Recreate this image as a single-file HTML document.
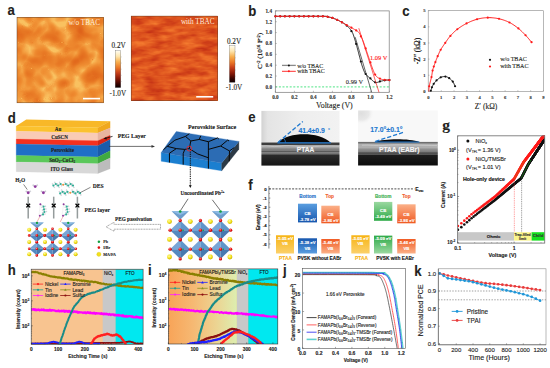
<!DOCTYPE html><html><head><meta charset="utf-8"><style>html,body{margin:0;padding:0;background:#fff;width:550px;height:368px;overflow:hidden}svg{display:block}</style></head><body>
<svg width="550" height="368" viewBox="0 0 550 368">
<defs>
<filter id="afm1" x="0" y="0" width="100%" height="100%" color-interpolation-filters="sRGB">
<feTurbulence type="turbulence" baseFrequency="0.045" numOctaves="2" seed="3" result="t"/>
<feColorMatrix in="t" type="matrix" values="1 0 0 0 0 1 0 0 0 0 1 0 0 0 0 0 0 0 0 1" result="tg"/>
<feTurbulence type="fractalNoise" baseFrequency="0.07" numOctaves="2" seed="5" result="f"/>
<feColorMatrix in="f" type="matrix" values="1 0 0 0 0 1 0 0 0 0 1 0 0 0 0 0 0 0 0 1" result="fg"/>
<feComposite in="tg" in2="fg" operator="arithmetic" k1="0" k2="0.8" k3="0.9" k4="-0.3" result="c"/>
<feComponentTransfer in="c">
<feFuncR type="table" tableValues="0.98 0.96 0.94 0.92 0.90 0.88 0.85"/>
<feFuncG type="table" tableValues="0.76 0.64 0.56 0.50 0.45 0.40 0.35"/>
<feFuncB type="table" tableValues="0.38 0.27 0.20 0.16 0.13 0.11 0.09"/>
<feFuncA type="linear" slope="0" intercept="1"/>
</feComponentTransfer><feGaussianBlur stdDeviation="0.7"/></filter>
<filter id="afm2" x="0" y="0" width="100%" height="100%" color-interpolation-filters="sRGB">
<feTurbulence type="fractalNoise" baseFrequency="0.055 0.17" numOctaves="3" seed="9"/>
<feColorMatrix type="matrix" values="1 0 0 0 0 1 0 0 0 0 1 0 0 0 0 0 0 0 0 1"/>
<feComponentTransfer>
<feFuncR type="table" tableValues="0.72 0.79 0.85 0.90 0.95 0.99"/>
<feFuncG type="table" tableValues="0.15 0.22 0.30 0.38 0.47 0.58"/>
<feFuncB type="table" tableValues="0.07 0.09 0.11 0.14 0.18 0.24"/>
</feComponentTransfer><feGaussianBlur stdDeviation="0.4"/></filter>
<linearGradient id="cbar" x1="0" y1="0" x2="0" y2="1">
<stop offset="0" stop-color="#fffdf0"/><stop offset="0.15" stop-color="#fde6b0"/><stop offset="0.3" stop-color="#f8b050"/>
<stop offset="0.45" stop-color="#ec7a28"/><stop offset="0.6" stop-color="#c8401a"/><stop offset="0.75" stop-color="#8a1a08"/><stop offset="0.9" stop-color="#3a0400"/><stop offset="1" stop-color="#0a0000"/></linearGradient>
<radialGradient id="ysph" cx="0.4" cy="0.35" r="0.65"><stop offset="0" stop-color="#fffca0"/><stop offset="0.6" stop-color="#f2e01a"/><stop offset="1" stop-color="#c8b000"/></radialGradient>
<radialGradient id="rsph" cx="0.4" cy="0.35" r="0.65"><stop offset="0" stop-color="#ff8a8a"/><stop offset="0.6" stop-color="#e81010"/><stop offset="1" stop-color="#b00000"/></radialGradient>
</defs>
<text x="0.00" y="0.00" font-family='"Liberation Sans", sans-serif' font-size="15" text-anchor="start" font-weight="bold" fill="#231f20" stroke="#231f20" stroke-width="0.12" transform="translate(7.6,15.3) scale(0.88,1)">a</text>
<rect x="17.00" y="17.30" width="86.50" height="85.50" fill="#e8903a" stroke="none" stroke-width="0.6" filter="url(#afm1)"/>
<rect x="17.00" y="17.30" width="86.50" height="85.50" fill="none" stroke="#6a4a30" stroke-width="0.5" />
<rect x="131.20" y="16.10" width="86.50" height="84.50" fill="#d86020" stroke="none" stroke-width="0.6" filter="url(#afm2)"/>
<rect x="131.20" y="16.10" width="86.50" height="84.50" fill="none" stroke="#6a3a20" stroke-width="0.5" />
<text x="100.00" y="24.90" font-family='"Liberation Serif", serif' font-size="7.2" text-anchor="end" font-weight="normal" fill="#fff0dc"  stroke="none">w/o TBAC</text>
<text x="214.50" y="23.50" font-family='"Liberation Serif", serif' font-size="7.2" text-anchor="end" font-weight="normal" fill="#fff0dc"  stroke="none">with TBAC</text>
<rect x="83.00" y="97.80" width="17.00" height="1.60" fill="#ffffff" stroke="none" stroke-width="0.6" />
<rect x="196.20" y="96.00" width="17.00" height="1.60" fill="#ffffff" stroke="none" stroke-width="0.6" />
<rect x="115.20" y="50.80" width="5.60" height="36.80" fill="url(#cbar)" stroke="#555" stroke-width="0.3" />
<rect x="229.40" y="45.60" width="5.60" height="36.70" fill="url(#cbar)" stroke="#555" stroke-width="0.3" />
<line x1="120.80" y1="56.93" x2="121.80" y2="56.93" stroke="#888" stroke-width="0.3" />
<line x1="120.80" y1="63.07" x2="121.80" y2="63.07" stroke="#888" stroke-width="0.3" />
<line x1="120.80" y1="69.20" x2="121.80" y2="69.20" stroke="#888" stroke-width="0.3" />
<line x1="120.80" y1="75.33" x2="121.80" y2="75.33" stroke="#888" stroke-width="0.3" />
<line x1="120.80" y1="81.47" x2="121.80" y2="81.47" stroke="#888" stroke-width="0.3" />
<line x1="235.00" y1="51.72" x2="236.00" y2="51.72" stroke="#888" stroke-width="0.3" />
<line x1="235.00" y1="57.83" x2="236.00" y2="57.83" stroke="#888" stroke-width="0.3" />
<line x1="235.00" y1="63.95" x2="236.00" y2="63.95" stroke="#888" stroke-width="0.3" />
<line x1="235.00" y1="70.07" x2="236.00" y2="70.07" stroke="#888" stroke-width="0.3" />
<line x1="235.00" y1="76.18" x2="236.00" y2="76.18" stroke="#888" stroke-width="0.3" />
<text x="118.60" y="48.30" font-family='"Liberation Serif", serif' font-size="7.2" text-anchor="middle" font-weight="normal" fill="#231f20" stroke="#231f20" stroke-width="0.12" >0.2V</text>
<text x="117.80" y="95.90" font-family='"Liberation Serif", serif' font-size="7.2" text-anchor="middle" font-weight="normal" fill="#231f20" stroke="#231f20" stroke-width="0.12" >-1.0V</text>
<text x="234.00" y="44.20" font-family='"Liberation Serif", serif' font-size="7.2" text-anchor="middle" font-weight="normal" fill="#231f20" stroke="#231f20" stroke-width="0.12" >0.2V</text>
<text x="234.00" y="89.90" font-family='"Liberation Serif", serif' font-size="7.2" text-anchor="middle" font-weight="normal" fill="#231f20" stroke="#231f20" stroke-width="0.12" >-1.0V</text>
<text x="0.00" y="0.00" font-family='"Liberation Sans", sans-serif' font-size="15" text-anchor="start" font-weight="bold" fill="#231f20" stroke="#231f20" stroke-width="0.12" transform="translate(248.3,15.5) scale(0.88,1)">b</text>
<line x1="275.30" y1="86.90" x2="389.20" y2="86.90" stroke="#22dd66" stroke-width="0.8" stroke-dasharray="2,1.6"/>
<rect x="275.30" y="10.90" width="113.90" height="81.40" fill="none" stroke="#777" stroke-width="0.7" />
<line x1="275.30" y1="86.90" x2="276.80" y2="86.90" stroke="#777" stroke-width="0.5" />
<text x="272.00" y="88.70" font-family='"Liberation Serif", serif' font-size="5.2" text-anchor="end" font-weight="bold" fill="#333" stroke="#333" stroke-width="0.12" >0.0</text>
<line x1="275.30" y1="76.04" x2="276.80" y2="76.04" stroke="#777" stroke-width="0.5" />
<text x="272.00" y="77.84" font-family='"Liberation Serif", serif' font-size="5.2" text-anchor="end" font-weight="bold" fill="#333" stroke="#333" stroke-width="0.12" >0.2</text>
<line x1="275.30" y1="65.18" x2="276.80" y2="65.18" stroke="#777" stroke-width="0.5" />
<text x="272.00" y="66.98" font-family='"Liberation Serif", serif' font-size="5.2" text-anchor="end" font-weight="bold" fill="#333" stroke="#333" stroke-width="0.12" >0.4</text>
<line x1="275.30" y1="54.32" x2="276.80" y2="54.32" stroke="#777" stroke-width="0.5" />
<text x="272.00" y="56.12" font-family='"Liberation Serif", serif' font-size="5.2" text-anchor="end" font-weight="bold" fill="#333" stroke="#333" stroke-width="0.12" >0.6</text>
<line x1="275.30" y1="43.46" x2="276.80" y2="43.46" stroke="#777" stroke-width="0.5" />
<text x="272.00" y="45.26" font-family='"Liberation Serif", serif' font-size="5.2" text-anchor="end" font-weight="bold" fill="#333" stroke="#333" stroke-width="0.12" >0.8</text>
<line x1="275.30" y1="32.60" x2="276.80" y2="32.60" stroke="#777" stroke-width="0.5" />
<text x="272.00" y="34.40" font-family='"Liberation Serif", serif' font-size="5.2" text-anchor="end" font-weight="bold" fill="#333" stroke="#333" stroke-width="0.12" >1.0</text>
<line x1="275.30" y1="21.74" x2="276.80" y2="21.74" stroke="#777" stroke-width="0.5" />
<text x="272.00" y="23.54" font-family='"Liberation Serif", serif' font-size="5.2" text-anchor="end" font-weight="bold" fill="#333" stroke="#333" stroke-width="0.12" >1.2</text>
<line x1="275.30" y1="10.88" x2="276.80" y2="10.88" stroke="#777" stroke-width="0.5" />
<text x="272.00" y="12.68" font-family='"Liberation Serif", serif' font-size="5.2" text-anchor="end" font-weight="bold" fill="#333" stroke="#333" stroke-width="0.12" >1.4</text>
<line x1="275.40" y1="92.30" x2="275.40" y2="90.80" stroke="#777" stroke-width="0.5" />
<text x="275.40" y="99.00" font-family='"Liberation Serif", serif' font-size="5.2" text-anchor="middle" font-weight="bold" fill="#333" stroke="#333" stroke-width="0.12" >0.0</text>
<line x1="294.40" y1="92.30" x2="294.40" y2="90.80" stroke="#777" stroke-width="0.5" />
<text x="294.40" y="99.00" font-family='"Liberation Serif", serif' font-size="5.2" text-anchor="middle" font-weight="bold" fill="#333" stroke="#333" stroke-width="0.12" >0.2</text>
<line x1="313.40" y1="92.30" x2="313.40" y2="90.80" stroke="#777" stroke-width="0.5" />
<text x="313.40" y="99.00" font-family='"Liberation Serif", serif' font-size="5.2" text-anchor="middle" font-weight="bold" fill="#333" stroke="#333" stroke-width="0.12" >0.4</text>
<line x1="332.40" y1="92.30" x2="332.40" y2="90.80" stroke="#777" stroke-width="0.5" />
<text x="332.40" y="99.00" font-family='"Liberation Serif", serif' font-size="5.2" text-anchor="middle" font-weight="bold" fill="#333" stroke="#333" stroke-width="0.12" >0.6</text>
<line x1="351.40" y1="92.30" x2="351.40" y2="90.80" stroke="#777" stroke-width="0.5" />
<text x="351.40" y="99.00" font-family='"Liberation Serif", serif' font-size="5.2" text-anchor="middle" font-weight="bold" fill="#333" stroke="#333" stroke-width="0.12" >0.8</text>
<line x1="370.40" y1="92.30" x2="370.40" y2="90.80" stroke="#777" stroke-width="0.5" />
<text x="370.40" y="99.00" font-family='"Liberation Serif", serif' font-size="5.2" text-anchor="middle" font-weight="bold" fill="#333" stroke="#333" stroke-width="0.12" >1.0</text>
<line x1="389.40" y1="92.30" x2="389.40" y2="90.80" stroke="#777" stroke-width="0.5" />
<text x="389.40" y="99.00" font-family='"Liberation Serif", serif' font-size="5.2" text-anchor="middle" font-weight="bold" fill="#333" stroke="#333" stroke-width="0.12" >1.2</text>
<text x="334.40" y="108.40" font-family='"Liberation Serif", serif' font-size="7.85" text-anchor="middle" font-weight="normal" fill="#231f20" stroke="#231f20" stroke-width="0.12" >Voltage (V)</text>
<text x="0.00" y="0.00" font-family='"Liberation Serif", serif' font-size="7.1" text-anchor="middle" font-weight="normal" fill="#111"  stroke="#111" stroke-width="0.2" transform="translate(262.2,50.9) rotate(-90)">C<tspan dy="-2.5" font-size="4.5">-2</tspan><tspan dy="2.5"> (10</tspan><tspan dy="-2.5" font-size="4.5">16</tspan><tspan dy="2.5"> F</tspan><tspan dy="-2.5" font-size="4.5">-2</tspan><tspan dy="2.5">)</tspan></text>
<polyline points="275.40,16.31 278.42,16.31 282.54,16.30 287.51,16.29 293.03,16.28 298.85,16.28 304.70,16.27 310.30,16.27 315.38,16.28 319.67,16.29 322.90,16.31 325.11,16.34 326.59,16.38 327.47,16.42 327.88,16.46 327.95,16.51 327.80,16.57 327.57,16.63 327.38,16.70 327.37,16.77 327.65,16.85 328.12,16.94 328.60,17.02 329.07,17.11 329.55,17.21 330.02,17.31 330.50,17.42 330.97,17.54 331.45,17.66 331.92,17.79 332.40,17.94 332.88,18.09 333.35,18.26 333.82,18.43 334.30,18.61 334.77,18.80 335.25,19.00 335.72,19.20 336.20,19.41 336.67,19.62 337.15,19.84 337.63,20.06 338.11,20.29 338.60,20.53 339.09,20.78 339.57,21.02 340.05,21.28 340.53,21.53 341.00,21.78 341.46,22.03 341.90,22.28 342.33,22.53 342.76,22.77 343.18,23.01 343.59,23.24 343.99,23.48 344.39,23.73 344.77,23.98 345.15,24.24 345.53,24.50 345.89,24.78 346.24,25.07 346.58,25.35 346.91,25.65 347.23,25.94 347.55,26.25 347.86,26.57 348.17,26.90 348.48,27.24 348.80,27.60 349.12,27.98 349.45,28.37 349.78,28.74 350.11,29.11 350.45,29.49 350.78,29.89 351.12,30.33 351.45,30.80 351.78,31.33 352.12,31.93 352.44,32.60 352.78,33.37 353.12,34.23 353.46,35.18 353.80,36.18 354.14,37.22 354.47,38.27 354.79,39.32 355.10,40.34 355.40,41.31 355.67,42.21 355.93,43.05 356.16,43.84 356.38,44.61 356.58,45.34 356.78,46.07 356.97,46.79 357.16,47.52 357.35,48.26 357.55,49.02 357.76,49.81 357.99,50.64 358.21,51.50 358.44,52.37 358.67,53.26 358.90,54.16 359.13,55.05 359.36,55.94 359.59,56.82 359.82,57.67 360.04,58.50 360.26,59.31 360.47,60.09 360.68,60.86 360.88,61.62 361.08,62.37 361.29,63.11 361.51,63.86 361.73,64.60 361.97,65.35 362.23,66.10 362.50,66.88 362.77,67.68 363.06,68.49 363.35,69.30 363.65,70.11 363.97,70.90 364.30,71.67 364.64,72.40 364.99,73.08 365.36,73.71 365.75,74.27 366.16,74.77 366.58,75.23 367.01,75.65 367.45,76.05 367.91,76.43 368.38,76.80 368.85,77.18 369.34,77.58 369.83,77.99 370.33,78.45 370.85,78.96 371.38,79.48 371.93,80.01 372.48,80.53 373.03,81.02 373.59,81.47 374.15,81.86 374.70,82.17 375.25,82.39 375.79,82.51 376.34,82.53 376.90,82.47 377.46,82.35 378.02,82.19 378.57,82.00 379.11,81.81 379.64,81.61 380.16,81.44 380.66,81.31 381.14,81.19 381.60,81.07 382.05,80.95 382.48,80.83 382.91,80.70 383.33,80.59 383.75,80.48 384.17,80.38 384.60,80.29 385.03,80.22 385.49,80.17 385.97,80.14 386.48,80.11 386.99,80.10 387.49,80.10 387.97,80.10 388.41,80.11 388.81,80.11 389.14,80.11 389.40,80.11" fill="none" stroke="#111" stroke-width="0.9" stroke-linejoin="round" />
<circle cx="275.40" cy="16.31" r="1.10" fill="#111" stroke="none" stroke-width="0.5" />
<circle cx="280.15" cy="16.31" r="1.10" fill="#111" stroke="none" stroke-width="0.5" />
<circle cx="284.90" cy="16.31" r="1.10" fill="#111" stroke="none" stroke-width="0.5" />
<circle cx="289.65" cy="16.31" r="1.10" fill="#111" stroke="none" stroke-width="0.5" />
<circle cx="294.40" cy="16.31" r="1.10" fill="#111" stroke="none" stroke-width="0.5" />
<circle cx="299.15" cy="16.31" r="1.10" fill="#111" stroke="none" stroke-width="0.5" />
<circle cx="303.90" cy="16.31" r="1.10" fill="#111" stroke="none" stroke-width="0.5" />
<circle cx="308.65" cy="16.31" r="1.10" fill="#111" stroke="none" stroke-width="0.5" />
<circle cx="313.40" cy="16.31" r="1.10" fill="#111" stroke="none" stroke-width="0.5" />
<circle cx="318.15" cy="16.31" r="1.10" fill="#111" stroke="none" stroke-width="0.5" />
<circle cx="322.90" cy="16.31" r="1.10" fill="#111" stroke="none" stroke-width="0.5" />
<circle cx="327.65" cy="16.85" r="1.10" fill="#111" stroke="none" stroke-width="0.5" />
<circle cx="332.40" cy="17.94" r="1.10" fill="#111" stroke="none" stroke-width="0.5" />
<circle cx="337.15" cy="19.84" r="1.10" fill="#111" stroke="none" stroke-width="0.5" />
<circle cx="341.90" cy="22.28" r="1.10" fill="#111" stroke="none" stroke-width="0.5" />
<circle cx="346.65" cy="25.53" r="1.10" fill="#111" stroke="none" stroke-width="0.5" />
<circle cx="351.40" cy="31.15" r="1.10" fill="#111" stroke="none" stroke-width="0.5" />
<circle cx="356.15" cy="43.94" r="1.10" fill="#111" stroke="none" stroke-width="0.5" />
<circle cx="360.90" cy="61.48" r="1.10" fill="#111" stroke="none" stroke-width="0.5" />
<circle cx="365.65" cy="73.98" r="1.10" fill="#111" stroke="none" stroke-width="0.5" />
<circle cx="370.40" cy="78.46" r="1.10" fill="#111" stroke="none" stroke-width="0.5" />
<circle cx="375.15" cy="82.32" r="1.10" fill="#111" stroke="none" stroke-width="0.5" />
<circle cx="379.90" cy="81.46" r="1.10" fill="#111" stroke="none" stroke-width="0.5" />
<circle cx="384.65" cy="80.32" r="1.10" fill="#111" stroke="none" stroke-width="0.5" />
<circle cx="389.40" cy="80.11" r="1.10" fill="#111" stroke="none" stroke-width="0.5" />
<polyline points="275.40,16.31 278.42,16.31 282.54,16.30 287.51,16.29 293.03,16.28 298.85,16.28 304.70,16.27 310.30,16.27 315.38,16.28 319.67,16.29 322.90,16.31 325.11,16.34 326.59,16.38 327.47,16.42 327.88,16.46 327.95,16.51 327.80,16.57 327.57,16.63 327.38,16.70 327.37,16.77 327.65,16.85 328.12,16.94 328.60,17.02 329.07,17.11 329.55,17.21 330.02,17.31 330.50,17.42 330.97,17.54 331.45,17.66 331.92,17.79 332.40,17.94 332.88,18.09 333.35,18.26 333.82,18.43 334.30,18.61 334.77,18.80 335.25,19.00 335.72,19.20 336.20,19.41 336.67,19.62 337.15,19.84 337.62,20.06 338.10,20.29 338.57,20.52 339.05,20.76 339.52,21.01 340.00,21.26 340.47,21.51 340.95,21.77 341.42,22.03 341.90,22.28 342.38,22.54 342.85,22.81 343.33,23.08 343.80,23.35 344.28,23.63 344.76,23.91 345.23,24.18 345.71,24.46 346.18,24.73 346.65,25.00 347.12,25.26 347.58,25.52 348.05,25.78 348.51,26.04 348.97,26.29 349.43,26.55 349.90,26.81 350.36,27.07 350.83,27.34 351.30,27.60 351.79,27.88 352.30,28.17 352.81,28.46 353.33,28.75 353.85,29.04 354.35,29.34 354.84,29.62 355.31,29.90 355.75,30.17 356.15,30.43 356.51,30.65 356.83,30.84 357.11,31.00 357.38,31.15 357.62,31.30 357.86,31.47 358.10,31.67 358.35,31.91 358.62,32.22 358.90,32.60 359.22,33.05 359.54,33.56 359.87,34.11 360.20,34.71 360.54,35.34 360.89,36.01 361.23,36.70 361.57,37.42 361.90,38.15 362.23,38.90 362.55,39.67 362.87,40.47 363.18,41.29 363.49,42.15 363.80,43.02 364.11,43.91 364.42,44.82 364.73,45.74 365.04,46.66 365.36,47.59 365.69,48.52 366.02,49.48 366.35,50.45 366.68,51.44 367.02,52.43 367.35,53.43 367.69,54.43 368.02,55.43 368.36,56.43 368.69,57.42 369.02,58.40 369.36,59.41 369.69,60.42 370.02,61.43 370.36,62.44 370.69,63.44 371.02,64.42 371.36,65.37 371.69,66.30 372.01,67.19 372.34,68.06 372.67,68.92 372.99,69.77 373.31,70.60 373.64,71.40 373.96,72.17 374.28,72.90 374.60,73.59 374.92,74.22 375.25,74.79 375.56,75.30 375.87,75.74 376.18,76.13 376.48,76.46 376.79,76.77 377.10,77.04 377.42,77.29 377.76,77.53 378.11,77.76 378.47,77.99 378.88,78.23 379.31,78.44 379.77,78.65 380.25,78.83 380.73,79.00 381.20,79.15 381.66,79.29 382.09,79.42 382.49,79.53 382.84,79.62 383.14,79.70 383.39,79.75 383.59,79.78 383.77,79.79 383.94,79.79 384.10,79.78 384.28,79.77 384.49,79.77 384.73,79.77 385.03,79.79 385.40,79.81 385.83,79.85 386.32,79.88 386.83,79.92 387.35,79.96 387.86,80.00 388.34,80.03 388.77,80.07 389.13,80.09 389.40,80.11" fill="none" stroke="#ff1a1a" stroke-width="0.9" stroke-linejoin="round" />
<circle cx="275.40" cy="16.31" r="1.10" fill="#ff1a1a" stroke="none" stroke-width="0.5" />
<circle cx="280.15" cy="16.31" r="1.10" fill="#ff1a1a" stroke="none" stroke-width="0.5" />
<circle cx="284.90" cy="16.31" r="1.10" fill="#ff1a1a" stroke="none" stroke-width="0.5" />
<circle cx="289.65" cy="16.31" r="1.10" fill="#ff1a1a" stroke="none" stroke-width="0.5" />
<circle cx="294.40" cy="16.31" r="1.10" fill="#ff1a1a" stroke="none" stroke-width="0.5" />
<circle cx="299.15" cy="16.31" r="1.10" fill="#ff1a1a" stroke="none" stroke-width="0.5" />
<circle cx="303.90" cy="16.31" r="1.10" fill="#ff1a1a" stroke="none" stroke-width="0.5" />
<circle cx="308.65" cy="16.31" r="1.10" fill="#ff1a1a" stroke="none" stroke-width="0.5" />
<circle cx="313.40" cy="16.31" r="1.10" fill="#ff1a1a" stroke="none" stroke-width="0.5" />
<circle cx="318.15" cy="16.31" r="1.10" fill="#ff1a1a" stroke="none" stroke-width="0.5" />
<circle cx="322.90" cy="16.31" r="1.10" fill="#ff1a1a" stroke="none" stroke-width="0.5" />
<circle cx="327.65" cy="16.85" r="1.10" fill="#ff1a1a" stroke="none" stroke-width="0.5" />
<circle cx="332.40" cy="17.94" r="1.10" fill="#ff1a1a" stroke="none" stroke-width="0.5" />
<circle cx="337.15" cy="19.84" r="1.10" fill="#ff1a1a" stroke="none" stroke-width="0.5" />
<circle cx="341.90" cy="22.28" r="1.10" fill="#ff1a1a" stroke="none" stroke-width="0.5" />
<circle cx="346.65" cy="25.00" r="1.10" fill="#ff1a1a" stroke="none" stroke-width="0.5" />
<circle cx="351.40" cy="27.66" r="1.10" fill="#ff1a1a" stroke="none" stroke-width="0.5" />
<circle cx="356.15" cy="30.43" r="1.10" fill="#ff1a1a" stroke="none" stroke-width="0.5" />
<circle cx="360.90" cy="36.38" r="1.10" fill="#ff1a1a" stroke="none" stroke-width="0.5" />
<circle cx="365.65" cy="48.43" r="1.10" fill="#ff1a1a" stroke="none" stroke-width="0.5" />
<circle cx="370.40" cy="62.44" r="1.10" fill="#ff1a1a" stroke="none" stroke-width="0.5" />
<circle cx="375.15" cy="74.57" r="1.10" fill="#ff1a1a" stroke="none" stroke-width="0.5" />
<circle cx="379.90" cy="78.53" r="1.10" fill="#ff1a1a" stroke="none" stroke-width="0.5" />
<circle cx="384.65" cy="79.76" r="1.10" fill="#ff1a1a" stroke="none" stroke-width="0.5" />
<circle cx="389.40" cy="80.11" r="1.10" fill="#ff1a1a" stroke="none" stroke-width="0.5" />
<line x1="355.20" y1="37.20" x2="371.70" y2="92.30" stroke="#222" stroke-width="0.7" />
<line x1="358.80" y1="28.20" x2="379.00" y2="92.30" stroke="#ff2020" stroke-width="0.7" />
<text x="378.70" y="60.30" font-family='"Liberation Serif", serif' font-size="6.4" text-anchor="middle" font-weight="normal" fill="#ff2020" stroke="#ff2020" stroke-width="0.12" >1.09 V</text>
<text x="354.50" y="84.40" font-family='"Liberation Serif", serif' font-size="6.4" text-anchor="middle" font-weight="normal" fill="#333" stroke="#333" stroke-width="0.12" >0.99 V</text>
<line x1="282.00" y1="65.40" x2="295.80" y2="65.40" stroke="#8a8a8a" stroke-width="1.3" />
<circle cx="288.90" cy="65.40" r="1.00" fill="#111" stroke="none" stroke-width="0.5" />
<line x1="282.00" y1="71.30" x2="295.80" y2="71.30" stroke="#ff3030" stroke-width="1.0" />
<circle cx="288.90" cy="71.30" r="1.00" fill="#ff1a1a" stroke="none" stroke-width="0.5" />
<text x="297.20" y="67.50" font-family='"Liberation Serif", serif' font-size="5.9" text-anchor="start" font-weight="normal" fill="#231f20" stroke="#231f20" stroke-width="0.12" >w/o TBAC</text>
<text x="297.20" y="73.40" font-family='"Liberation Serif", serif' font-size="5.9" text-anchor="start" font-weight="normal" fill="#231f20" stroke="#231f20" stroke-width="0.12" >with TBAC</text>
<text x="0.00" y="0.00" font-family='"Liberation Sans", sans-serif' font-size="15" text-anchor="start" font-weight="bold" fill="#231f20" stroke="#231f20" stroke-width="0.12" transform="translate(402.3,15.5) scale(0.88,1)">c</text>
<rect x="428.20" y="10.70" width="115.20" height="80.70" fill="none" stroke="#888" stroke-width="0.6" />
<line x1="428.20" y1="91.40" x2="429.50" y2="91.40" stroke="#777" stroke-width="0.4" />
<text x="425.50" y="93.00" font-family='"Liberation Serif", serif' font-size="4.6" text-anchor="end" font-weight="bold" fill="#333" stroke="#333" stroke-width="0.12" >0</text>
<line x1="428.20" y1="75.26" x2="429.50" y2="75.26" stroke="#777" stroke-width="0.4" />
<text x="425.50" y="76.86" font-family='"Liberation Serif", serif' font-size="4.6" text-anchor="end" font-weight="bold" fill="#333" stroke="#333" stroke-width="0.12" >1</text>
<line x1="428.20" y1="59.12" x2="429.50" y2="59.12" stroke="#777" stroke-width="0.4" />
<text x="425.50" y="60.72" font-family='"Liberation Serif", serif' font-size="4.6" text-anchor="end" font-weight="bold" fill="#333" stroke="#333" stroke-width="0.12" >2</text>
<line x1="428.20" y1="42.98" x2="429.50" y2="42.98" stroke="#777" stroke-width="0.4" />
<text x="425.50" y="44.58" font-family='"Liberation Serif", serif' font-size="4.6" text-anchor="end" font-weight="bold" fill="#333" stroke="#333" stroke-width="0.12" >3</text>
<line x1="428.20" y1="26.84" x2="429.50" y2="26.84" stroke="#777" stroke-width="0.4" />
<text x="425.50" y="28.44" font-family='"Liberation Serif", serif' font-size="4.6" text-anchor="end" font-weight="bold" fill="#333" stroke="#333" stroke-width="0.12" >4</text>
<line x1="428.20" y1="10.70" x2="429.50" y2="10.70" stroke="#777" stroke-width="0.4" />
<text x="425.50" y="12.30" font-family='"Liberation Serif", serif' font-size="4.6" text-anchor="end" font-weight="bold" fill="#333" stroke="#333" stroke-width="0.12" >5</text>
<line x1="428.50" y1="91.40" x2="428.50" y2="90.10" stroke="#777" stroke-width="0.4" />
<text x="428.50" y="98.60" font-family='"Liberation Serif", serif' font-size="4.6" text-anchor="middle" font-weight="bold" fill="#333" stroke="#333" stroke-width="0.12" >0</text>
<line x1="441.27" y1="91.40" x2="441.27" y2="90.10" stroke="#777" stroke-width="0.4" />
<text x="441.27" y="98.60" font-family='"Liberation Serif", serif' font-size="4.6" text-anchor="middle" font-weight="bold" fill="#333" stroke="#333" stroke-width="0.12" >1</text>
<line x1="454.04" y1="91.40" x2="454.04" y2="90.10" stroke="#777" stroke-width="0.4" />
<text x="454.04" y="98.60" font-family='"Liberation Serif", serif' font-size="4.6" text-anchor="middle" font-weight="bold" fill="#333" stroke="#333" stroke-width="0.12" >2</text>
<line x1="466.81" y1="91.40" x2="466.81" y2="90.10" stroke="#777" stroke-width="0.4" />
<text x="466.81" y="98.60" font-family='"Liberation Serif", serif' font-size="4.6" text-anchor="middle" font-weight="bold" fill="#333" stroke="#333" stroke-width="0.12" >3</text>
<line x1="479.58" y1="91.40" x2="479.58" y2="90.10" stroke="#777" stroke-width="0.4" />
<text x="479.58" y="98.60" font-family='"Liberation Serif", serif' font-size="4.6" text-anchor="middle" font-weight="bold" fill="#333" stroke="#333" stroke-width="0.12" >4</text>
<line x1="492.35" y1="91.40" x2="492.35" y2="90.10" stroke="#777" stroke-width="0.4" />
<text x="492.35" y="98.60" font-family='"Liberation Serif", serif' font-size="4.6" text-anchor="middle" font-weight="bold" fill="#333" stroke="#333" stroke-width="0.12" >5</text>
<line x1="505.12" y1="91.40" x2="505.12" y2="90.10" stroke="#777" stroke-width="0.4" />
<text x="505.12" y="98.60" font-family='"Liberation Serif", serif' font-size="4.6" text-anchor="middle" font-weight="bold" fill="#333" stroke="#333" stroke-width="0.12" >6</text>
<line x1="517.89" y1="91.40" x2="517.89" y2="90.10" stroke="#777" stroke-width="0.4" />
<text x="517.89" y="98.60" font-family='"Liberation Serif", serif' font-size="4.6" text-anchor="middle" font-weight="bold" fill="#333" stroke="#333" stroke-width="0.12" >7</text>
<line x1="530.66" y1="91.40" x2="530.66" y2="90.10" stroke="#777" stroke-width="0.4" />
<text x="530.66" y="98.60" font-family='"Liberation Serif", serif' font-size="4.6" text-anchor="middle" font-weight="bold" fill="#333" stroke="#333" stroke-width="0.12" >8</text>
<line x1="543.43" y1="91.40" x2="543.43" y2="90.10" stroke="#777" stroke-width="0.4" />
<text x="543.43" y="98.60" font-family='"Liberation Serif", serif' font-size="4.6" text-anchor="middle" font-weight="bold" fill="#333" stroke="#333" stroke-width="0.12" >9</text>
<text x="486.00" y="108.60" font-family='"Liberation Serif", serif' font-size="7.5" text-anchor="middle" font-weight="normal" fill="#231f20" stroke="#231f20" stroke-width="0.12" >Z′ (kΩ)</text>
<text x="0.00" y="0.00" font-family='"Liberation Serif", serif' font-size="7.5" text-anchor="middle" font-weight="normal" fill="#111"  stroke="#111" stroke-width="0.2" transform="translate(420.3,51) rotate(-90)">-Z″ (kΩ)</text>
<polyline points="428.88,91.40 428.89,91.11 428.89,90.76 428.89,90.36 428.89,89.90 428.90,89.39 428.92,88.84 428.95,88.24 429.01,87.61 429.09,86.94 429.20,86.24 429.36,85.47 429.55,84.61 429.78,83.69 430.04,82.71 430.30,81.72 430.57,80.71 430.84,79.72 431.09,78.76 431.31,77.86 431.50,77.04 431.66,76.27 431.79,75.53 431.91,74.82 432.02,74.14 432.11,73.48 432.20,72.86 432.29,72.25 432.38,71.67 432.48,71.11 432.59,70.58 432.70,70.08 432.81,69.63 432.93,69.21 433.04,68.81 433.16,68.44 433.28,68.08 433.40,67.71 433.53,67.34 433.66,66.96 433.80,66.54 433.94,66.12 434.08,65.69 434.23,65.26 434.38,64.83 434.53,64.40 434.69,63.95 434.85,63.49 435.03,63.02 435.21,62.53 435.40,62.03 435.59,61.50 435.80,60.96 436.01,60.40 436.23,59.82 436.46,59.24 436.69,58.65 436.93,58.05 437.18,57.44 437.43,56.83 437.69,56.21 437.96,55.60 438.22,54.97 438.49,54.34 438.77,53.70 439.05,53.06 439.35,52.41 439.66,51.75 439.98,51.09 440.33,50.43 440.70,49.76 441.09,49.08 441.50,48.40 441.94,47.71 442.39,47.02 442.86,46.32 443.34,45.62 443.83,44.92 444.31,44.21 444.80,43.51 445.29,42.82 445.77,42.12 446.25,41.43 446.73,40.73 447.21,40.03 447.70,39.33 448.20,38.63 448.72,37.94 449.26,37.25 449.82,36.56 450.40,35.88 451.01,35.20 451.63,34.52 452.26,33.84 452.92,33.17 453.59,32.50 454.28,31.83 455.00,31.18 455.74,30.53 456.50,29.89 457.30,29.26 458.12,28.64 458.98,28.02 459.86,27.41 460.77,26.80 461.70,26.20 462.65,25.62 463.61,25.05 464.59,24.50 465.57,23.96 466.55,23.45 467.55,22.95 468.57,22.47 469.60,21.99 470.64,21.53 471.70,21.09 472.76,20.67 473.83,20.27 474.90,19.90 475.96,19.56 477.03,19.25 478.09,18.98 479.15,18.72 480.21,18.49 481.27,18.29 482.34,18.11 483.41,17.96 484.49,17.84 485.57,17.75 486.66,17.68 487.75,17.64 488.86,17.63 489.98,17.65 491.11,17.70 492.25,17.77 493.39,17.87 494.53,18.00 495.66,18.15 496.78,18.33 497.90,18.54 498.99,18.77 500.08,19.03 501.16,19.31 502.24,19.62 503.31,19.96 504.37,20.32 505.42,20.71 506.46,21.12 507.48,21.55 508.48,22.01 509.46,22.48 510.43,22.98 511.38,23.52 512.31,24.08 513.23,24.67 514.14,25.28 515.03,25.90 515.90,26.53 516.75,27.17 517.59,27.81 518.40,28.45 519.19,29.10 519.96,29.76 520.71,30.42 521.45,31.10 522.16,31.78 522.86,32.47 523.55,33.16 524.22,33.85 524.89,34.54 525.55,35.23 526.23,35.95 526.92,36.72 527.63,37.52 528.32,38.33 529.00,39.13 529.64,39.89 530.23,40.60 530.76,41.23 531.20,41.76 531.55,42.17" fill="none" stroke="#ff1a1a" stroke-width="1.0" stroke-linejoin="round" />
<circle cx="429.20" cy="86.24" r="1.10" fill="#ff1a1a" stroke="none" stroke-width="0.5" />
<circle cx="431.50" cy="77.04" r="1.10" fill="#ff1a1a" stroke="none" stroke-width="0.5" />
<circle cx="432.59" cy="70.58" r="1.10" fill="#ff1a1a" stroke="none" stroke-width="0.5" />
<circle cx="433.80" cy="66.54" r="1.10" fill="#ff1a1a" stroke="none" stroke-width="0.5" />
<circle cx="435.40" cy="62.03" r="1.10" fill="#ff1a1a" stroke="none" stroke-width="0.5" />
<circle cx="437.69" cy="56.21" r="1.10" fill="#ff1a1a" stroke="none" stroke-width="0.5" />
<circle cx="440.70" cy="49.76" r="1.10" fill="#ff1a1a" stroke="none" stroke-width="0.5" />
<circle cx="445.29" cy="42.82" r="1.10" fill="#ff1a1a" stroke="none" stroke-width="0.5" />
<circle cx="450.40" cy="35.88" r="1.10" fill="#ff1a1a" stroke="none" stroke-width="0.5" />
<circle cx="457.30" cy="29.26" r="1.10" fill="#ff1a1a" stroke="none" stroke-width="0.5" />
<circle cx="466.55" cy="23.45" r="1.10" fill="#ff1a1a" stroke="none" stroke-width="0.5" />
<circle cx="477.03" cy="19.25" r="1.10" fill="#ff1a1a" stroke="none" stroke-width="0.5" />
<circle cx="487.75" cy="17.64" r="1.10" fill="#ff1a1a" stroke="none" stroke-width="0.5" />
<circle cx="498.99" cy="18.77" r="1.10" fill="#ff1a1a" stroke="none" stroke-width="0.5" />
<circle cx="509.46" cy="22.48" r="1.10" fill="#ff1a1a" stroke="none" stroke-width="0.5" />
<circle cx="518.40" cy="28.45" r="1.10" fill="#ff1a1a" stroke="none" stroke-width="0.5" />
<circle cx="525.55" cy="35.23" r="1.10" fill="#ff1a1a" stroke="none" stroke-width="0.5" />
<circle cx="531.55" cy="42.17" r="1.10" fill="#ff1a1a" stroke="none" stroke-width="0.5" />
<polyline points="430.80,90.75 430.86,90.55 430.94,90.30 431.04,89.99 431.14,89.65 431.26,89.28 431.39,88.90 431.52,88.50 431.66,88.11 431.80,87.73 431.95,87.37 432.10,87.02 432.25,86.66 432.41,86.31 432.57,85.95 432.74,85.59 432.92,85.23 433.10,84.87 433.30,84.52 433.51,84.16 433.74,83.81 433.97,83.47 434.21,83.12 434.46,82.78 434.72,82.43 434.99,82.09 435.27,81.75 435.57,81.41 435.88,81.08 436.20,80.75 436.55,80.42 436.91,80.09 437.29,79.75 437.69,79.41 438.11,79.07 438.54,78.73 438.98,78.41 439.42,78.10 439.87,77.82 440.32,77.57 440.76,77.36 441.21,77.18 441.67,77.01 442.13,76.87 442.61,76.76 443.08,76.66 443.55,76.59 444.02,76.54 444.48,76.52 444.93,76.52 445.36,76.55 445.77,76.61 446.18,76.69 446.57,76.80 446.96,76.94 447.34,77.10 447.71,77.28 448.08,77.47 448.45,77.69 448.82,77.92 449.19,78.17 449.56,78.43 449.94,78.71 450.32,79.01 450.70,79.33 451.07,79.67 451.44,80.02 451.79,80.39 452.13,80.77 452.46,81.16 452.76,81.55 453.05,81.99 453.34,82.48 453.62,83.01 453.88,83.56 454.14,84.11 454.37,84.64 454.58,85.13 454.77,85.58 454.93,85.95 455.06,86.24" fill="none" stroke="#111" stroke-width="1.0" stroke-linejoin="round" />
<circle cx="430.80" cy="90.75" r="1.10" fill="#111" stroke="none" stroke-width="0.5" />
<circle cx="431.95" cy="87.37" r="1.10" fill="#111" stroke="none" stroke-width="0.5" />
<circle cx="433.74" cy="83.81" r="1.10" fill="#111" stroke="none" stroke-width="0.5" />
<circle cx="436.55" cy="80.42" r="1.10" fill="#111" stroke="none" stroke-width="0.5" />
<circle cx="440.76" cy="77.36" r="1.10" fill="#111" stroke="none" stroke-width="0.5" />
<circle cx="445.36" cy="76.55" r="1.10" fill="#111" stroke="none" stroke-width="0.5" />
<circle cx="449.19" cy="78.17" r="1.10" fill="#111" stroke="none" stroke-width="0.5" />
<circle cx="452.76" cy="81.55" r="1.10" fill="#111" stroke="none" stroke-width="0.5" />
<circle cx="455.06" cy="86.24" r="1.10" fill="#111" stroke="none" stroke-width="0.5" />
<circle cx="490.00" cy="59.80" r="1.10" fill="#111" stroke="none" stroke-width="0.5" />
<text x="500.20" y="61.40" font-family='"Liberation Serif", serif' font-size="6.05" text-anchor="start" font-weight="normal" fill="#231f20" stroke="#231f20" stroke-width="0.12" >w/o TBAC</text>
<circle cx="490.00" cy="66.50" r="1.10" fill="#ff1a1a" stroke="none" stroke-width="0.5" />
<text x="500.20" y="67.90" font-family='"Liberation Serif", serif' font-size="6.05" text-anchor="start" font-weight="normal" fill="#231f20" stroke="#231f20" stroke-width="0.12" >with TBAC</text>
<text x="0.00" y="0.00" font-family='"Liberation Sans", sans-serif' font-size="15" text-anchor="start" font-weight="bold" fill="#231f20" stroke="#231f20" stroke-width="0.12" transform="translate(7.8,123.0) scale(0.88,1)">d</text>
<polygon points="16.20,126.10 26.30,119.60 110.10,121.20 97.90,127.80" fill="#f8b828" stroke="none" stroke-width="0.5" />
<polygon points="16.20,126.10 97.90,127.80 97.90,133.00 16.20,131.30" fill="#fbc22e" stroke="#fbc22e" stroke-width="0.25" />
<polygon points="97.90,127.80 110.10,121.20 110.10,128.00 97.90,133.00" fill="#f0a81e" stroke="#f0a81e" stroke-width="0.25" />
<polygon points="16.20,131.30 97.90,133.00 97.90,140.80 16.20,139.10" fill="#f9cbb6" stroke="#f9cbb6" stroke-width="0.25" />
<polygon points="97.90,133.00 110.10,128.00 110.10,135.30 97.90,140.80" fill="#e8b4a0" stroke="#e8b4a0" stroke-width="0.25" />
<polygon points="16.20,139.10 97.90,140.80 97.90,145.70 16.20,144.00" fill="#f5301e" stroke="#f5301e" stroke-width="0.25" />
<polygon points="97.90,140.80 110.10,135.30 110.10,139.40 97.90,145.70" fill="#d82414" stroke="#d82414" stroke-width="0.25" />
<polygon points="16.20,144.00 97.90,145.70 97.90,157.10 16.20,155.40" fill="#1f6fc6" stroke="#1f6fc6" stroke-width="0.25" />
<polygon points="97.90,145.70 110.10,139.40 110.10,150.80 97.90,157.10" fill="#1a5cab" stroke="#1a5cab" stroke-width="0.25" />
<polygon points="16.20,155.40 97.90,157.10 97.90,163.70 16.20,162.00" fill="#5ac85a" stroke="#5ac85a" stroke-width="0.25" />
<polygon points="97.90,157.10 110.10,150.80 110.10,158.10 97.90,163.70" fill="#40aa40" stroke="#40aa40" stroke-width="0.25" />
<polygon points="16.20,162.00 97.90,163.70 97.90,173.40 16.20,171.70" fill="#d8d8d8" stroke="#d8d8d8" stroke-width="0.25" />
<polygon points="97.90,163.70 110.10,158.10 110.10,168.70 97.90,173.40" fill="#bcbcbc" stroke="#bcbcbc" stroke-width="0.25" />
<text x="58.00" y="131.40" font-family='"Liberation Serif", serif' font-size="5.1" text-anchor="middle" font-weight="bold" fill="#222" stroke="#222" stroke-width="0.12" >Au</text>
<text x="59.60" y="138.80" font-family='"Liberation Serif", serif' font-size="5.1" text-anchor="middle" font-weight="bold" fill="#222" stroke="#222" stroke-width="0.12" >CuSCN</text>
<text x="62.50" y="152.40" font-family='"Liberation Serif", serif' font-size="5.1" text-anchor="middle" font-weight="bold" fill="#222" stroke="#222" stroke-width="0.12" >Perovskite</text>
<text x="62.20" y="161.60" font-family='"Liberation Serif", serif' font-size="5.1" text-anchor="middle" font-weight="bold" fill="#222" stroke="#222" stroke-width="0.12" >SnO<tspan font-size="3.4" dy="1">2</tspan><tspan dy="-1">-CoCl</tspan><tspan font-size="3.4" dy="1">2</tspan></text>
<text x="61.70" y="170.60" font-family='"Liberation Serif", serif' font-size="5.1" text-anchor="middle" font-weight="bold" fill="#222" stroke="#222" stroke-width="0.12" >ITO Glass</text>
<line x1="112.50" y1="136.40" x2="105.50" y2="138.30" stroke="#111" stroke-width="0.8" />
<polygon points="103.50,138.80 106.20,136.90 106.80,139.40" fill="#111" stroke="none" stroke-width="0.5" />
<text x="117.70" y="137.60" font-family='"Liberation Serif", serif' font-size="5.8" text-anchor="start" font-weight="bold" fill="#222" stroke="#222" stroke-width="0.12" >PEG  Layer</text>
<line x1="109.00" y1="146.40" x2="152.00" y2="146.40" stroke="#333" stroke-width="0.7" />
<polygon points="155.00,146.40 151.50,145.00 151.50,147.80" fill="#333" stroke="none" stroke-width="0.5" />
<text x="212.10" y="128.90" font-family='"Liberation Serif", serif' font-size="6.0" text-anchor="middle" font-weight="bold" fill="#222" stroke="#222" stroke-width="0.12" >Perovskite Surface</text>
<polygon points="161.20,152.60 221.70,163.00 221.70,170.80 161.20,161.20" fill="#1b7fd0" stroke="#1b7fd0" stroke-width="0.3" />
<polygon points="221.70,163.00 238.90,141.40 238.90,149.20 221.70,170.80" fill="#2c3a46" stroke="#2c3a46" stroke-width="0.3" />
<polygon points="161.20,152.60 176.30,131.40 238.90,141.40 221.70,163.00" fill="#2c6cb4" stroke="#2c6cb4" stroke-width="0.3" />
<polyline points="163.35,149.84 167.16,146.33 174.80,140.22 185.49,136.40 189.31,133.73" fill="none" stroke="#080808" stroke-width="1.0" stroke-linejoin="round" />
<polyline points="185.49,136.40 190.83,140.98 199.23,139.45 200.76,135.79" fill="none" stroke="#080808" stroke-width="1.0" stroke-linejoin="round" />
<polyline points="199.23,139.45 208.40,141.74 217.56,137.93 218.78,139.00" fill="none" stroke="#080808" stroke-width="1.0" stroke-linejoin="round" />
<polyline points="208.40,141.74 208.40,150.91 208.40,168.62" fill="none" stroke="#080808" stroke-width="1.0" stroke-linejoin="round" />
<polyline points="208.40,149.38 220.61,146.02 227.49,140.22 229.01,140.83" fill="none" stroke="#080808" stroke-width="1.0" stroke-linejoin="round" />
<polyline points="220.61,146.02 229.47,150.91 234.36,147.55" fill="none" stroke="#080808" stroke-width="1.0" stroke-linejoin="round" />
<polyline points="190.83,140.98 189.31,148.62" fill="none" stroke="#080808" stroke-width="1.0" stroke-linejoin="round" />
<polyline points="167.16,146.33 176.33,148.62 184.73,149.38 189.31,148.62" fill="none" stroke="#080808" stroke-width="1.0" stroke-linejoin="round" />
<polyline points="189.31,148.62 197.71,153.96 208.40,157.78" fill="none" stroke="#080808" stroke-width="1.0" stroke-linejoin="round" />
<polyline points="176.33,148.62 169.45,153.20 169.45,162.51" fill="none" stroke="#080808" stroke-width="1.0" stroke-linejoin="round" />
<polyline points="184.73,149.38 183.20,153.66 183.20,164.65" fill="none" stroke="#080808" stroke-width="1.0" stroke-linejoin="round" />
<polyline points="229.47,150.91 229.17,161.29" fill="none" stroke="#080808" stroke-width="1.0" stroke-linejoin="round" />
<circle cx="189.30" cy="148.60" r="2.40" fill="none" stroke="#ee2222" stroke-width="0.9" />
<line x1="190.30" y1="151.50" x2="190.30" y2="186.00" stroke="#111" stroke-width="1.0" stroke-dasharray="1.3,0.9"/>
<polygon points="190.30,188.00 188.90,185.20 191.70,185.20" fill="#111" stroke="none" stroke-width="0.5" />
<text x="202.50" y="195.30" font-family='"Liberation Serif", serif' font-size="5.2" text-anchor="middle" font-weight="bold" fill="#222" stroke="#222" stroke-width="0.12" >Uncoordinated Pb<tspan font-size="3.4" dy="-2">2+</tspan></text>
<line x1="188.10" y1="198.80" x2="180.60" y2="210.40" stroke="#111" stroke-width="0.6" />
<line x1="212.30" y1="199.80" x2="220.30" y2="210.40" stroke="#111" stroke-width="0.6" />
<circle cx="29.20" cy="229.70" r="2.00" fill="url(#ysph)" stroke="none" stroke-width="0.5" />
<circle cx="45.00" cy="229.70" r="2.00" fill="url(#ysph)" stroke="none" stroke-width="0.5" />
<circle cx="60.40" cy="229.70" r="2.00" fill="url(#ysph)" stroke="none" stroke-width="0.5" />
<circle cx="75.60" cy="229.70" r="2.00" fill="url(#ysph)" stroke="none" stroke-width="0.5" />
<circle cx="29.20" cy="241.90" r="2.00" fill="url(#ysph)" stroke="none" stroke-width="0.5" />
<circle cx="45.00" cy="241.90" r="2.00" fill="url(#ysph)" stroke="none" stroke-width="0.5" />
<circle cx="60.40" cy="241.90" r="2.00" fill="url(#ysph)" stroke="none" stroke-width="0.5" />
<circle cx="75.60" cy="241.90" r="2.00" fill="url(#ysph)" stroke="none" stroke-width="0.5" />
<circle cx="29.20" cy="254.20" r="2.00" fill="url(#ysph)" stroke="none" stroke-width="0.5" />
<circle cx="45.00" cy="254.20" r="2.00" fill="url(#ysph)" stroke="none" stroke-width="0.5" />
<circle cx="60.40" cy="254.20" r="2.00" fill="url(#ysph)" stroke="none" stroke-width="0.5" />
<circle cx="75.60" cy="254.20" r="2.00" fill="url(#ysph)" stroke="none" stroke-width="0.5" />
<polygon points="29.20,235.40 36.80,228.80 36.80,235.40" fill="#78a6d6" stroke="none" stroke-width="0.5" />
<polygon points="36.80,228.80 44.40,235.40 36.80,235.40" fill="#6096ca" stroke="none" stroke-width="0.5" />
<polygon points="29.20,235.40 36.80,242.00 36.80,235.40" fill="#5489c0" stroke="none" stroke-width="0.5" />
<polygon points="36.80,242.00 44.40,235.40 36.80,235.40" fill="#4879b0" stroke="none" stroke-width="0.5" />
<polygon points="44.90,235.40 52.50,228.80 52.50,235.40" fill="#78a6d6" stroke="none" stroke-width="0.5" />
<polygon points="52.50,228.80 60.10,235.40 52.50,235.40" fill="#6096ca" stroke="none" stroke-width="0.5" />
<polygon points="44.90,235.40 52.50,242.00 52.50,235.40" fill="#5489c0" stroke="none" stroke-width="0.5" />
<polygon points="52.50,242.00 60.10,235.40 52.50,235.40" fill="#4879b0" stroke="none" stroke-width="0.5" />
<polygon points="60.60,235.40 68.20,228.80 68.20,235.40" fill="#78a6d6" stroke="none" stroke-width="0.5" />
<polygon points="68.20,228.80 75.80,235.40 68.20,235.40" fill="#6096ca" stroke="none" stroke-width="0.5" />
<polygon points="60.60,235.40 68.20,242.00 68.20,235.40" fill="#5489c0" stroke="none" stroke-width="0.5" />
<polygon points="68.20,242.00 75.80,235.40 68.20,235.40" fill="#4879b0" stroke="none" stroke-width="0.5" />
<polygon points="29.20,248.80 36.80,242.20 36.80,248.80" fill="#78a6d6" stroke="none" stroke-width="0.5" />
<polygon points="36.80,242.20 44.40,248.80 36.80,248.80" fill="#6096ca" stroke="none" stroke-width="0.5" />
<polygon points="29.20,248.80 36.80,255.40 36.80,248.80" fill="#5489c0" stroke="none" stroke-width="0.5" />
<polygon points="36.80,255.40 44.40,248.80 36.80,248.80" fill="#4879b0" stroke="none" stroke-width="0.5" />
<polygon points="44.90,248.80 52.50,242.20 52.50,248.80" fill="#78a6d6" stroke="none" stroke-width="0.5" />
<polygon points="52.50,242.20 60.10,248.80 52.50,248.80" fill="#6096ca" stroke="none" stroke-width="0.5" />
<polygon points="44.90,248.80 52.50,255.40 52.50,248.80" fill="#5489c0" stroke="none" stroke-width="0.5" />
<polygon points="52.50,255.40 60.10,248.80 52.50,248.80" fill="#4879b0" stroke="none" stroke-width="0.5" />
<polygon points="60.60,248.80 68.20,242.20 68.20,248.80" fill="#78a6d6" stroke="none" stroke-width="0.5" />
<polygon points="68.20,242.20 75.80,248.80 68.20,248.80" fill="#6096ca" stroke="none" stroke-width="0.5" />
<polygon points="60.60,248.80 68.20,255.40 68.20,248.80" fill="#5489c0" stroke="none" stroke-width="0.5" />
<polygon points="68.20,255.40 75.80,248.80 68.20,248.80" fill="#4879b0" stroke="none" stroke-width="0.5" />
<polygon points="30.20,222.60 43.80,222.60 37.00,228.60" fill="#6d9dcc" stroke="none" stroke-width="0.5" />
<polygon points="30.20,222.60 43.80,222.60 37.00,225.30" fill="#8dbbe4" stroke="none" stroke-width="0.5" />
<circle cx="37.00" cy="222.90" r="1.15" fill="#12a040" stroke="none" stroke-width="0.5" />
<polygon points="61.40,222.60 75.00,222.60 68.20,228.60" fill="#6d9dcc" stroke="none" stroke-width="0.5" />
<polygon points="61.40,222.60 75.00,222.60 68.20,225.30" fill="#8dbbe4" stroke="none" stroke-width="0.5" />
<circle cx="68.20" cy="222.90" r="1.15" fill="#12a040" stroke="none" stroke-width="0.5" />
<circle cx="52.50" cy="255.40" r="1.30" fill="url(#rsph)" stroke="none" stroke-width="0.5" />
<circle cx="29.20" cy="235.40" r="1.30" fill="url(#rsph)" stroke="none" stroke-width="0.5" />
<circle cx="75.80" cy="235.40" r="1.30" fill="url(#rsph)" stroke="none" stroke-width="0.5" />
<circle cx="60.60" cy="235.40" r="1.30" fill="url(#rsph)" stroke="none" stroke-width="0.5" />
<circle cx="36.80" cy="242.20" r="1.30" fill="url(#rsph)" stroke="none" stroke-width="0.5" />
<circle cx="68.20" cy="242.00" r="1.30" fill="url(#rsph)" stroke="none" stroke-width="0.5" />
<circle cx="44.40" cy="248.80" r="1.30" fill="url(#rsph)" stroke="none" stroke-width="0.5" />
<circle cx="36.80" cy="255.40" r="1.30" fill="url(#rsph)" stroke="none" stroke-width="0.5" />
<circle cx="68.20" cy="228.80" r="1.30" fill="url(#rsph)" stroke="none" stroke-width="0.5" />
<circle cx="52.50" cy="242.20" r="1.30" fill="url(#rsph)" stroke="none" stroke-width="0.5" />
<circle cx="44.90" cy="235.40" r="1.30" fill="url(#rsph)" stroke="none" stroke-width="0.5" />
<circle cx="60.10" cy="235.40" r="1.30" fill="url(#rsph)" stroke="none" stroke-width="0.5" />
<circle cx="52.50" cy="242.00" r="1.30" fill="url(#rsph)" stroke="none" stroke-width="0.5" />
<circle cx="29.20" cy="248.80" r="1.30" fill="url(#rsph)" stroke="none" stroke-width="0.5" />
<circle cx="75.80" cy="248.80" r="1.30" fill="url(#rsph)" stroke="none" stroke-width="0.5" />
<circle cx="52.50" cy="228.80" r="1.30" fill="url(#rsph)" stroke="none" stroke-width="0.5" />
<circle cx="68.20" cy="242.20" r="1.30" fill="url(#rsph)" stroke="none" stroke-width="0.5" />
<circle cx="60.60" cy="248.80" r="1.30" fill="url(#rsph)" stroke="none" stroke-width="0.5" />
<circle cx="68.20" cy="255.40" r="1.30" fill="url(#rsph)" stroke="none" stroke-width="0.5" />
<circle cx="44.40" cy="235.40" r="1.30" fill="url(#rsph)" stroke="none" stroke-width="0.5" />
<circle cx="36.80" cy="242.00" r="1.30" fill="url(#rsph)" stroke="none" stroke-width="0.5" />
<circle cx="36.80" cy="228.80" r="1.30" fill="url(#rsph)" stroke="none" stroke-width="0.5" />
<circle cx="44.90" cy="248.80" r="1.30" fill="url(#rsph)" stroke="none" stroke-width="0.5" />
<circle cx="60.10" cy="248.80" r="1.30" fill="url(#rsph)" stroke="none" stroke-width="0.5" />
<circle cx="36.80" cy="235.40" r="1.30" fill="url(#rsph)" stroke="none" stroke-width="0.5" />
<circle cx="38.93" cy="235.50" r="0.69" fill="#12a040" stroke="none" stroke-width="0.5" />
<circle cx="52.50" cy="235.40" r="1.30" fill="url(#rsph)" stroke="none" stroke-width="0.5" />
<circle cx="54.63" cy="235.50" r="0.69" fill="#12a040" stroke="none" stroke-width="0.5" />
<circle cx="68.20" cy="235.40" r="1.30" fill="url(#rsph)" stroke="none" stroke-width="0.5" />
<circle cx="70.33" cy="235.50" r="0.69" fill="#12a040" stroke="none" stroke-width="0.5" />
<circle cx="36.80" cy="248.80" r="1.30" fill="url(#rsph)" stroke="none" stroke-width="0.5" />
<circle cx="38.93" cy="248.90" r="0.69" fill="#12a040" stroke="none" stroke-width="0.5" />
<circle cx="52.50" cy="248.80" r="1.30" fill="url(#rsph)" stroke="none" stroke-width="0.5" />
<circle cx="54.63" cy="248.90" r="0.69" fill="#12a040" stroke="none" stroke-width="0.5" />
<circle cx="68.20" cy="248.80" r="1.30" fill="url(#rsph)" stroke="none" stroke-width="0.5" />
<circle cx="70.33" cy="248.90" r="0.69" fill="#12a040" stroke="none" stroke-width="0.5" />
<circle cx="169.50" cy="221.60" r="2.45" fill="url(#ysph)" stroke="none" stroke-width="0.5" />
<circle cx="190.30" cy="221.60" r="2.45" fill="url(#ysph)" stroke="none" stroke-width="0.5" />
<circle cx="210.40" cy="221.60" r="2.45" fill="url(#ysph)" stroke="none" stroke-width="0.5" />
<circle cx="229.90" cy="221.60" r="2.45" fill="url(#ysph)" stroke="none" stroke-width="0.5" />
<circle cx="169.50" cy="239.40" r="2.45" fill="url(#ysph)" stroke="none" stroke-width="0.5" />
<circle cx="190.30" cy="239.40" r="2.45" fill="url(#ysph)" stroke="none" stroke-width="0.5" />
<circle cx="210.40" cy="239.40" r="2.45" fill="url(#ysph)" stroke="none" stroke-width="0.5" />
<circle cx="229.90" cy="239.40" r="2.45" fill="url(#ysph)" stroke="none" stroke-width="0.5" />
<circle cx="169.50" cy="257.00" r="2.45" fill="url(#ysph)" stroke="none" stroke-width="0.5" />
<circle cx="190.30" cy="257.00" r="2.45" fill="url(#ysph)" stroke="none" stroke-width="0.5" />
<circle cx="210.40" cy="257.00" r="2.45" fill="url(#ysph)" stroke="none" stroke-width="0.5" />
<circle cx="229.90" cy="257.00" r="2.45" fill="url(#ysph)" stroke="none" stroke-width="0.5" />
<polygon points="170.10,230.20 180.20,220.50 180.20,230.20" fill="#78a6d6" stroke="none" stroke-width="0.5" />
<polygon points="180.20,220.50 190.30,230.20 180.20,230.20" fill="#6096ca" stroke="none" stroke-width="0.5" />
<polygon points="170.10,230.20 180.20,239.90 180.20,230.20" fill="#5489c0" stroke="none" stroke-width="0.5" />
<polygon points="180.20,239.90 190.30,230.20 180.20,230.20" fill="#4879b0" stroke="none" stroke-width="0.5" />
<polygon points="190.30,230.20 200.40,220.50 200.40,230.20" fill="#78a6d6" stroke="none" stroke-width="0.5" />
<polygon points="200.40,220.50 210.50,230.20 200.40,230.20" fill="#6096ca" stroke="none" stroke-width="0.5" />
<polygon points="190.30,230.20 200.40,239.90 200.40,230.20" fill="#5489c0" stroke="none" stroke-width="0.5" />
<polygon points="200.40,239.90 210.50,230.20 200.40,230.20" fill="#4879b0" stroke="none" stroke-width="0.5" />
<polygon points="210.40,230.20 220.50,220.50 220.50,230.20" fill="#78a6d6" stroke="none" stroke-width="0.5" />
<polygon points="220.50,220.50 230.60,230.20 220.50,230.20" fill="#6096ca" stroke="none" stroke-width="0.5" />
<polygon points="210.40,230.20 220.50,239.90 220.50,230.20" fill="#5489c0" stroke="none" stroke-width="0.5" />
<polygon points="220.50,239.90 230.60,230.20 220.50,230.20" fill="#4879b0" stroke="none" stroke-width="0.5" />
<polygon points="170.10,249.20 180.20,239.50 180.20,249.20" fill="#78a6d6" stroke="none" stroke-width="0.5" />
<polygon points="180.20,239.50 190.30,249.20 180.20,249.20" fill="#6096ca" stroke="none" stroke-width="0.5" />
<polygon points="170.10,249.20 180.20,258.90 180.20,249.20" fill="#5489c0" stroke="none" stroke-width="0.5" />
<polygon points="180.20,258.90 190.30,249.20 180.20,249.20" fill="#4879b0" stroke="none" stroke-width="0.5" />
<polygon points="190.30,249.20 200.40,239.50 200.40,249.20" fill="#78a6d6" stroke="none" stroke-width="0.5" />
<polygon points="200.40,239.50 210.50,249.20 200.40,249.20" fill="#6096ca" stroke="none" stroke-width="0.5" />
<polygon points="190.30,249.20 200.40,258.90 200.40,249.20" fill="#5489c0" stroke="none" stroke-width="0.5" />
<polygon points="200.40,258.90 210.50,249.20 200.40,249.20" fill="#4879b0" stroke="none" stroke-width="0.5" />
<polygon points="210.40,249.20 220.50,239.50 220.50,249.20" fill="#78a6d6" stroke="none" stroke-width="0.5" />
<polygon points="220.50,239.50 230.60,249.20 220.50,249.20" fill="#6096ca" stroke="none" stroke-width="0.5" />
<polygon points="210.40,249.20 220.50,258.90 220.50,249.20" fill="#5489c0" stroke="none" stroke-width="0.5" />
<polygon points="220.50,258.90 230.60,249.20 220.50,249.20" fill="#4879b0" stroke="none" stroke-width="0.5" />
<polygon points="171.60,211.20 188.80,211.20 180.20,219.80" fill="#6d9dcc" stroke="none" stroke-width="0.5" />
<polygon points="171.60,211.20 188.80,211.20 180.20,215.07" fill="#8dbbe4" stroke="none" stroke-width="0.5" />
<circle cx="180.20" cy="211.50" r="1.35" fill="#12a040" stroke="none" stroke-width="0.5" />
<polygon points="211.90,211.20 229.10,211.20 220.50,219.80" fill="#6d9dcc" stroke="none" stroke-width="0.5" />
<polygon points="211.90,211.20 229.10,211.20 220.50,215.07" fill="#8dbbe4" stroke="none" stroke-width="0.5" />
<circle cx="220.50" cy="211.50" r="1.35" fill="#12a040" stroke="none" stroke-width="0.5" />
<circle cx="190.30" cy="249.20" r="1.65" fill="url(#rsph)" stroke="none" stroke-width="0.5" />
<circle cx="200.40" cy="220.50" r="1.65" fill="url(#rsph)" stroke="none" stroke-width="0.5" />
<circle cx="210.50" cy="230.20" r="1.65" fill="url(#rsph)" stroke="none" stroke-width="0.5" />
<circle cx="220.50" cy="239.50" r="1.65" fill="url(#rsph)" stroke="none" stroke-width="0.5" />
<circle cx="180.20" cy="258.90" r="1.65" fill="url(#rsph)" stroke="none" stroke-width="0.5" />
<circle cx="180.20" cy="239.90" r="1.65" fill="url(#rsph)" stroke="none" stroke-width="0.5" />
<circle cx="190.30" cy="230.20" r="1.65" fill="url(#rsph)" stroke="none" stroke-width="0.5" />
<circle cx="230.60" cy="249.20" r="1.65" fill="url(#rsph)" stroke="none" stroke-width="0.5" />
<circle cx="210.40" cy="249.20" r="1.65" fill="url(#rsph)" stroke="none" stroke-width="0.5" />
<circle cx="220.50" cy="220.50" r="1.65" fill="url(#rsph)" stroke="none" stroke-width="0.5" />
<circle cx="180.20" cy="239.50" r="1.65" fill="url(#rsph)" stroke="none" stroke-width="0.5" />
<circle cx="230.60" cy="230.20" r="1.65" fill="url(#rsph)" stroke="none" stroke-width="0.5" />
<circle cx="200.40" cy="258.90" r="1.65" fill="url(#rsph)" stroke="none" stroke-width="0.5" />
<circle cx="210.40" cy="230.20" r="1.65" fill="url(#rsph)" stroke="none" stroke-width="0.5" />
<circle cx="200.40" cy="239.90" r="1.65" fill="url(#rsph)" stroke="none" stroke-width="0.5" />
<circle cx="170.10" cy="249.20" r="1.65" fill="url(#rsph)" stroke="none" stroke-width="0.5" />
<circle cx="180.20" cy="220.50" r="1.65" fill="url(#rsph)" stroke="none" stroke-width="0.5" />
<circle cx="200.40" cy="239.50" r="1.65" fill="url(#rsph)" stroke="none" stroke-width="0.5" />
<circle cx="210.50" cy="249.20" r="1.65" fill="url(#rsph)" stroke="none" stroke-width="0.5" />
<circle cx="220.50" cy="258.90" r="1.65" fill="url(#rsph)" stroke="none" stroke-width="0.5" />
<circle cx="220.50" cy="239.90" r="1.65" fill="url(#rsph)" stroke="none" stroke-width="0.5" />
<circle cx="170.10" cy="230.20" r="1.65" fill="url(#rsph)" stroke="none" stroke-width="0.5" />
<circle cx="180.20" cy="230.20" r="1.65" fill="url(#rsph)" stroke="none" stroke-width="0.5" />
<circle cx="183.03" cy="230.30" r="0.81" fill="#12a040" stroke="none" stroke-width="0.5" />
<circle cx="200.40" cy="230.20" r="1.65" fill="url(#rsph)" stroke="none" stroke-width="0.5" />
<circle cx="203.23" cy="230.30" r="0.81" fill="#12a040" stroke="none" stroke-width="0.5" />
<circle cx="220.50" cy="230.20" r="1.65" fill="url(#rsph)" stroke="none" stroke-width="0.5" />
<circle cx="223.33" cy="230.30" r="0.81" fill="#12a040" stroke="none" stroke-width="0.5" />
<circle cx="180.20" cy="249.20" r="1.65" fill="url(#rsph)" stroke="none" stroke-width="0.5" />
<circle cx="183.03" cy="249.30" r="0.81" fill="#12a040" stroke="none" stroke-width="0.5" />
<circle cx="200.40" cy="249.20" r="1.65" fill="url(#rsph)" stroke="none" stroke-width="0.5" />
<circle cx="203.23" cy="249.30" r="0.81" fill="#12a040" stroke="none" stroke-width="0.5" />
<circle cx="220.50" cy="249.20" r="1.65" fill="url(#rsph)" stroke="none" stroke-width="0.5" />
<circle cx="223.33" cy="249.30" r="0.81" fill="#12a040" stroke="none" stroke-width="0.5" />
<circle cx="98.90" cy="241.70" r="1.25" fill="#12a040" stroke="none" stroke-width="0.5" />
<text x="103.20" y="243.20" font-family='"Liberation Serif", serif' font-size="4.0" text-anchor="start" font-weight="bold" fill="#222" stroke="#222" stroke-width="0.12" >Pb</text>
<circle cx="98.90" cy="247.60" r="1.30" fill="#e01010" stroke="none" stroke-width="0.5" />
<text x="103.20" y="249.20" font-family='"Liberation Serif", serif' font-size="4.0" text-anchor="start" font-weight="bold" fill="#222" stroke="#222" stroke-width="0.12" >I/Br</text>
<circle cx="98.90" cy="254.30" r="2.10" fill="#f3e11a" stroke="#c8b400" stroke-width="0.3" />
<text x="103.20" y="255.80" font-family='"Liberation Serif", serif' font-size="4.0" text-anchor="start" font-weight="bold" fill="#222" stroke="#222" stroke-width="0.12" >MA/FA</text>
<polygon points="160.50,224.40 114.00,224.40 114.00,222.30 106.00,226.80 114.00,231.30 114.00,229.20 160.50,229.20" fill="#fff" stroke="#444" stroke-width="0.5" stroke-dasharray="1,0.6"/>
<text x="133.50" y="221.20" font-family='"Liberation Serif", serif' font-size="5.2" text-anchor="middle" font-weight="bold" fill="#222" stroke="#222" stroke-width="0.12" >PEG passivation</text>
<rect x="27.45" y="196.70" width="1.50" height="21.80" fill="#959c9c" stroke="none" stroke-width="0.6" />
<line x1="26.30" y1="203.80" x2="30.10" y2="207.40" stroke="#000" stroke-width="1.3" />
<line x1="26.30" y1="207.40" x2="30.10" y2="203.80" stroke="#000" stroke-width="1.3" />
<rect x="52.95" y="196.70" width="1.50" height="21.80" fill="#959c9c" stroke="none" stroke-width="0.6" />
<line x1="51.80" y1="203.80" x2="55.60" y2="207.40" stroke="#000" stroke-width="1.3" />
<line x1="51.80" y1="207.40" x2="55.60" y2="203.80" stroke="#000" stroke-width="1.3" />
<rect x="76.65" y="196.70" width="1.50" height="21.80" fill="#959c9c" stroke="none" stroke-width="0.6" />
<line x1="75.50" y1="203.80" x2="79.30" y2="207.40" stroke="#000" stroke-width="1.3" />
<line x1="75.50" y1="207.40" x2="79.30" y2="203.80" stroke="#000" stroke-width="1.3" />
<text x="20.20" y="182.40" font-family='"Liberation Serif", serif' font-size="5.4" text-anchor="middle" font-weight="bold" fill="#222" stroke="#222" stroke-width="0.12" >H<tspan font-size="3.4" dy="1">2</tspan><tspan dy="-1">O</tspan></text>
<line x1="23.60" y1="184.40" x2="27.30" y2="189.60" stroke="#222" stroke-width="0.55" />
<circle cx="26.20" cy="191.30" r="0.60" fill="#dcdce6" stroke="#8a8a9a" stroke-width="0.2" />
<circle cx="30.20" cy="191.30" r="0.60" fill="#dcdce6" stroke="#8a8a9a" stroke-width="0.2" />
<line x1="26.20" y1="191.30" x2="28.20" y2="192.70" stroke="#999" stroke-width="0.3" />
<line x1="30.20" y1="191.30" x2="28.20" y2="192.70" stroke="#999" stroke-width="0.3" />
<circle cx="28.20" cy="192.70" r="1.45" fill="#8e3a9e" stroke="none" stroke-width="0.5" />
<circle cx="33.20" cy="185.20" r="0.60" fill="#dcdce6" stroke="#8a8a9a" stroke-width="0.2" />
<circle cx="37.20" cy="185.20" r="0.60" fill="#dcdce6" stroke="#8a8a9a" stroke-width="0.2" />
<line x1="33.20" y1="185.20" x2="35.20" y2="186.60" stroke="#999" stroke-width="0.3" />
<line x1="37.20" y1="185.20" x2="35.20" y2="186.60" stroke="#999" stroke-width="0.3" />
<circle cx="35.20" cy="186.60" r="1.45" fill="#8e3a9e" stroke="none" stroke-width="0.5" />
<circle cx="41.40" cy="191.30" r="0.60" fill="#dcdce6" stroke="#8a8a9a" stroke-width="0.2" />
<circle cx="45.40" cy="191.30" r="0.60" fill="#dcdce6" stroke="#8a8a9a" stroke-width="0.2" />
<line x1="41.40" y1="191.30" x2="43.40" y2="192.70" stroke="#999" stroke-width="0.3" />
<line x1="45.40" y1="191.30" x2="43.40" y2="192.70" stroke="#999" stroke-width="0.3" />
<circle cx="43.40" cy="192.70" r="1.45" fill="#8e3a9e" stroke="none" stroke-width="0.5" />
<line x1="53.40" y1="185.60" x2="55.80" y2="184.00" stroke="#7a9a9a" stroke-width="0.35" />
<line x1="55.80" y1="184.00" x2="58.20" y2="185.60" stroke="#7a9a9a" stroke-width="0.35" />
<line x1="58.20" y1="185.60" x2="60.60" y2="184.00" stroke="#7a9a9a" stroke-width="0.35" />
<line x1="60.60" y1="184.00" x2="63.20" y2="184.80" stroke="#7a9a9a" stroke-width="0.35" />
<line x1="63.20" y1="184.80" x2="65.80" y2="184.00" stroke="#7a9a9a" stroke-width="0.35" />
<line x1="65.80" y1="184.00" x2="68.20" y2="185.60" stroke="#7a9a9a" stroke-width="0.35" />
<line x1="68.20" y1="185.60" x2="70.60" y2="184.00" stroke="#7a9a9a" stroke-width="0.35" />
<line x1="70.60" y1="184.00" x2="73.00" y2="185.60" stroke="#7a9a9a" stroke-width="0.35" />
<circle cx="52.50" cy="183.90" r="0.50" fill="#dcdce6" stroke="#8a8a9a" stroke-width="0.2" />
<circle cx="54.30" cy="187.30" r="0.50" fill="#dcdce6" stroke="#8a8a9a" stroke-width="0.2" />
<circle cx="54.90" cy="182.30" r="0.50" fill="#dcdce6" stroke="#8a8a9a" stroke-width="0.2" />
<circle cx="56.70" cy="185.70" r="0.50" fill="#dcdce6" stroke="#8a8a9a" stroke-width="0.2" />
<circle cx="57.30" cy="183.90" r="0.50" fill="#dcdce6" stroke="#8a8a9a" stroke-width="0.2" />
<circle cx="59.10" cy="187.30" r="0.50" fill="#dcdce6" stroke="#8a8a9a" stroke-width="0.2" />
<circle cx="59.70" cy="182.30" r="0.50" fill="#dcdce6" stroke="#8a8a9a" stroke-width="0.2" />
<circle cx="61.50" cy="185.70" r="0.50" fill="#dcdce6" stroke="#8a8a9a" stroke-width="0.2" />
<circle cx="64.90" cy="182.30" r="0.50" fill="#dcdce6" stroke="#8a8a9a" stroke-width="0.2" />
<circle cx="66.70" cy="185.70" r="0.50" fill="#dcdce6" stroke="#8a8a9a" stroke-width="0.2" />
<circle cx="67.30" cy="183.90" r="0.50" fill="#dcdce6" stroke="#8a8a9a" stroke-width="0.2" />
<circle cx="69.10" cy="187.30" r="0.50" fill="#dcdce6" stroke="#8a8a9a" stroke-width="0.2" />
<circle cx="69.70" cy="182.30" r="0.50" fill="#dcdce6" stroke="#8a8a9a" stroke-width="0.2" />
<circle cx="71.50" cy="185.70" r="0.50" fill="#dcdce6" stroke="#8a8a9a" stroke-width="0.2" />
<circle cx="72.10" cy="183.90" r="0.50" fill="#dcdce6" stroke="#8a8a9a" stroke-width="0.2" />
<circle cx="73.90" cy="187.30" r="0.50" fill="#dcdce6" stroke="#8a8a9a" stroke-width="0.2" />
<circle cx="53.40" cy="185.60" r="1.10" fill="#2fae96" stroke="none" stroke-width="0.5" />
<circle cx="55.80" cy="184.00" r="1.10" fill="#2fae96" stroke="none" stroke-width="0.5" />
<circle cx="58.20" cy="185.60" r="1.10" fill="#2fae96" stroke="none" stroke-width="0.5" />
<circle cx="60.60" cy="184.00" r="1.10" fill="#2fae96" stroke="none" stroke-width="0.5" />
<circle cx="63.20" cy="184.80" r="1.00" fill="#f0903a" stroke="none" stroke-width="0.5" />
<circle cx="65.80" cy="184.00" r="1.10" fill="#2fae96" stroke="none" stroke-width="0.5" />
<circle cx="68.20" cy="185.60" r="1.10" fill="#2fae96" stroke="none" stroke-width="0.5" />
<circle cx="70.60" cy="184.00" r="1.10" fill="#2fae96" stroke="none" stroke-width="0.5" />
<circle cx="73.00" cy="185.60" r="1.10" fill="#2fae96" stroke="none" stroke-width="0.5" />
<line x1="60.20" y1="193.40" x2="62.60" y2="191.80" stroke="#7a9a9a" stroke-width="0.35" />
<line x1="62.60" y1="191.80" x2="65.00" y2="193.40" stroke="#7a9a9a" stroke-width="0.35" />
<line x1="65.00" y1="193.40" x2="67.40" y2="191.80" stroke="#7a9a9a" stroke-width="0.35" />
<line x1="67.40" y1="191.80" x2="70.30" y2="192.70" stroke="#7a9a9a" stroke-width="0.35" />
<line x1="70.30" y1="192.70" x2="73.00" y2="191.80" stroke="#7a9a9a" stroke-width="0.35" />
<line x1="73.00" y1="191.80" x2="75.40" y2="193.40" stroke="#7a9a9a" stroke-width="0.35" />
<line x1="75.40" y1="193.40" x2="77.80" y2="191.80" stroke="#7a9a9a" stroke-width="0.35" />
<line x1="77.80" y1="191.80" x2="80.00" y2="193.20" stroke="#7a9a9a" stroke-width="0.35" />
<circle cx="59.30" cy="191.70" r="0.50" fill="#dcdce6" stroke="#8a8a9a" stroke-width="0.2" />
<circle cx="61.10" cy="195.10" r="0.50" fill="#dcdce6" stroke="#8a8a9a" stroke-width="0.2" />
<circle cx="61.70" cy="190.10" r="0.50" fill="#dcdce6" stroke="#8a8a9a" stroke-width="0.2" />
<circle cx="63.50" cy="193.50" r="0.50" fill="#dcdce6" stroke="#8a8a9a" stroke-width="0.2" />
<circle cx="64.10" cy="191.70" r="0.50" fill="#dcdce6" stroke="#8a8a9a" stroke-width="0.2" />
<circle cx="65.90" cy="195.10" r="0.50" fill="#dcdce6" stroke="#8a8a9a" stroke-width="0.2" />
<circle cx="66.50" cy="190.10" r="0.50" fill="#dcdce6" stroke="#8a8a9a" stroke-width="0.2" />
<circle cx="68.30" cy="193.50" r="0.50" fill="#dcdce6" stroke="#8a8a9a" stroke-width="0.2" />
<circle cx="72.10" cy="190.10" r="0.50" fill="#dcdce6" stroke="#8a8a9a" stroke-width="0.2" />
<circle cx="73.90" cy="193.50" r="0.50" fill="#dcdce6" stroke="#8a8a9a" stroke-width="0.2" />
<circle cx="74.50" cy="191.70" r="0.50" fill="#dcdce6" stroke="#8a8a9a" stroke-width="0.2" />
<circle cx="76.30" cy="195.10" r="0.50" fill="#dcdce6" stroke="#8a8a9a" stroke-width="0.2" />
<circle cx="76.90" cy="190.10" r="0.50" fill="#dcdce6" stroke="#8a8a9a" stroke-width="0.2" />
<circle cx="78.70" cy="193.50" r="0.50" fill="#dcdce6" stroke="#8a8a9a" stroke-width="0.2" />
<circle cx="79.10" cy="191.50" r="0.50" fill="#dcdce6" stroke="#8a8a9a" stroke-width="0.2" />
<circle cx="80.90" cy="194.90" r="0.50" fill="#dcdce6" stroke="#8a8a9a" stroke-width="0.2" />
<circle cx="60.20" cy="193.40" r="1.10" fill="#2fae96" stroke="none" stroke-width="0.5" />
<circle cx="62.60" cy="191.80" r="1.10" fill="#2fae96" stroke="none" stroke-width="0.5" />
<circle cx="65.00" cy="193.40" r="1.10" fill="#2fae96" stroke="none" stroke-width="0.5" />
<circle cx="67.40" cy="191.80" r="1.10" fill="#2fae96" stroke="none" stroke-width="0.5" />
<circle cx="70.30" cy="192.70" r="1.00" fill="#f0903a" stroke="none" stroke-width="0.5" />
<circle cx="73.00" cy="191.80" r="1.10" fill="#2fae96" stroke="none" stroke-width="0.5" />
<circle cx="75.40" cy="193.40" r="1.10" fill="#2fae96" stroke="none" stroke-width="0.5" />
<circle cx="77.80" cy="191.80" r="1.10" fill="#2fae96" stroke="none" stroke-width="0.5" />
<circle cx="80.00" cy="193.20" r="1.10" fill="#2fae96" stroke="none" stroke-width="0.5" />
<text x="98.20" y="188.40" font-family='"Liberation Serif", serif' font-size="5.6" text-anchor="middle" font-weight="bold" fill="#222" stroke="#222" stroke-width="0.12" >DES</text>
<line x1="90.50" y1="187.30" x2="80.30" y2="192.60" stroke="#222" stroke-width="0.55" />
<text x="84.50" y="212.20" font-family='"Liberation Serif", serif' font-size="5.7" text-anchor="start" font-weight="bold" fill="#222" stroke="#222" stroke-width="0.12" >PEG layer</text>
<line x1="40.40" y1="204.20" x2="39.00" y2="214.40" stroke="#aaaaaa" stroke-width="0.3" stroke-dasharray="0.6,0.5"/>
<line x1="40.40" y1="204.20" x2="43.60" y2="206.60" stroke="#7a9a9a" stroke-width="0.35" />
<line x1="43.60" y1="206.60" x2="44.00" y2="209.40" stroke="#7a9a9a" stroke-width="0.35" />
<line x1="44.00" y1="209.40" x2="44.40" y2="212.00" stroke="#7a9a9a" stroke-width="0.35" />
<line x1="44.40" y1="212.00" x2="43.00" y2="214.40" stroke="#7a9a9a" stroke-width="0.35" />
<line x1="43.00" y1="214.40" x2="39.80" y2="215.80" stroke="#7a9a9a" stroke-width="0.35" />
<circle cx="45.50" cy="206.20" r="0.50" fill="#dcdce6" stroke="#8a8a9a" stroke-width="0.2" />
<circle cx="42.00" cy="207.20" r="0.50" fill="#dcdce6" stroke="#8a8a9a" stroke-width="0.2" />
<circle cx="45.90" cy="209.00" r="0.50" fill="#dcdce6" stroke="#8a8a9a" stroke-width="0.2" />
<circle cx="42.40" cy="210.00" r="0.50" fill="#dcdce6" stroke="#8a8a9a" stroke-width="0.2" />
<circle cx="46.30" cy="211.60" r="0.50" fill="#dcdce6" stroke="#8a8a9a" stroke-width="0.2" />
<circle cx="42.80" cy="212.60" r="0.50" fill="#dcdce6" stroke="#8a8a9a" stroke-width="0.2" />
<circle cx="44.90" cy="214.00" r="0.50" fill="#dcdce6" stroke="#8a8a9a" stroke-width="0.2" />
<circle cx="41.40" cy="215.00" r="0.50" fill="#dcdce6" stroke="#8a8a9a" stroke-width="0.2" />
<circle cx="40.40" cy="204.20" r="1.00" fill="#8e3a9e" stroke="none" stroke-width="0.5" />
<circle cx="43.60" cy="206.60" r="1.05" fill="#2fae96" stroke="none" stroke-width="0.5" />
<circle cx="44.00" cy="209.40" r="1.05" fill="#2fae96" stroke="none" stroke-width="0.5" />
<circle cx="44.40" cy="212.00" r="1.05" fill="#2fae96" stroke="none" stroke-width="0.5" />
<circle cx="43.00" cy="214.40" r="1.05" fill="#2fae96" stroke="none" stroke-width="0.5" />
<circle cx="39.80" cy="215.80" r="1.00" fill="#8e3a9e" stroke="none" stroke-width="0.5" />
<line x1="39.80" y1="216.60" x2="37.00" y2="222.00" stroke="#e06060" stroke-width="0.45" />
<line x1="63.60" y1="204.20" x2="62.20" y2="214.40" stroke="#aaaaaa" stroke-width="0.3" stroke-dasharray="0.6,0.5"/>
<line x1="63.60" y1="204.20" x2="66.80" y2="206.60" stroke="#7a9a9a" stroke-width="0.35" />
<line x1="66.80" y1="206.60" x2="67.20" y2="209.40" stroke="#7a9a9a" stroke-width="0.35" />
<line x1="67.20" y1="209.40" x2="67.60" y2="212.00" stroke="#7a9a9a" stroke-width="0.35" />
<line x1="67.60" y1="212.00" x2="66.20" y2="214.40" stroke="#7a9a9a" stroke-width="0.35" />
<line x1="66.20" y1="214.40" x2="63.00" y2="215.80" stroke="#7a9a9a" stroke-width="0.35" />
<circle cx="68.70" cy="206.20" r="0.50" fill="#dcdce6" stroke="#8a8a9a" stroke-width="0.2" />
<circle cx="65.20" cy="207.20" r="0.50" fill="#dcdce6" stroke="#8a8a9a" stroke-width="0.2" />
<circle cx="69.10" cy="209.00" r="0.50" fill="#dcdce6" stroke="#8a8a9a" stroke-width="0.2" />
<circle cx="65.60" cy="210.00" r="0.50" fill="#dcdce6" stroke="#8a8a9a" stroke-width="0.2" />
<circle cx="69.50" cy="211.60" r="0.50" fill="#dcdce6" stroke="#8a8a9a" stroke-width="0.2" />
<circle cx="66.00" cy="212.60" r="0.50" fill="#dcdce6" stroke="#8a8a9a" stroke-width="0.2" />
<circle cx="68.10" cy="214.00" r="0.50" fill="#dcdce6" stroke="#8a8a9a" stroke-width="0.2" />
<circle cx="64.60" cy="215.00" r="0.50" fill="#dcdce6" stroke="#8a8a9a" stroke-width="0.2" />
<circle cx="63.60" cy="204.20" r="1.00" fill="#8e3a9e" stroke="none" stroke-width="0.5" />
<circle cx="66.80" cy="206.60" r="1.05" fill="#2fae96" stroke="none" stroke-width="0.5" />
<circle cx="67.20" cy="209.40" r="1.05" fill="#2fae96" stroke="none" stroke-width="0.5" />
<circle cx="67.60" cy="212.00" r="1.05" fill="#2fae96" stroke="none" stroke-width="0.5" />
<circle cx="66.20" cy="214.40" r="1.05" fill="#2fae96" stroke="none" stroke-width="0.5" />
<circle cx="63.00" cy="215.80" r="1.00" fill="#8e3a9e" stroke="none" stroke-width="0.5" />
<line x1="63.00" y1="216.60" x2="60.20" y2="222.00" stroke="#e06060" stroke-width="0.45" />
<text x="0.00" y="0.00" font-family='"Liberation Sans", sans-serif' font-size="15" text-anchor="start" font-weight="bold" fill="#231f20" stroke="#231f20" stroke-width="0.12" transform="translate(248.2,122.4) scale(0.88,1)">e</text>
<defs>
<linearGradient id="esky1" x1="0" y1="0" x2="1" y2="0"><stop offset="0" stop-color="#d2d2d2"/><stop offset="0.08" stop-color="#e4e4e4"/><stop offset="0.5" stop-color="#eeeeee"/><stop offset="1" stop-color="#f2f2f2"/></linearGradient>
<linearGradient id="esub1" x1="0" y1="0" x2="0" y2="1">
<stop offset="0" stop-color="#3c3c3c"/><stop offset="0.09" stop-color="#3e3e3e"/><stop offset="0.12" stop-color="#a8a8a8"/><stop offset="0.24" stop-color="#a2a2a2"/><stop offset="0.27" stop-color="#828282"/><stop offset="0.37" stop-color="#7a7a7a"/><stop offset="0.40" stop-color="#4a4a4a"/><stop offset="0.44" stop-color="#8c8c8c"/><stop offset="0.50" stop-color="#666666"/><stop offset="0.56" stop-color="#2a2a2a"/><stop offset="1" stop-color="#151515"/></linearGradient>
<linearGradient id="esub2" x1="0" y1="0" x2="0" y2="1">
<stop offset="0" stop-color="#6a6a6a"/><stop offset="0.05" stop-color="#747474"/><stop offset="0.09" stop-color="#b0b0b0"/><stop offset="0.25" stop-color="#aeaeae"/><stop offset="0.3" stop-color="#929292"/><stop offset="0.43" stop-color="#7a7a7a"/><stop offset="0.47" stop-color="#3a3a3a"/><stop offset="0.52" stop-color="#6a6a6a"/><stop offset="0.57" stop-color="#1c1c1c"/><stop offset="1" stop-color="#0c0c0c"/></linearGradient>
</defs>
<rect x="261.40" y="110.90" width="78.10" height="31.60" fill="url(#esky1)" stroke="none" stroke-width="0.6" />
<rect x="261.40" y="142.50" width="78.10" height="23.10" fill="url(#esub1)" stroke="none" stroke-width="0.6" />
<path d="M262,146.2 C268,145.2 272,147.4 279,146.3 S292,145.6 300,146.6 S318,145.4 339,146.4" stroke="#d0d0d0" stroke-width="0.8" fill="none" opacity="0.8"/>
<path d="M277.4,142.8 C283,136.8 294,134.3 304,134.3 C314,134.3 325,136.8 330.8,142.8 Z" fill="#080808"/>
<line x1="277.40" y1="142.90" x2="330.80" y2="142.90" stroke="#1e78d0" stroke-width="1.1" />
<line x1="278.20" y1="142.20" x2="302.80" y2="121.60" stroke="#1e78d0" stroke-width="1.3" stroke-dasharray="4.2,2"/>
<path d="M285.5,142.6 A7,7 0 0 0 283.6,138.1" fill="none" stroke="#1e78d0" stroke-width="0.8"/>
<text x="298.40" y="132.50" font-family='"Liberation Sans", sans-serif' font-size="6.8" text-anchor="start" font-weight="bold" fill="#1e78d0" stroke="#1e78d0" stroke-width="0.12" >41.4±0.9</text>
<text x="327.90" y="131.60" font-family='"Liberation Sans", sans-serif' font-size="5" text-anchor="start" font-weight="bold" fill="#1e78d0" stroke="#1e78d0" stroke-width="0.12" >°</text>
<text x="305.50" y="152.40" font-family='"Liberation Sans", sans-serif' font-size="6.6" text-anchor="middle" font-weight="bold" fill="#f4f4f4" stroke="#f4f4f4" stroke-width="0.12" >PTAA</text>
<rect x="358.10" y="110.50" width="79.70" height="31.40" fill="#f8f8f8" stroke="none" stroke-width="0.6" />
<defs><radialGradient id="e2g" cx="0.2" cy="0.2" r="0.8"><stop offset="0" stop-color="#dedede"/><stop offset="0.6" stop-color="#e8e8e8"/><stop offset="1" stop-color="#f8f8f8" stop-opacity="0"/></radialGradient></defs>
<rect x="358.10" y="110.50" width="16.00" height="14.00" fill="url(#e2g)" stroke="none" stroke-width="0.6" />
<rect x="358.10" y="141.90" width="79.70" height="23.60" fill="url(#esub2)" stroke="none" stroke-width="0.6" />
<path d="M362,145.2 C370,144.6 376,146.2 385,145.4 S405,144.8 437,145.6" stroke="#d4d4d4" stroke-width="0.8" fill="none" opacity="0.8"/>
<path d="M374.8,142.0 C384,138.6 409,138.4 419.4,142.0 Z" fill="#080808"/>
<line x1="374.80" y1="142.00" x2="419.40" y2="142.00" stroke="#1e78d0" stroke-width="1.1" />
<line x1="375.40" y1="141.40" x2="403.20" y2="132.40" stroke="#1e78d0" stroke-width="1.3" stroke-dasharray="4.2,2"/>
<text x="370.20" y="132.00" font-family='"Liberation Sans", sans-serif' font-size="6.9" text-anchor="start" font-weight="bold" fill="#1e78d0" stroke="#1e78d0" stroke-width="0.12" >17.0°±0.1°</text>
<text x="399.20" y="151.60" font-family='"Liberation Sans", sans-serif' font-size="6.7" text-anchor="middle" font-weight="bold" fill="#f4f4f4" stroke="#f4f4f4" stroke-width="0.12" >PTAA (EABr)</text>
<text x="0.00" y="0.00" font-family='"Liberation Sans", sans-serif' font-size="15" text-anchor="start" font-weight="bold" fill="#231f20" stroke="#231f20" stroke-width="0.12" transform="translate(248.3,190.2) scale(0.88,1)">f</text>
<line x1="268.90" y1="186.00" x2="268.90" y2="248.50" stroke="#333" stroke-width="0.6" />
<line x1="268.90" y1="188.90" x2="270.40" y2="188.90" stroke="#333" stroke-width="0.5" />
<text x="266.60" y="190.50" font-family='"Liberation Sans", sans-serif' font-size="4.4" text-anchor="end" font-weight="bold" fill="#111" stroke="#111" stroke-width="0.12" >0</text>
<line x1="268.90" y1="198.08" x2="270.40" y2="198.08" stroke="#333" stroke-width="0.5" />
<text x="266.60" y="199.68" font-family='"Liberation Sans", sans-serif' font-size="4.4" text-anchor="end" font-weight="bold" fill="#111" stroke="#111" stroke-width="0.12" >-1</text>
<line x1="268.90" y1="207.26" x2="270.40" y2="207.26" stroke="#333" stroke-width="0.5" />
<text x="266.60" y="208.86" font-family='"Liberation Sans", sans-serif' font-size="4.4" text-anchor="end" font-weight="bold" fill="#111" stroke="#111" stroke-width="0.12" >-2</text>
<line x1="268.90" y1="216.44" x2="270.40" y2="216.44" stroke="#333" stroke-width="0.5" />
<text x="266.60" y="218.04" font-family='"Liberation Sans", sans-serif' font-size="4.4" text-anchor="end" font-weight="bold" fill="#111" stroke="#111" stroke-width="0.12" >-3</text>
<line x1="268.90" y1="225.62" x2="270.40" y2="225.62" stroke="#333" stroke-width="0.5" />
<text x="266.60" y="227.22" font-family='"Liberation Sans", sans-serif' font-size="4.4" text-anchor="end" font-weight="bold" fill="#111" stroke="#111" stroke-width="0.12" >-4</text>
<line x1="268.90" y1="234.80" x2="270.40" y2="234.80" stroke="#333" stroke-width="0.5" />
<text x="266.60" y="236.40" font-family='"Liberation Sans", sans-serif' font-size="4.4" text-anchor="end" font-weight="bold" fill="#111" stroke="#111" stroke-width="0.12" >-5</text>
<line x1="268.90" y1="243.98" x2="270.40" y2="243.98" stroke="#333" stroke-width="0.5" />
<text x="266.60" y="245.58" font-family='"Liberation Sans", sans-serif' font-size="4.4" text-anchor="end" font-weight="bold" fill="#111" stroke="#111" stroke-width="0.12" >-6</text>
<line x1="268.90" y1="193.49" x2="269.90" y2="193.49" stroke="#333" stroke-width="0.4" />
<line x1="268.90" y1="202.67" x2="269.90" y2="202.67" stroke="#333" stroke-width="0.4" />
<line x1="268.90" y1="211.85" x2="269.90" y2="211.85" stroke="#333" stroke-width="0.4" />
<line x1="268.90" y1="221.03" x2="269.90" y2="221.03" stroke="#333" stroke-width="0.4" />
<line x1="268.90" y1="230.21" x2="269.90" y2="230.21" stroke="#333" stroke-width="0.4" />
<line x1="268.90" y1="239.39" x2="269.90" y2="239.39" stroke="#333" stroke-width="0.4" />
<line x1="269.00" y1="188.90" x2="414.50" y2="188.90" stroke="#222" stroke-width="0.8" stroke-dasharray="2,1.3"/>
<text x="415.20" y="190.80" font-family='"Liberation Sans", sans-serif' font-size="5" text-anchor="start" font-weight="bold" fill="#222" stroke="#222" stroke-width="0.12" >E<tspan font-size="3" dy="1.2">vac</tspan></text>
<text x="0.00" y="0.00" font-family='"Liberation Sans", sans-serif' font-size="4.6" text-anchor="middle" font-weight="bold" fill="#111"  stroke="#111" stroke-width="0.15" transform="translate(259.8,217.2) rotate(-90)">Energy (eV)</text>
<defs>
<linearGradient id="gBcb" x1="0" y1="0" x2="0" y2="1"><stop offset="0" stop-color="#5a9ee0"/><stop offset="1" stop-color="#1656ae"/></linearGradient>
<linearGradient id="gBvb" x1="0" y1="0" x2="0" y2="1"><stop offset="0" stop-color="#1656ae"/><stop offset="1" stop-color="#5a9ee0"/></linearGradient>
<linearGradient id="gOcb" x1="0" y1="0" x2="0" y2="1"><stop offset="0" stop-color="#fbb088"/><stop offset="1" stop-color="#f05a22"/></linearGradient>
<linearGradient id="gOvb" x1="0" y1="0" x2="0" y2="1"><stop offset="0" stop-color="#f05a22"/><stop offset="1" stop-color="#fbb088"/></linearGradient>
<linearGradient id="gGcb" x1="0" y1="0" x2="0" y2="1"><stop offset="0" stop-color="#9ad8a0"/><stop offset="1" stop-color="#2eaa48"/></linearGradient>
<linearGradient id="gGvb" x1="0" y1="0" x2="0" y2="1"><stop offset="0" stop-color="#2eaa48"/><stop offset="1" stop-color="#9ad8a0"/></linearGradient>
<linearGradient id="gY" x1="0" y1="0" x2="0" y2="1"><stop offset="0" stop-color="#f7b414"/><stop offset="1" stop-color="#fbd06a"/></linearGradient>
</defs>
<rect x="276.00" y="235.26" width="18.00" height="18.24" fill="url(#gY)" stroke="none" stroke-width="0.6" />
<text x="285.00" y="239.50" font-family='"Liberation Sans", sans-serif' font-size="4.3" text-anchor="middle" font-weight="bold" fill="#ffffff" stroke="#ffffff" stroke-width="0.12" >-5.05 eV</text>
<text x="285.00" y="245.30" font-family='"Liberation Sans", sans-serif' font-size="4.3" text-anchor="middle" font-weight="bold" fill="#ffffff" stroke="#ffffff" stroke-width="0.12" >VB</text>
<rect x="298.00" y="203.70" width="19.00" height="18.70" fill="url(#gBcb)" stroke="none" stroke-width="0.6" />
<text x="307.50" y="215.40" font-family='"Liberation Sans", sans-serif' font-size="4.3" text-anchor="middle" font-weight="bold" fill="#ffffff" stroke="#ffffff" stroke-width="0.12" >CB</text>
<text x="307.50" y="220.90" font-family='"Liberation Sans", sans-serif' font-size="4.3" text-anchor="middle" font-weight="bold" fill="#ffffff" stroke="#ffffff" stroke-width="0.12" >-3.78 eV</text>
<rect x="298.00" y="238.29" width="19.00" height="15.21" fill="url(#gBvb)" stroke="none" stroke-width="0.6" />
<text x="307.50" y="244.00" font-family='"Liberation Sans", sans-serif' font-size="4.3" text-anchor="middle" font-weight="bold" fill="#ffffff" stroke="#ffffff" stroke-width="0.12" >-5.38 eV</text>
<text x="307.50" y="249.80" font-family='"Liberation Sans", sans-serif' font-size="4.3" text-anchor="middle" font-weight="bold" fill="#ffffff" stroke="#ffffff" stroke-width="0.12" >VB</text>
<rect x="321.30" y="205.70" width="18.40" height="17.60" fill="url(#gOcb)" stroke="none" stroke-width="0.6" />
<text x="330.50" y="216.00" font-family='"Liberation Sans", sans-serif' font-size="4.3" text-anchor="middle" font-weight="bold" fill="#ffffff" stroke="#ffffff" stroke-width="0.12" >CB</text>
<text x="330.50" y="221.70" font-family='"Liberation Sans", sans-serif' font-size="4.3" text-anchor="middle" font-weight="bold" fill="#ffffff" stroke="#ffffff" stroke-width="0.12" >-3.86 eV</text>
<rect x="321.30" y="239.02" width="18.40" height="14.48" fill="url(#gOvb)" stroke="none" stroke-width="0.6" />
<text x="330.50" y="244.30" font-family='"Liberation Sans", sans-serif' font-size="4.3" text-anchor="middle" font-weight="bold" fill="#ffffff" stroke="#ffffff" stroke-width="0.12" >-5.46 eV</text>
<text x="330.50" y="250.00" font-family='"Liberation Sans", sans-serif' font-size="4.3" text-anchor="middle" font-weight="bold" fill="#ffffff" stroke="#ffffff" stroke-width="0.12" >VB</text>
<rect x="351.30" y="235.26" width="18.30" height="18.24" fill="url(#gY)" stroke="none" stroke-width="0.6" />
<text x="360.45" y="239.50" font-family='"Liberation Sans", sans-serif' font-size="4.3" text-anchor="middle" font-weight="bold" fill="#ffffff" stroke="#ffffff" stroke-width="0.12" >-5.05 eV</text>
<text x="360.45" y="245.30" font-family='"Liberation Sans", sans-serif' font-size="4.3" text-anchor="middle" font-weight="bold" fill="#ffffff" stroke="#ffffff" stroke-width="0.12" >VB</text>
<rect x="374.00" y="201.90" width="18.30" height="18.90" fill="url(#gGcb)" stroke="none" stroke-width="0.6" />
<text x="383.15" y="212.00" font-family='"Liberation Sans", sans-serif' font-size="4.3" text-anchor="middle" font-weight="bold" fill="#ffffff" stroke="#ffffff" stroke-width="0.12" >CB</text>
<text x="383.15" y="218.00" font-family='"Liberation Sans", sans-serif' font-size="4.3" text-anchor="middle" font-weight="bold" fill="#ffffff" stroke="#ffffff" stroke-width="0.12" >-3.49 eV</text>
<rect x="374.00" y="235.63" width="18.30" height="17.87" fill="url(#gGvb)" stroke="none" stroke-width="0.6" />
<text x="383.15" y="240.10" font-family='"Liberation Sans", sans-serif' font-size="4.3" text-anchor="middle" font-weight="bold" fill="#ffffff" stroke="#ffffff" stroke-width="0.12" >-5.09 eV</text>
<text x="383.15" y="245.90" font-family='"Liberation Sans", sans-serif' font-size="4.3" text-anchor="middle" font-weight="bold" fill="#ffffff" stroke="#ffffff" stroke-width="0.12" >VB</text>
<rect x="397.20" y="204.30" width="18.40" height="19.00" fill="url(#gOcb)" stroke="none" stroke-width="0.6" />
<text x="406.40" y="216.00" font-family='"Liberation Sans", sans-serif' font-size="4.3" text-anchor="middle" font-weight="bold" fill="#ffffff" stroke="#ffffff" stroke-width="0.12" >CB</text>
<text x="406.40" y="221.70" font-family='"Liberation Sans", sans-serif' font-size="4.3" text-anchor="middle" font-weight="bold" fill="#ffffff" stroke="#ffffff" stroke-width="0.12" >-3.86 eV</text>
<rect x="397.20" y="239.02" width="18.40" height="14.48" fill="url(#gOvb)" stroke="none" stroke-width="0.6" />
<text x="406.40" y="244.30" font-family='"Liberation Sans", sans-serif' font-size="4.3" text-anchor="middle" font-weight="bold" fill="#ffffff" stroke="#ffffff" stroke-width="0.12" >-5.46 eV</text>
<text x="406.40" y="250.00" font-family='"Liberation Sans", sans-serif' font-size="4.3" text-anchor="middle" font-weight="bold" fill="#ffffff" stroke="#ffffff" stroke-width="0.12" >VB</text>
<text x="307.60" y="198.00" font-family='"Liberation Sans", sans-serif' font-size="4.75" text-anchor="middle" font-weight="bold" fill="#1e6ec8" stroke="#1e6ec8" stroke-width="0.12" >Bottom</text>
<text x="329.80" y="198.00" font-family='"Liberation Sans", sans-serif' font-size="4.75" text-anchor="middle" font-weight="bold" fill="#f06030" stroke="#f06030" stroke-width="0.12" >Top</text>
<text x="383.20" y="198.00" font-family='"Liberation Sans", sans-serif' font-size="4.75" text-anchor="middle" font-weight="bold" fill="#3cb050" stroke="#3cb050" stroke-width="0.12" >Bottom</text>
<text x="406.40" y="198.00" font-family='"Liberation Sans", sans-serif' font-size="4.75" text-anchor="middle" font-weight="bold" fill="#f06030" stroke="#f06030" stroke-width="0.12" >Top</text>
<text x="285.60" y="260.40" font-family='"Liberation Sans", sans-serif' font-size="4.9" text-anchor="middle" font-weight="bold" fill="#f7b414" stroke="#f7b414" stroke-width="0.12" >PTAA</text>
<text x="361.60" y="260.40" font-family='"Liberation Sans", sans-serif' font-size="4.9" text-anchor="middle" font-weight="bold" fill="#f7b414" stroke="#f7b414" stroke-width="0.12" >PTAA</text>
<text x="297.60" y="260.40" font-family='"Liberation Sans", sans-serif' font-size="4.7" text-anchor="start" font-weight="bold" fill="#111" stroke="#111" stroke-width="0.12" >PVSK without EABr</text>
<text x="376.20" y="260.40" font-family='"Liberation Sans", sans-serif' font-size="4.85" text-anchor="start" font-weight="bold" fill="#111" stroke="#111" stroke-width="0.12" >PVSK with EABr</text>
<text x="442.30" y="130.00" font-family='"Liberation Serif", serif' font-size="15.5" text-anchor="start" font-weight="bold" fill="#231f20" stroke="#231f20" stroke-width="0.12" >g</text>
<rect x="457.70" y="232.20" width="56.40" height="8.40" fill="#c8c8c8" stroke="none" stroke-width="0.6" />
<rect x="514.10" y="232.20" width="17.50" height="8.40" fill="#fbf58a" stroke="none" stroke-width="0.6" />
<rect x="531.60" y="232.20" width="13.10" height="8.40" fill="#14e01e" stroke="none" stroke-width="0.6" />
<text x="493.70" y="238.40" font-family='"Liberation Sans", sans-serif' font-size="4.4" text-anchor="middle" font-weight="bold" fill="#111" stroke="#111" stroke-width="0.12" >Ohmic</text>
<text x="522.60" y="235.60" font-family='"Liberation Sans", sans-serif' font-size="3.4" text-anchor="middle" font-weight="bold" fill="#333" stroke="#333" stroke-width="0.12" >Trap-filled</text>
<text x="522.60" y="240.00" font-family='"Liberation Sans", sans-serif' font-size="3.4" text-anchor="middle" font-weight="bold" fill="#333" stroke="#333" stroke-width="0.12" >limit</text>
<text x="538.00" y="236.60" font-family='"Liberation Sans", sans-serif' font-size="4.3" text-anchor="middle" font-weight="bold" fill="#333" stroke="#333" stroke-width="0.12" >Child</text>
<clipPath id="gclip"><rect x="457.6" y="135.8" width="87.1" height="106.4"/></clipPath>
<g clip-path="url(#gclip)">
<circle cx="457.94" cy="229.80" r="1.30" fill="#111" stroke="none" stroke-width="0.5" />
<circle cx="461.34" cy="227.15" r="1.30" fill="#111" stroke="none" stroke-width="0.5" />
<circle cx="464.31" cy="224.54" r="1.30" fill="#111" stroke="none" stroke-width="0.5" />
<circle cx="466.97" cy="222.22" r="1.30" fill="#111" stroke="none" stroke-width="0.5" />
<circle cx="469.36" cy="220.13" r="1.30" fill="#111" stroke="none" stroke-width="0.5" />
<circle cx="471.55" cy="218.22" r="1.30" fill="#111" stroke="none" stroke-width="0.5" />
<circle cx="473.55" cy="216.64" r="1.30" fill="#111" stroke="none" stroke-width="0.5" />
<circle cx="475.40" cy="215.21" r="1.30" fill="#111" stroke="none" stroke-width="0.5" />
<circle cx="477.12" cy="213.87" r="1.30" fill="#111" stroke="none" stroke-width="0.5" />
<circle cx="478.73" cy="212.62" r="1.30" fill="#111" stroke="none" stroke-width="0.5" />
<circle cx="480.24" cy="211.45" r="1.30" fill="#111" stroke="none" stroke-width="0.5" />
<circle cx="481.66" cy="210.35" r="1.30" fill="#111" stroke="none" stroke-width="0.5" />
<circle cx="483.01" cy="209.30" r="1.30" fill="#111" stroke="none" stroke-width="0.5" />
<circle cx="484.28" cy="208.32" r="1.30" fill="#111" stroke="none" stroke-width="0.5" />
<circle cx="485.49" cy="207.38" r="1.30" fill="#111" stroke="none" stroke-width="0.5" />
<circle cx="486.65" cy="206.48" r="1.30" fill="#111" stroke="none" stroke-width="0.5" />
<circle cx="487.75" cy="205.63" r="1.30" fill="#111" stroke="none" stroke-width="0.5" />
<circle cx="488.80" cy="204.81" r="1.30" fill="#111" stroke="none" stroke-width="0.5" />
<circle cx="489.81" cy="204.02" r="1.30" fill="#111" stroke="none" stroke-width="0.5" />
<circle cx="490.78" cy="203.27" r="1.30" fill="#111" stroke="none" stroke-width="0.5" />
<circle cx="491.72" cy="202.55" r="1.30" fill="#111" stroke="none" stroke-width="0.5" />
<circle cx="492.62" cy="201.85" r="1.30" fill="#111" stroke="none" stroke-width="0.5" />
<circle cx="493.48" cy="201.18" r="1.30" fill="#111" stroke="none" stroke-width="0.5" />
<circle cx="494.32" cy="200.53" r="1.30" fill="#111" stroke="none" stroke-width="0.5" />
<circle cx="495.13" cy="199.89" r="1.30" fill="#111" stroke="none" stroke-width="0.5" />
<circle cx="495.92" cy="199.24" r="1.30" fill="#111" stroke="none" stroke-width="0.5" />
<circle cx="496.68" cy="198.60" r="1.30" fill="#111" stroke="none" stroke-width="0.5" />
<circle cx="497.41" cy="197.99" r="1.30" fill="#111" stroke="none" stroke-width="0.5" />
<circle cx="498.13" cy="197.40" r="1.30" fill="#111" stroke="none" stroke-width="0.5" />
<circle cx="498.82" cy="196.82" r="1.30" fill="#111" stroke="none" stroke-width="0.5" />
<circle cx="499.50" cy="196.25" r="1.30" fill="#111" stroke="none" stroke-width="0.5" />
<circle cx="500.16" cy="195.71" r="1.30" fill="#111" stroke="none" stroke-width="0.5" />
<circle cx="500.80" cy="195.17" r="1.30" fill="#111" stroke="none" stroke-width="0.5" />
<circle cx="501.42" cy="194.65" r="1.30" fill="#111" stroke="none" stroke-width="0.5" />
<circle cx="502.03" cy="194.15" r="1.30" fill="#111" stroke="none" stroke-width="0.5" />
<circle cx="502.63" cy="193.65" r="1.30" fill="#111" stroke="none" stroke-width="0.5" />
<circle cx="503.21" cy="193.17" r="1.30" fill="#111" stroke="none" stroke-width="0.5" />
<circle cx="503.77" cy="192.70" r="1.30" fill="#111" stroke="none" stroke-width="0.5" />
<circle cx="504.33" cy="192.24" r="1.30" fill="#111" stroke="none" stroke-width="0.5" />
<circle cx="504.87" cy="191.79" r="1.30" fill="#111" stroke="none" stroke-width="0.5" />
<circle cx="505.40" cy="191.35" r="1.30" fill="#111" stroke="none" stroke-width="0.5" />
<circle cx="505.92" cy="190.92" r="1.30" fill="#111" stroke="none" stroke-width="0.5" />
<circle cx="506.42" cy="190.49" r="1.30" fill="#111" stroke="none" stroke-width="0.5" />
<circle cx="506.92" cy="190.08" r="1.30" fill="#111" stroke="none" stroke-width="0.5" />
<circle cx="507.41" cy="189.67" r="1.30" fill="#111" stroke="none" stroke-width="0.5" />
<circle cx="507.89" cy="189.28" r="1.30" fill="#111" stroke="none" stroke-width="0.5" />
<circle cx="508.36" cy="188.89" r="1.30" fill="#111" stroke="none" stroke-width="0.5" />
<circle cx="508.82" cy="188.50" r="1.30" fill="#111" stroke="none" stroke-width="0.5" />
<circle cx="509.27" cy="188.13" r="1.30" fill="#111" stroke="none" stroke-width="0.5" />
<circle cx="509.71" cy="187.76" r="1.30" fill="#111" stroke="none" stroke-width="0.5" />
<circle cx="510.15" cy="187.40" r="1.30" fill="#111" stroke="none" stroke-width="0.5" />
<circle cx="510.58" cy="187.04" r="1.30" fill="#111" stroke="none" stroke-width="0.5" />
<circle cx="511.00" cy="186.69" r="1.30" fill="#111" stroke="none" stroke-width="0.5" />
<circle cx="511.41" cy="186.35" r="1.30" fill="#111" stroke="none" stroke-width="0.5" />
<circle cx="511.82" cy="186.01" r="1.30" fill="#111" stroke="none" stroke-width="0.5" />
<circle cx="512.22" cy="185.67" r="1.30" fill="#111" stroke="none" stroke-width="0.5" />
<circle cx="512.61" cy="185.35" r="1.30" fill="#111" stroke="none" stroke-width="0.5" />
<circle cx="513.00" cy="185.02" r="1.30" fill="#111" stroke="none" stroke-width="0.5" />
<circle cx="513.38" cy="184.71" r="1.30" fill="#111" stroke="none" stroke-width="0.5" />
<circle cx="513.75" cy="184.39" r="1.30" fill="#111" stroke="none" stroke-width="0.5" />
<circle cx="514.12" cy="184.09" r="1.30" fill="#111" stroke="none" stroke-width="0.5" />
<circle cx="514.49" cy="183.78" r="1.30" fill="#111" stroke="none" stroke-width="0.5" />
<circle cx="514.85" cy="183.49" r="1.30" fill="#111" stroke="none" stroke-width="0.5" />
<circle cx="515.20" cy="183.19" r="1.30" fill="#111" stroke="none" stroke-width="0.5" />
<circle cx="515.55" cy="182.90" r="1.30" fill="#111" stroke="none" stroke-width="0.5" />
<circle cx="515.89" cy="182.61" r="1.30" fill="#111" stroke="none" stroke-width="0.5" />
<circle cx="516.23" cy="182.33" r="1.30" fill="#111" stroke="none" stroke-width="0.5" />
<circle cx="516.57" cy="182.05" r="1.30" fill="#111" stroke="none" stroke-width="0.5" />
<circle cx="516.90" cy="181.78" r="1.30" fill="#111" stroke="none" stroke-width="0.5" />
<circle cx="517.22" cy="181.51" r="1.30" fill="#111" stroke="none" stroke-width="0.5" />
<circle cx="517.54" cy="181.24" r="1.30" fill="#111" stroke="none" stroke-width="0.5" />
<circle cx="517.86" cy="180.98" r="1.30" fill="#111" stroke="none" stroke-width="0.5" />
<circle cx="518.17" cy="180.72" r="1.30" fill="#111" stroke="none" stroke-width="0.5" />
<circle cx="518.48" cy="180.46" r="1.30" fill="#111" stroke="none" stroke-width="0.5" />
<circle cx="518.79" cy="180.21" r="1.30" fill="#111" stroke="none" stroke-width="0.5" />
<circle cx="519.09" cy="179.95" r="1.30" fill="#111" stroke="none" stroke-width="0.5" />
<circle cx="519.39" cy="179.71" r="1.30" fill="#111" stroke="none" stroke-width="0.5" />
<circle cx="519.68" cy="179.46" r="1.30" fill="#111" stroke="none" stroke-width="0.5" />
<circle cx="519.97" cy="179.22" r="1.30" fill="#111" stroke="none" stroke-width="0.5" />
<circle cx="520.26" cy="178.98" r="1.30" fill="#111" stroke="none" stroke-width="0.5" />
<circle cx="520.55" cy="178.74" r="1.30" fill="#111" stroke="none" stroke-width="0.5" />
<circle cx="520.83" cy="178.51" r="1.30" fill="#111" stroke="none" stroke-width="0.5" />
<circle cx="521.10" cy="178.28" r="1.30" fill="#111" stroke="none" stroke-width="0.5" />
<circle cx="521.38" cy="177.85" r="1.30" fill="#111" stroke="none" stroke-width="0.5" />
<circle cx="521.65" cy="177.32" r="1.30" fill="#111" stroke="none" stroke-width="0.5" />
<circle cx="521.92" cy="176.79" r="1.30" fill="#111" stroke="none" stroke-width="0.5" />
<circle cx="522.18" cy="176.27" r="1.30" fill="#111" stroke="none" stroke-width="0.5" />
<circle cx="522.45" cy="175.76" r="1.30" fill="#111" stroke="none" stroke-width="0.5" />
<circle cx="522.71" cy="175.25" r="1.30" fill="#111" stroke="none" stroke-width="0.5" />
<circle cx="522.96" cy="174.75" r="1.30" fill="#111" stroke="none" stroke-width="0.5" />
<circle cx="523.22" cy="174.25" r="1.30" fill="#111" stroke="none" stroke-width="0.5" />
<circle cx="523.47" cy="173.76" r="1.30" fill="#111" stroke="none" stroke-width="0.5" />
<circle cx="523.72" cy="173.27" r="1.30" fill="#111" stroke="none" stroke-width="0.5" />
<circle cx="523.97" cy="172.78" r="1.30" fill="#111" stroke="none" stroke-width="0.5" />
<circle cx="524.21" cy="172.31" r="1.30" fill="#111" stroke="none" stroke-width="0.5" />
<circle cx="524.45" cy="171.83" r="1.30" fill="#111" stroke="none" stroke-width="0.5" />
<circle cx="524.69" cy="171.36" r="1.30" fill="#111" stroke="none" stroke-width="0.5" />
<circle cx="524.93" cy="170.90" r="1.30" fill="#111" stroke="none" stroke-width="0.5" />
<circle cx="525.16" cy="170.44" r="1.30" fill="#111" stroke="none" stroke-width="0.5" />
<circle cx="525.40" cy="169.98" r="1.30" fill="#111" stroke="none" stroke-width="0.5" />
<circle cx="525.63" cy="169.53" r="1.30" fill="#111" stroke="none" stroke-width="0.5" />
<circle cx="525.86" cy="169.08" r="1.30" fill="#111" stroke="none" stroke-width="0.5" />
<circle cx="526.08" cy="168.64" r="1.30" fill="#111" stroke="none" stroke-width="0.5" />
<circle cx="526.31" cy="168.20" r="1.30" fill="#111" stroke="none" stroke-width="0.5" />
<circle cx="526.53" cy="167.77" r="1.30" fill="#111" stroke="none" stroke-width="0.5" />
<circle cx="526.75" cy="167.34" r="1.30" fill="#111" stroke="none" stroke-width="0.5" />
<circle cx="526.97" cy="166.91" r="1.30" fill="#111" stroke="none" stroke-width="0.5" />
<circle cx="527.18" cy="166.49" r="1.30" fill="#111" stroke="none" stroke-width="0.5" />
<circle cx="527.40" cy="166.07" r="1.30" fill="#111" stroke="none" stroke-width="0.5" />
<circle cx="527.61" cy="165.65" r="1.30" fill="#111" stroke="none" stroke-width="0.5" />
<circle cx="527.82" cy="165.24" r="1.30" fill="#111" stroke="none" stroke-width="0.5" />
<circle cx="528.03" cy="164.83" r="1.30" fill="#111" stroke="none" stroke-width="0.5" />
<circle cx="528.24" cy="164.42" r="1.30" fill="#111" stroke="none" stroke-width="0.5" />
<circle cx="528.44" cy="164.08" r="1.30" fill="#111" stroke="none" stroke-width="0.5" />
<circle cx="528.65" cy="163.77" r="1.30" fill="#111" stroke="none" stroke-width="0.5" />
<circle cx="528.85" cy="163.46" r="1.30" fill="#111" stroke="none" stroke-width="0.5" />
<circle cx="529.05" cy="163.15" r="1.30" fill="#111" stroke="none" stroke-width="0.5" />
<circle cx="529.25" cy="162.85" r="1.30" fill="#111" stroke="none" stroke-width="0.5" />
<circle cx="529.44" cy="162.55" r="1.30" fill="#111" stroke="none" stroke-width="0.5" />
<circle cx="529.64" cy="162.25" r="1.30" fill="#111" stroke="none" stroke-width="0.5" />
<circle cx="529.83" cy="161.95" r="1.30" fill="#111" stroke="none" stroke-width="0.5" />
<circle cx="530.03" cy="161.65" r="1.30" fill="#111" stroke="none" stroke-width="0.5" />
<circle cx="530.22" cy="161.36" r="1.30" fill="#111" stroke="none" stroke-width="0.5" />
<circle cx="530.41" cy="161.07" r="1.30" fill="#111" stroke="none" stroke-width="0.5" />
<circle cx="530.60" cy="160.78" r="1.30" fill="#111" stroke="none" stroke-width="0.5" />
<circle cx="530.78" cy="160.50" r="1.30" fill="#111" stroke="none" stroke-width="0.5" />
<circle cx="530.97" cy="160.21" r="1.30" fill="#111" stroke="none" stroke-width="0.5" />
<circle cx="531.15" cy="159.93" r="1.30" fill="#111" stroke="none" stroke-width="0.5" />
<circle cx="531.33" cy="159.65" r="1.30" fill="#111" stroke="none" stroke-width="0.5" />
<circle cx="531.52" cy="159.38" r="1.30" fill="#111" stroke="none" stroke-width="0.5" />
<circle cx="531.69" cy="159.10" r="1.30" fill="#111" stroke="none" stroke-width="0.5" />
<circle cx="531.87" cy="158.83" r="1.30" fill="#111" stroke="none" stroke-width="0.5" />
<circle cx="532.05" cy="158.56" r="1.30" fill="#111" stroke="none" stroke-width="0.5" />
<circle cx="532.23" cy="158.29" r="1.30" fill="#111" stroke="none" stroke-width="0.5" />
<circle cx="532.40" cy="158.02" r="1.30" fill="#111" stroke="none" stroke-width="0.5" />
<circle cx="532.57" cy="157.75" r="1.30" fill="#111" stroke="none" stroke-width="0.5" />
<circle cx="532.75" cy="157.49" r="1.30" fill="#111" stroke="none" stroke-width="0.5" />
<circle cx="532.92" cy="157.23" r="1.30" fill="#111" stroke="none" stroke-width="0.5" />
<circle cx="533.09" cy="156.97" r="1.30" fill="#111" stroke="none" stroke-width="0.5" />
<circle cx="533.26" cy="156.71" r="1.30" fill="#111" stroke="none" stroke-width="0.5" />
<circle cx="533.42" cy="156.45" r="1.30" fill="#111" stroke="none" stroke-width="0.5" />
<circle cx="533.59" cy="156.20" r="1.30" fill="#111" stroke="none" stroke-width="0.5" />
<circle cx="533.76" cy="155.95" r="1.30" fill="#111" stroke="none" stroke-width="0.5" />
<circle cx="533.92" cy="155.69" r="1.30" fill="#111" stroke="none" stroke-width="0.5" />
<circle cx="534.08" cy="155.44" r="1.30" fill="#111" stroke="none" stroke-width="0.5" />
<circle cx="534.24" cy="155.20" r="1.30" fill="#111" stroke="none" stroke-width="0.5" />
<circle cx="534.41" cy="154.95" r="1.30" fill="#111" stroke="none" stroke-width="0.5" />
<circle cx="534.57" cy="154.70" r="1.30" fill="#111" stroke="none" stroke-width="0.5" />
<circle cx="534.72" cy="154.46" r="1.30" fill="#111" stroke="none" stroke-width="0.5" />
<circle cx="534.88" cy="154.22" r="1.30" fill="#111" stroke="none" stroke-width="0.5" />
<circle cx="535.04" cy="153.98" r="1.30" fill="#111" stroke="none" stroke-width="0.5" />
<circle cx="535.19" cy="153.74" r="1.30" fill="#111" stroke="none" stroke-width="0.5" />
<circle cx="535.35" cy="153.50" r="1.30" fill="#111" stroke="none" stroke-width="0.5" />
<circle cx="535.50" cy="153.27" r="1.30" fill="#111" stroke="none" stroke-width="0.5" />
<circle cx="535.66" cy="153.03" r="1.30" fill="#111" stroke="none" stroke-width="0.5" />
<circle cx="535.81" cy="152.80" r="1.30" fill="#111" stroke="none" stroke-width="0.5" />
<circle cx="535.96" cy="152.57" r="1.30" fill="#111" stroke="none" stroke-width="0.5" />
<circle cx="536.11" cy="152.34" r="1.30" fill="#111" stroke="none" stroke-width="0.5" />
<circle cx="536.26" cy="152.11" r="1.30" fill="#111" stroke="none" stroke-width="0.5" />
<circle cx="536.41" cy="151.89" r="1.30" fill="#111" stroke="none" stroke-width="0.5" />
<circle cx="536.55" cy="151.66" r="1.30" fill="#111" stroke="none" stroke-width="0.5" />
<circle cx="536.70" cy="151.44" r="1.30" fill="#111" stroke="none" stroke-width="0.5" />
<circle cx="536.85" cy="151.21" r="1.30" fill="#111" stroke="none" stroke-width="0.5" />
<circle cx="536.99" cy="150.99" r="1.30" fill="#111" stroke="none" stroke-width="0.5" />
<circle cx="537.13" cy="150.77" r="1.30" fill="#111" stroke="none" stroke-width="0.5" />
<circle cx="537.28" cy="150.55" r="1.30" fill="#111" stroke="none" stroke-width="0.5" />
<circle cx="537.42" cy="150.33" r="1.30" fill="#111" stroke="none" stroke-width="0.5" />
<circle cx="537.56" cy="150.12" r="1.30" fill="#111" stroke="none" stroke-width="0.5" />
<circle cx="537.70" cy="149.90" r="1.30" fill="#111" stroke="none" stroke-width="0.5" />
<circle cx="537.84" cy="149.69" r="1.30" fill="#111" stroke="none" stroke-width="0.5" />
<circle cx="537.98" cy="149.47" r="1.30" fill="#111" stroke="none" stroke-width="0.5" />
<circle cx="538.12" cy="149.26" r="1.30" fill="#111" stroke="none" stroke-width="0.5" />
<circle cx="538.26" cy="149.05" r="1.30" fill="#111" stroke="none" stroke-width="0.5" />
<circle cx="538.39" cy="148.84" r="1.30" fill="#111" stroke="none" stroke-width="0.5" />
<circle cx="538.53" cy="148.64" r="1.30" fill="#111" stroke="none" stroke-width="0.5" />
<circle cx="538.66" cy="148.43" r="1.30" fill="#111" stroke="none" stroke-width="0.5" />
<circle cx="538.80" cy="148.22" r="1.30" fill="#111" stroke="none" stroke-width="0.5" />
<circle cx="538.93" cy="148.02" r="1.30" fill="#111" stroke="none" stroke-width="0.5" />
<circle cx="539.06" cy="147.81" r="1.30" fill="#111" stroke="none" stroke-width="0.5" />
<circle cx="539.20" cy="147.61" r="1.30" fill="#111" stroke="none" stroke-width="0.5" />
<circle cx="539.33" cy="147.41" r="1.30" fill="#111" stroke="none" stroke-width="0.5" />
<circle cx="539.46" cy="147.21" r="1.30" fill="#111" stroke="none" stroke-width="0.5" />
<circle cx="539.59" cy="147.01" r="1.30" fill="#111" stroke="none" stroke-width="0.5" />
<circle cx="539.72" cy="146.81" r="1.30" fill="#111" stroke="none" stroke-width="0.5" />
<circle cx="539.85" cy="146.62" r="1.30" fill="#111" stroke="none" stroke-width="0.5" />
<circle cx="539.98" cy="146.42" r="1.30" fill="#111" stroke="none" stroke-width="0.5" />
<circle cx="540.10" cy="146.22" r="1.30" fill="#111" stroke="none" stroke-width="0.5" />
<circle cx="540.23" cy="146.03" r="1.30" fill="#111" stroke="none" stroke-width="0.5" />
<circle cx="540.36" cy="145.84" r="1.30" fill="#111" stroke="none" stroke-width="0.5" />
<circle cx="540.48" cy="145.64" r="1.30" fill="#111" stroke="none" stroke-width="0.5" />
<circle cx="540.61" cy="145.45" r="1.30" fill="#111" stroke="none" stroke-width="0.5" />
<circle cx="540.73" cy="145.26" r="1.30" fill="#111" stroke="none" stroke-width="0.5" />
<circle cx="540.85" cy="145.07" r="1.30" fill="#111" stroke="none" stroke-width="0.5" />
<circle cx="540.98" cy="144.89" r="1.30" fill="#111" stroke="none" stroke-width="0.5" />
<circle cx="541.10" cy="144.70" r="1.30" fill="#111" stroke="none" stroke-width="0.5" />
<circle cx="541.22" cy="144.51" r="1.30" fill="#111" stroke="none" stroke-width="0.5" />
<circle cx="541.34" cy="144.33" r="1.30" fill="#111" stroke="none" stroke-width="0.5" />
<circle cx="541.46" cy="144.14" r="1.30" fill="#111" stroke="none" stroke-width="0.5" />
<circle cx="541.58" cy="143.96" r="1.30" fill="#111" stroke="none" stroke-width="0.5" />
<circle cx="541.70" cy="143.78" r="1.30" fill="#111" stroke="none" stroke-width="0.5" />
<circle cx="541.82" cy="143.59" r="1.30" fill="#111" stroke="none" stroke-width="0.5" />
<circle cx="541.94" cy="143.41" r="1.30" fill="#111" stroke="none" stroke-width="0.5" />
<circle cx="542.06" cy="143.23" r="1.30" fill="#111" stroke="none" stroke-width="0.5" />
<circle cx="542.17" cy="143.05" r="1.30" fill="#111" stroke="none" stroke-width="0.5" />
<circle cx="542.29" cy="142.87" r="1.30" fill="#111" stroke="none" stroke-width="0.5" />
<circle cx="542.41" cy="142.70" r="1.30" fill="#111" stroke="none" stroke-width="0.5" />
<circle cx="542.52" cy="142.52" r="1.30" fill="#111" stroke="none" stroke-width="0.5" />
<circle cx="542.64" cy="142.35" r="1.30" fill="#111" stroke="none" stroke-width="0.5" />
<circle cx="542.75" cy="142.20" r="1.30" fill="#111" stroke="none" stroke-width="0.5" />
<circle cx="542.86" cy="142.05" r="1.30" fill="#111" stroke="none" stroke-width="0.5" />
<circle cx="542.98" cy="141.89" r="1.30" fill="#111" stroke="none" stroke-width="0.5" />
<circle cx="543.09" cy="141.74" r="1.30" fill="#111" stroke="none" stroke-width="0.5" />
<circle cx="543.20" cy="141.59" r="1.30" fill="#111" stroke="none" stroke-width="0.5" />
<circle cx="543.31" cy="141.44" r="1.30" fill="#111" stroke="none" stroke-width="0.5" />
<circle cx="543.43" cy="141.29" r="1.30" fill="#111" stroke="none" stroke-width="0.5" />
<circle cx="543.54" cy="141.14" r="1.30" fill="#111" stroke="none" stroke-width="0.5" />
<circle cx="543.65" cy="141.00" r="1.30" fill="#111" stroke="none" stroke-width="0.5" />
<circle cx="543.76" cy="140.85" r="1.30" fill="#111" stroke="none" stroke-width="0.5" />
<circle cx="543.87" cy="140.70" r="1.30" fill="#111" stroke="none" stroke-width="0.5" />
<circle cx="543.97" cy="140.56" r="1.30" fill="#111" stroke="none" stroke-width="0.5" />
<circle cx="544.08" cy="140.41" r="1.30" fill="#111" stroke="none" stroke-width="0.5" />
<circle cx="544.19" cy="140.27" r="1.30" fill="#111" stroke="none" stroke-width="0.5" />
<circle cx="544.30" cy="140.12" r="1.30" fill="#111" stroke="none" stroke-width="0.5" />
<circle cx="544.40" cy="139.98" r="1.30" fill="#111" stroke="none" stroke-width="0.5" />
<circle cx="544.51" cy="139.84" r="1.30" fill="#111" stroke="none" stroke-width="0.5" />
<circle cx="544.62" cy="139.70" r="1.30" fill="#111" stroke="none" stroke-width="0.5" />
<circle cx="544.72" cy="139.55" r="1.30" fill="#111" stroke="none" stroke-width="0.5" />
<circle cx="544.83" cy="139.41" r="1.30" fill="#111" stroke="none" stroke-width="0.5" />
<circle cx="544.93" cy="139.27" r="1.30" fill="#111" stroke="none" stroke-width="0.5" />
<circle cx="545.04" cy="139.13" r="1.30" fill="#111" stroke="none" stroke-width="0.5" />
<circle cx="545.14" cy="138.99" r="1.30" fill="#111" stroke="none" stroke-width="0.5" />
<circle cx="545.24" cy="138.86" r="1.30" fill="#111" stroke="none" stroke-width="0.5" />
<circle cx="545.35" cy="138.72" r="1.30" fill="#111" stroke="none" stroke-width="0.5" />
<circle cx="545.45" cy="138.58" r="1.30" fill="#111" stroke="none" stroke-width="0.5" />
<circle cx="545.55" cy="138.44" r="1.30" fill="#111" stroke="none" stroke-width="0.5" />
<circle cx="545.65" cy="138.31" r="1.30" fill="#111" stroke="none" stroke-width="0.5" />
<circle cx="545.75" cy="138.17" r="1.30" fill="#111" stroke="none" stroke-width="0.5" />
<circle cx="545.85" cy="138.04" r="1.30" fill="#111" stroke="none" stroke-width="0.5" />
<circle cx="545.95" cy="137.90" r="1.30" fill="#111" stroke="none" stroke-width="0.5" />
<circle cx="457.94" cy="226.00" r="1.30" fill="#ff1a1a" stroke="none" stroke-width="0.5" />
<circle cx="461.34" cy="223.31" r="1.30" fill="#ff1a1a" stroke="none" stroke-width="0.5" />
<circle cx="464.31" cy="220.67" r="1.30" fill="#ff1a1a" stroke="none" stroke-width="0.5" />
<circle cx="466.97" cy="218.32" r="1.30" fill="#ff1a1a" stroke="none" stroke-width="0.5" />
<circle cx="469.36" cy="216.19" r="1.30" fill="#ff1a1a" stroke="none" stroke-width="0.5" />
<circle cx="471.55" cy="214.26" r="1.30" fill="#ff1a1a" stroke="none" stroke-width="0.5" />
<circle cx="473.55" cy="212.76" r="1.30" fill="#ff1a1a" stroke="none" stroke-width="0.5" />
<circle cx="475.40" cy="211.36" r="1.30" fill="#ff1a1a" stroke="none" stroke-width="0.5" />
<circle cx="477.12" cy="210.06" r="1.30" fill="#ff1a1a" stroke="none" stroke-width="0.5" />
<circle cx="478.73" cy="208.85" r="1.30" fill="#ff1a1a" stroke="none" stroke-width="0.5" />
<circle cx="480.24" cy="207.72" r="1.30" fill="#ff1a1a" stroke="none" stroke-width="0.5" />
<circle cx="481.66" cy="206.65" r="1.30" fill="#ff1a1a" stroke="none" stroke-width="0.5" />
<circle cx="483.01" cy="205.63" r="1.30" fill="#ff1a1a" stroke="none" stroke-width="0.5" />
<circle cx="484.28" cy="204.67" r="1.30" fill="#ff1a1a" stroke="none" stroke-width="0.5" />
<circle cx="485.49" cy="203.76" r="1.30" fill="#ff1a1a" stroke="none" stroke-width="0.5" />
<circle cx="486.65" cy="202.89" r="1.30" fill="#ff1a1a" stroke="none" stroke-width="0.5" />
<circle cx="487.75" cy="202.06" r="1.30" fill="#ff1a1a" stroke="none" stroke-width="0.5" />
<circle cx="488.80" cy="201.27" r="1.30" fill="#ff1a1a" stroke="none" stroke-width="0.5" />
<circle cx="489.81" cy="200.51" r="1.30" fill="#ff1a1a" stroke="none" stroke-width="0.5" />
<circle cx="490.78" cy="199.78" r="1.30" fill="#ff1a1a" stroke="none" stroke-width="0.5" />
<circle cx="491.72" cy="199.07" r="1.30" fill="#ff1a1a" stroke="none" stroke-width="0.5" />
<circle cx="492.62" cy="198.39" r="1.30" fill="#ff1a1a" stroke="none" stroke-width="0.5" />
<circle cx="493.48" cy="197.74" r="1.30" fill="#ff1a1a" stroke="none" stroke-width="0.5" />
<circle cx="494.32" cy="197.11" r="1.30" fill="#ff1a1a" stroke="none" stroke-width="0.5" />
<circle cx="495.13" cy="196.48" r="1.30" fill="#ff1a1a" stroke="none" stroke-width="0.5" />
<circle cx="495.92" cy="195.76" r="1.30" fill="#ff1a1a" stroke="none" stroke-width="0.5" />
<circle cx="496.68" cy="195.06" r="1.30" fill="#ff1a1a" stroke="none" stroke-width="0.5" />
<circle cx="497.41" cy="194.38" r="1.30" fill="#ff1a1a" stroke="none" stroke-width="0.5" />
<circle cx="498.13" cy="193.72" r="1.30" fill="#ff1a1a" stroke="none" stroke-width="0.5" />
<circle cx="498.82" cy="193.08" r="1.30" fill="#ff1a1a" stroke="none" stroke-width="0.5" />
<circle cx="499.50" cy="192.45" r="1.30" fill="#ff1a1a" stroke="none" stroke-width="0.5" />
<circle cx="500.16" cy="191.85" r="1.30" fill="#ff1a1a" stroke="none" stroke-width="0.5" />
<circle cx="500.80" cy="191.26" r="1.30" fill="#ff1a1a" stroke="none" stroke-width="0.5" />
<circle cx="501.42" cy="190.68" r="1.30" fill="#ff1a1a" stroke="none" stroke-width="0.5" />
<circle cx="502.03" cy="190.12" r="1.30" fill="#ff1a1a" stroke="none" stroke-width="0.5" />
<circle cx="502.63" cy="189.58" r="1.30" fill="#ff1a1a" stroke="none" stroke-width="0.5" />
<circle cx="503.21" cy="189.04" r="1.30" fill="#ff1a1a" stroke="none" stroke-width="0.5" />
<circle cx="503.77" cy="188.52" r="1.30" fill="#ff1a1a" stroke="none" stroke-width="0.5" />
<circle cx="504.33" cy="188.01" r="1.30" fill="#ff1a1a" stroke="none" stroke-width="0.5" />
<circle cx="504.87" cy="187.51" r="1.30" fill="#ff1a1a" stroke="none" stroke-width="0.5" />
<circle cx="505.40" cy="187.02" r="1.30" fill="#ff1a1a" stroke="none" stroke-width="0.5" />
<circle cx="505.92" cy="186.54" r="1.30" fill="#ff1a1a" stroke="none" stroke-width="0.5" />
<circle cx="506.42" cy="186.08" r="1.30" fill="#ff1a1a" stroke="none" stroke-width="0.5" />
<circle cx="506.92" cy="185.62" r="1.30" fill="#ff1a1a" stroke="none" stroke-width="0.5" />
<circle cx="507.41" cy="185.17" r="1.30" fill="#ff1a1a" stroke="none" stroke-width="0.5" />
<circle cx="507.89" cy="184.73" r="1.30" fill="#ff1a1a" stroke="none" stroke-width="0.5" />
<circle cx="508.36" cy="184.30" r="1.30" fill="#ff1a1a" stroke="none" stroke-width="0.5" />
<circle cx="508.82" cy="183.87" r="1.30" fill="#ff1a1a" stroke="none" stroke-width="0.5" />
<circle cx="509.27" cy="183.46" r="1.30" fill="#ff1a1a" stroke="none" stroke-width="0.5" />
<circle cx="509.71" cy="183.05" r="1.30" fill="#ff1a1a" stroke="none" stroke-width="0.5" />
<circle cx="510.15" cy="182.65" r="1.30" fill="#ff1a1a" stroke="none" stroke-width="0.5" />
<circle cx="510.58" cy="182.25" r="1.30" fill="#ff1a1a" stroke="none" stroke-width="0.5" />
<circle cx="511.00" cy="181.87" r="1.30" fill="#ff1a1a" stroke="none" stroke-width="0.5" />
<circle cx="511.41" cy="181.49" r="1.30" fill="#ff1a1a" stroke="none" stroke-width="0.5" />
<circle cx="511.82" cy="181.11" r="1.30" fill="#ff1a1a" stroke="none" stroke-width="0.5" />
<circle cx="512.22" cy="180.74" r="1.30" fill="#ff1a1a" stroke="none" stroke-width="0.5" />
<circle cx="512.61" cy="180.38" r="1.30" fill="#ff1a1a" stroke="none" stroke-width="0.5" />
<circle cx="513.00" cy="180.02" r="1.30" fill="#ff1a1a" stroke="none" stroke-width="0.5" />
<circle cx="513.38" cy="179.67" r="1.30" fill="#ff1a1a" stroke="none" stroke-width="0.5" />
<circle cx="513.75" cy="179.33" r="1.30" fill="#ff1a1a" stroke="none" stroke-width="0.5" />
<circle cx="514.12" cy="178.88" r="1.30" fill="#ff1a1a" stroke="none" stroke-width="0.5" />
<circle cx="514.49" cy="178.24" r="1.30" fill="#ff1a1a" stroke="none" stroke-width="0.5" />
<circle cx="514.85" cy="177.60" r="1.30" fill="#ff1a1a" stroke="none" stroke-width="0.5" />
<circle cx="515.20" cy="176.98" r="1.30" fill="#ff1a1a" stroke="none" stroke-width="0.5" />
<circle cx="515.55" cy="176.36" r="1.30" fill="#ff1a1a" stroke="none" stroke-width="0.5" />
<circle cx="515.89" cy="175.75" r="1.30" fill="#ff1a1a" stroke="none" stroke-width="0.5" />
<circle cx="516.23" cy="175.15" r="1.30" fill="#ff1a1a" stroke="none" stroke-width="0.5" />
<circle cx="516.57" cy="174.56" r="1.30" fill="#ff1a1a" stroke="none" stroke-width="0.5" />
<circle cx="516.90" cy="173.98" r="1.30" fill="#ff1a1a" stroke="none" stroke-width="0.5" />
<circle cx="517.22" cy="173.40" r="1.30" fill="#ff1a1a" stroke="none" stroke-width="0.5" />
<circle cx="517.54" cy="172.83" r="1.30" fill="#ff1a1a" stroke="none" stroke-width="0.5" />
<circle cx="517.86" cy="172.27" r="1.30" fill="#ff1a1a" stroke="none" stroke-width="0.5" />
<circle cx="518.17" cy="171.72" r="1.30" fill="#ff1a1a" stroke="none" stroke-width="0.5" />
<circle cx="518.48" cy="171.17" r="1.30" fill="#ff1a1a" stroke="none" stroke-width="0.5" />
<circle cx="518.79" cy="170.63" r="1.30" fill="#ff1a1a" stroke="none" stroke-width="0.5" />
<circle cx="519.09" cy="170.10" r="1.30" fill="#ff1a1a" stroke="none" stroke-width="0.5" />
<circle cx="519.39" cy="169.57" r="1.30" fill="#ff1a1a" stroke="none" stroke-width="0.5" />
<circle cx="519.68" cy="169.05" r="1.30" fill="#ff1a1a" stroke="none" stroke-width="0.5" />
<circle cx="519.97" cy="168.54" r="1.30" fill="#ff1a1a" stroke="none" stroke-width="0.5" />
<circle cx="520.26" cy="168.03" r="1.30" fill="#ff1a1a" stroke="none" stroke-width="0.5" />
<circle cx="520.55" cy="167.53" r="1.30" fill="#ff1a1a" stroke="none" stroke-width="0.5" />
<circle cx="520.83" cy="167.03" r="1.30" fill="#ff1a1a" stroke="none" stroke-width="0.5" />
<circle cx="521.10" cy="166.54" r="1.30" fill="#ff1a1a" stroke="none" stroke-width="0.5" />
<circle cx="521.38" cy="166.05" r="1.30" fill="#ff1a1a" stroke="none" stroke-width="0.5" />
<circle cx="521.65" cy="165.57" r="1.30" fill="#ff1a1a" stroke="none" stroke-width="0.5" />
<circle cx="521.92" cy="165.10" r="1.30" fill="#ff1a1a" stroke="none" stroke-width="0.5" />
<circle cx="522.18" cy="164.63" r="1.30" fill="#ff1a1a" stroke="none" stroke-width="0.5" />
<circle cx="522.45" cy="164.16" r="1.30" fill="#ff1a1a" stroke="none" stroke-width="0.5" />
<circle cx="522.71" cy="163.70" r="1.30" fill="#ff1a1a" stroke="none" stroke-width="0.5" />
<circle cx="522.96" cy="163.25" r="1.30" fill="#ff1a1a" stroke="none" stroke-width="0.5" />
<circle cx="523.22" cy="162.80" r="1.30" fill="#ff1a1a" stroke="none" stroke-width="0.5" />
<circle cx="523.47" cy="162.35" r="1.30" fill="#ff1a1a" stroke="none" stroke-width="0.5" />
<circle cx="523.72" cy="162.01" r="1.30" fill="#ff1a1a" stroke="none" stroke-width="0.5" />
<circle cx="523.97" cy="161.69" r="1.30" fill="#ff1a1a" stroke="none" stroke-width="0.5" />
<circle cx="524.21" cy="161.37" r="1.30" fill="#ff1a1a" stroke="none" stroke-width="0.5" />
<circle cx="524.45" cy="161.05" r="1.30" fill="#ff1a1a" stroke="none" stroke-width="0.5" />
<circle cx="524.69" cy="160.73" r="1.30" fill="#ff1a1a" stroke="none" stroke-width="0.5" />
<circle cx="524.93" cy="160.42" r="1.30" fill="#ff1a1a" stroke="none" stroke-width="0.5" />
<circle cx="525.16" cy="160.11" r="1.30" fill="#ff1a1a" stroke="none" stroke-width="0.5" />
<circle cx="525.40" cy="159.81" r="1.30" fill="#ff1a1a" stroke="none" stroke-width="0.5" />
<circle cx="525.63" cy="159.50" r="1.30" fill="#ff1a1a" stroke="none" stroke-width="0.5" />
<circle cx="525.86" cy="159.20" r="1.30" fill="#ff1a1a" stroke="none" stroke-width="0.5" />
<circle cx="526.08" cy="158.91" r="1.30" fill="#ff1a1a" stroke="none" stroke-width="0.5" />
<circle cx="526.31" cy="158.61" r="1.30" fill="#ff1a1a" stroke="none" stroke-width="0.5" />
<circle cx="526.53" cy="158.32" r="1.30" fill="#ff1a1a" stroke="none" stroke-width="0.5" />
<circle cx="526.75" cy="158.03" r="1.30" fill="#ff1a1a" stroke="none" stroke-width="0.5" />
<circle cx="526.97" cy="157.74" r="1.30" fill="#ff1a1a" stroke="none" stroke-width="0.5" />
<circle cx="527.18" cy="157.46" r="1.30" fill="#ff1a1a" stroke="none" stroke-width="0.5" />
<circle cx="527.40" cy="157.18" r="1.30" fill="#ff1a1a" stroke="none" stroke-width="0.5" />
<circle cx="527.61" cy="156.90" r="1.30" fill="#ff1a1a" stroke="none" stroke-width="0.5" />
<circle cx="527.82" cy="156.62" r="1.30" fill="#ff1a1a" stroke="none" stroke-width="0.5" />
<circle cx="528.03" cy="156.35" r="1.30" fill="#ff1a1a" stroke="none" stroke-width="0.5" />
<circle cx="528.24" cy="156.07" r="1.30" fill="#ff1a1a" stroke="none" stroke-width="0.5" />
<circle cx="528.44" cy="155.80" r="1.30" fill="#ff1a1a" stroke="none" stroke-width="0.5" />
<circle cx="528.65" cy="155.54" r="1.30" fill="#ff1a1a" stroke="none" stroke-width="0.5" />
<circle cx="528.85" cy="155.27" r="1.30" fill="#ff1a1a" stroke="none" stroke-width="0.5" />
<circle cx="529.05" cy="155.01" r="1.30" fill="#ff1a1a" stroke="none" stroke-width="0.5" />
<circle cx="529.25" cy="154.75" r="1.30" fill="#ff1a1a" stroke="none" stroke-width="0.5" />
<circle cx="529.44" cy="154.49" r="1.30" fill="#ff1a1a" stroke="none" stroke-width="0.5" />
<circle cx="529.64" cy="154.23" r="1.30" fill="#ff1a1a" stroke="none" stroke-width="0.5" />
<circle cx="529.83" cy="153.98" r="1.30" fill="#ff1a1a" stroke="none" stroke-width="0.5" />
<circle cx="530.03" cy="153.72" r="1.30" fill="#ff1a1a" stroke="none" stroke-width="0.5" />
<circle cx="530.22" cy="153.47" r="1.30" fill="#ff1a1a" stroke="none" stroke-width="0.5" />
<circle cx="530.41" cy="153.22" r="1.30" fill="#ff1a1a" stroke="none" stroke-width="0.5" />
<circle cx="530.60" cy="152.98" r="1.30" fill="#ff1a1a" stroke="none" stroke-width="0.5" />
<circle cx="530.78" cy="152.73" r="1.30" fill="#ff1a1a" stroke="none" stroke-width="0.5" />
<circle cx="530.97" cy="152.49" r="1.30" fill="#ff1a1a" stroke="none" stroke-width="0.5" />
<circle cx="531.15" cy="152.24" r="1.30" fill="#ff1a1a" stroke="none" stroke-width="0.5" />
<circle cx="531.33" cy="152.01" r="1.30" fill="#ff1a1a" stroke="none" stroke-width="0.5" />
<circle cx="531.52" cy="151.77" r="1.30" fill="#ff1a1a" stroke="none" stroke-width="0.5" />
<circle cx="531.69" cy="151.53" r="1.30" fill="#ff1a1a" stroke="none" stroke-width="0.5" />
<circle cx="531.87" cy="151.30" r="1.30" fill="#ff1a1a" stroke="none" stroke-width="0.5" />
<circle cx="532.05" cy="151.06" r="1.30" fill="#ff1a1a" stroke="none" stroke-width="0.5" />
<circle cx="532.23" cy="150.83" r="1.30" fill="#ff1a1a" stroke="none" stroke-width="0.5" />
<circle cx="532.40" cy="150.60" r="1.30" fill="#ff1a1a" stroke="none" stroke-width="0.5" />
<circle cx="532.57" cy="150.37" r="1.30" fill="#ff1a1a" stroke="none" stroke-width="0.5" />
<circle cx="532.75" cy="150.15" r="1.30" fill="#ff1a1a" stroke="none" stroke-width="0.5" />
<circle cx="532.92" cy="149.92" r="1.30" fill="#ff1a1a" stroke="none" stroke-width="0.5" />
<circle cx="533.09" cy="149.70" r="1.30" fill="#ff1a1a" stroke="none" stroke-width="0.5" />
<circle cx="533.26" cy="149.48" r="1.30" fill="#ff1a1a" stroke="none" stroke-width="0.5" />
<circle cx="533.42" cy="149.26" r="1.30" fill="#ff1a1a" stroke="none" stroke-width="0.5" />
<circle cx="533.59" cy="149.04" r="1.30" fill="#ff1a1a" stroke="none" stroke-width="0.5" />
<circle cx="533.76" cy="148.82" r="1.30" fill="#ff1a1a" stroke="none" stroke-width="0.5" />
<circle cx="533.92" cy="148.61" r="1.30" fill="#ff1a1a" stroke="none" stroke-width="0.5" />
<circle cx="534.08" cy="148.39" r="1.30" fill="#ff1a1a" stroke="none" stroke-width="0.5" />
<circle cx="534.24" cy="148.18" r="1.30" fill="#ff1a1a" stroke="none" stroke-width="0.5" />
<circle cx="534.41" cy="147.97" r="1.30" fill="#ff1a1a" stroke="none" stroke-width="0.5" />
<circle cx="534.57" cy="147.76" r="1.30" fill="#ff1a1a" stroke="none" stroke-width="0.5" />
<circle cx="534.72" cy="147.55" r="1.30" fill="#ff1a1a" stroke="none" stroke-width="0.5" />
<circle cx="534.88" cy="147.34" r="1.30" fill="#ff1a1a" stroke="none" stroke-width="0.5" />
<circle cx="535.04" cy="147.14" r="1.30" fill="#ff1a1a" stroke="none" stroke-width="0.5" />
<circle cx="535.19" cy="146.93" r="1.30" fill="#ff1a1a" stroke="none" stroke-width="0.5" />
<circle cx="535.35" cy="146.73" r="1.30" fill="#ff1a1a" stroke="none" stroke-width="0.5" />
<circle cx="535.50" cy="146.53" r="1.30" fill="#ff1a1a" stroke="none" stroke-width="0.5" />
<circle cx="535.66" cy="146.33" r="1.30" fill="#ff1a1a" stroke="none" stroke-width="0.5" />
<circle cx="535.81" cy="146.13" r="1.30" fill="#ff1a1a" stroke="none" stroke-width="0.5" />
<circle cx="535.96" cy="145.93" r="1.30" fill="#ff1a1a" stroke="none" stroke-width="0.5" />
<circle cx="536.11" cy="145.73" r="1.30" fill="#ff1a1a" stroke="none" stroke-width="0.5" />
<circle cx="536.26" cy="145.53" r="1.30" fill="#ff1a1a" stroke="none" stroke-width="0.5" />
<circle cx="536.41" cy="145.34" r="1.30" fill="#ff1a1a" stroke="none" stroke-width="0.5" />
<circle cx="536.55" cy="145.15" r="1.30" fill="#ff1a1a" stroke="none" stroke-width="0.5" />
<circle cx="536.70" cy="144.95" r="1.30" fill="#ff1a1a" stroke="none" stroke-width="0.5" />
<circle cx="536.85" cy="144.76" r="1.30" fill="#ff1a1a" stroke="none" stroke-width="0.5" />
<circle cx="536.99" cy="144.57" r="1.30" fill="#ff1a1a" stroke="none" stroke-width="0.5" />
<circle cx="537.13" cy="144.38" r="1.30" fill="#ff1a1a" stroke="none" stroke-width="0.5" />
<circle cx="537.28" cy="144.19" r="1.30" fill="#ff1a1a" stroke="none" stroke-width="0.5" />
<circle cx="537.42" cy="144.01" r="1.30" fill="#ff1a1a" stroke="none" stroke-width="0.5" />
<circle cx="537.56" cy="143.82" r="1.30" fill="#ff1a1a" stroke="none" stroke-width="0.5" />
<circle cx="537.70" cy="143.64" r="1.30" fill="#ff1a1a" stroke="none" stroke-width="0.5" />
<circle cx="537.84" cy="143.45" r="1.30" fill="#ff1a1a" stroke="none" stroke-width="0.5" />
<circle cx="537.98" cy="143.27" r="1.30" fill="#ff1a1a" stroke="none" stroke-width="0.5" />
<circle cx="538.12" cy="143.09" r="1.30" fill="#ff1a1a" stroke="none" stroke-width="0.5" />
<circle cx="538.26" cy="142.91" r="1.30" fill="#ff1a1a" stroke="none" stroke-width="0.5" />
<circle cx="538.39" cy="142.73" r="1.30" fill="#ff1a1a" stroke="none" stroke-width="0.5" />
<circle cx="538.53" cy="142.55" r="1.30" fill="#ff1a1a" stroke="none" stroke-width="0.5" />
<circle cx="538.66" cy="142.37" r="1.30" fill="#ff1a1a" stroke="none" stroke-width="0.5" />
<circle cx="538.80" cy="142.20" r="1.30" fill="#ff1a1a" stroke="none" stroke-width="0.5" />
<circle cx="538.93" cy="142.02" r="1.30" fill="#ff1a1a" stroke="none" stroke-width="0.5" />
<circle cx="539.06" cy="141.85" r="1.30" fill="#ff1a1a" stroke="none" stroke-width="0.5" />
<circle cx="539.20" cy="141.67" r="1.30" fill="#ff1a1a" stroke="none" stroke-width="0.5" />
<circle cx="539.33" cy="141.50" r="1.30" fill="#ff1a1a" stroke="none" stroke-width="0.5" />
<circle cx="539.46" cy="141.33" r="1.30" fill="#ff1a1a" stroke="none" stroke-width="0.5" />
<circle cx="539.59" cy="141.16" r="1.30" fill="#ff1a1a" stroke="none" stroke-width="0.5" />
<circle cx="539.72" cy="140.99" r="1.30" fill="#ff1a1a" stroke="none" stroke-width="0.5" />
<circle cx="539.85" cy="140.82" r="1.30" fill="#ff1a1a" stroke="none" stroke-width="0.5" />
<circle cx="539.98" cy="140.65" r="1.30" fill="#ff1a1a" stroke="none" stroke-width="0.5" />
<circle cx="540.10" cy="140.48" r="1.30" fill="#ff1a1a" stroke="none" stroke-width="0.5" />
<circle cx="540.23" cy="140.31" r="1.30" fill="#ff1a1a" stroke="none" stroke-width="0.5" />
<circle cx="540.36" cy="140.15" r="1.30" fill="#ff1a1a" stroke="none" stroke-width="0.5" />
<circle cx="540.48" cy="139.98" r="1.30" fill="#ff1a1a" stroke="none" stroke-width="0.5" />
<circle cx="540.61" cy="139.82" r="1.30" fill="#ff1a1a" stroke="none" stroke-width="0.5" />
<circle cx="540.73" cy="139.66" r="1.30" fill="#ff1a1a" stroke="none" stroke-width="0.5" />
<circle cx="540.85" cy="139.49" r="1.30" fill="#ff1a1a" stroke="none" stroke-width="0.5" />
<circle cx="540.98" cy="139.33" r="1.30" fill="#ff1a1a" stroke="none" stroke-width="0.5" />
<circle cx="541.10" cy="139.17" r="1.30" fill="#ff1a1a" stroke="none" stroke-width="0.5" />
<circle cx="541.22" cy="139.01" r="1.30" fill="#ff1a1a" stroke="none" stroke-width="0.5" />
<circle cx="541.34" cy="138.85" r="1.30" fill="#ff1a1a" stroke="none" stroke-width="0.5" />
<circle cx="541.46" cy="138.69" r="1.30" fill="#ff1a1a" stroke="none" stroke-width="0.5" />
<circle cx="541.58" cy="138.54" r="1.30" fill="#ff1a1a" stroke="none" stroke-width="0.5" />
<circle cx="541.70" cy="138.38" r="1.30" fill="#ff1a1a" stroke="none" stroke-width="0.5" />
<circle cx="541.82" cy="138.22" r="1.30" fill="#ff1a1a" stroke="none" stroke-width="0.5" />
<circle cx="541.94" cy="138.07" r="1.30" fill="#ff1a1a" stroke="none" stroke-width="0.5" />
<circle cx="542.06" cy="137.91" r="1.30" fill="#ff1a1a" stroke="none" stroke-width="0.5" />
<circle cx="542.17" cy="137.76" r="1.30" fill="#ff1a1a" stroke="none" stroke-width="0.5" />
<circle cx="542.29" cy="137.61" r="1.30" fill="#ff1a1a" stroke="none" stroke-width="0.5" />
<circle cx="542.41" cy="137.45" r="1.30" fill="#ff1a1a" stroke="none" stroke-width="0.5" />
<circle cx="542.52" cy="137.30" r="1.30" fill="#ff1a1a" stroke="none" stroke-width="0.5" />
<circle cx="542.64" cy="137.16" r="1.30" fill="#ff1a1a" stroke="none" stroke-width="0.5" />
<circle cx="542.75" cy="137.04" r="1.30" fill="#ff1a1a" stroke="none" stroke-width="0.5" />
<circle cx="542.86" cy="136.92" r="1.30" fill="#ff1a1a" stroke="none" stroke-width="0.5" />
<circle cx="542.98" cy="136.80" r="1.30" fill="#ff1a1a" stroke="none" stroke-width="0.5" />
<circle cx="543.09" cy="136.68" r="1.30" fill="#ff1a1a" stroke="none" stroke-width="0.5" />
<circle cx="543.20" cy="136.56" r="1.30" fill="#ff1a1a" stroke="none" stroke-width="0.5" />
<circle cx="543.31" cy="136.44" r="1.30" fill="#ff1a1a" stroke="none" stroke-width="0.5" />
<circle cx="543.43" cy="136.32" r="1.30" fill="#ff1a1a" stroke="none" stroke-width="0.5" />
<circle cx="543.54" cy="136.20" r="1.30" fill="#ff1a1a" stroke="none" stroke-width="0.5" />
<circle cx="543.65" cy="136.08" r="1.30" fill="#ff1a1a" stroke="none" stroke-width="0.5" />
<circle cx="543.76" cy="135.96" r="1.30" fill="#ff1a1a" stroke="none" stroke-width="0.5" />
<circle cx="543.87" cy="135.85" r="1.30" fill="#ff1a1a" stroke="none" stroke-width="0.5" />
<circle cx="543.97" cy="135.73" r="1.30" fill="#ff1a1a" stroke="none" stroke-width="0.5" />
<circle cx="544.08" cy="135.62" r="1.30" fill="#ff1a1a" stroke="none" stroke-width="0.5" />
<circle cx="544.19" cy="135.50" r="1.30" fill="#ff1a1a" stroke="none" stroke-width="0.5" />
<circle cx="544.30" cy="135.39" r="1.30" fill="#ff1a1a" stroke="none" stroke-width="0.5" />
<circle cx="544.40" cy="135.27" r="1.30" fill="#ff1a1a" stroke="none" stroke-width="0.5" />
<circle cx="544.51" cy="135.16" r="1.30" fill="#ff1a1a" stroke="none" stroke-width="0.5" />
<circle cx="544.62" cy="135.05" r="1.30" fill="#ff1a1a" stroke="none" stroke-width="0.5" />
<circle cx="544.72" cy="134.93" r="1.30" fill="#ff1a1a" stroke="none" stroke-width="0.5" />
<circle cx="544.83" cy="134.82" r="1.30" fill="#ff1a1a" stroke="none" stroke-width="0.5" />
<circle cx="544.93" cy="134.71" r="1.30" fill="#ff1a1a" stroke="none" stroke-width="0.5" />
<circle cx="545.04" cy="134.60" r="1.30" fill="#ff1a1a" stroke="none" stroke-width="0.5" />
<circle cx="545.14" cy="134.49" r="1.30" fill="#ff1a1a" stroke="none" stroke-width="0.5" />
<circle cx="545.24" cy="134.38" r="1.30" fill="#ff1a1a" stroke="none" stroke-width="0.5" />
<circle cx="545.35" cy="134.27" r="1.30" fill="#ff1a1a" stroke="none" stroke-width="0.5" />
<circle cx="545.45" cy="134.16" r="1.30" fill="#ff1a1a" stroke="none" stroke-width="0.5" />
<circle cx="545.55" cy="134.05" r="1.30" fill="#ff1a1a" stroke="none" stroke-width="0.5" />
<circle cx="545.65" cy="133.94" r="1.30" fill="#ff1a1a" stroke="none" stroke-width="0.5" />
<circle cx="545.75" cy="133.83" r="1.30" fill="#ff1a1a" stroke="none" stroke-width="0.5" />
<circle cx="545.85" cy="133.72" r="1.30" fill="#ff1a1a" stroke="none" stroke-width="0.5" />
<circle cx="545.95" cy="133.62" r="1.30" fill="#ff1a1a" stroke="none" stroke-width="0.5" />
<polyline points="521.20,178.20 528.30,164.30 531.00,160.00" fill="none" stroke="#1a8a1a" stroke-width="0.7" stroke-linejoin="round" />
<polyline points="514.00,179.10 523.50,162.30 525.00,160.00" fill="none" stroke="#c87010" stroke-width="0.7" stroke-linejoin="round" />
</g>
<line x1="514.34" y1="180.00" x2="514.34" y2="232.20" stroke="#ff3030" stroke-width="0.5" stroke-dasharray="1,0.8"/>
<line x1="521.63" y1="177.50" x2="521.63" y2="232.20" stroke="#333" stroke-width="0.5" stroke-dasharray="1,0.8"/>
<rect x="457.60" y="135.80" width="87.10" height="107.30" fill="none" stroke="#7a7a7a" stroke-width="0.9" />
<line x1="457.60" y1="150.20" x2="459.10" y2="150.20" stroke="#333" stroke-width="0.5" />
<text x="455.80" y="151.80" font-family='"Liberation Sans", sans-serif' font-size="4.6" text-anchor="end" font-weight="bold" fill="#222" stroke="#222" stroke-width="0.12" >10<tspan font-size="3.2" dy="-2">0</tspan></text>
<line x1="457.60" y1="196.50" x2="459.10" y2="196.50" stroke="#333" stroke-width="0.5" />
<text x="455.30" y="198.10" font-family='"Liberation Sans", sans-serif' font-size="4.6" text-anchor="end" font-weight="bold" fill="#222" stroke="#222" stroke-width="0.12" >10<tspan font-size="3.2" dy="-2">-1</tspan></text>
<line x1="457.60" y1="242.80" x2="459.10" y2="242.80" stroke="#333" stroke-width="0.5" />
<text x="455.30" y="244.40" font-family='"Liberation Sans", sans-serif' font-size="4.6" text-anchor="end" font-weight="bold" fill="#222" stroke="#222" stroke-width="0.12" >10<tspan font-size="3.2" dy="-2">-2</tspan></text>
<line x1="457.70" y1="243.10" x2="457.70" y2="241.60" stroke="#333" stroke-width="0.5" />
<text x="457.70" y="250.00" font-family='"Liberation Sans", sans-serif' font-size="5.0" text-anchor="middle" font-weight="bold" fill="#222" stroke="#222" stroke-width="0.12" >0.1</text>
<line x1="514.10" y1="243.10" x2="514.10" y2="241.60" stroke="#333" stroke-width="0.5" />
<text x="514.10" y="250.00" font-family='"Liberation Sans", sans-serif' font-size="5.0" text-anchor="middle" font-weight="bold" fill="#222" stroke="#222" stroke-width="0.12" >1</text>
<line x1="457.60" y1="228.86" x2="458.50" y2="228.86" stroke="#333" stroke-width="0.35" />
<line x1="457.60" y1="220.71" x2="458.50" y2="220.71" stroke="#333" stroke-width="0.35" />
<line x1="457.60" y1="214.92" x2="458.50" y2="214.92" stroke="#333" stroke-width="0.35" />
<line x1="457.60" y1="210.44" x2="458.50" y2="210.44" stroke="#333" stroke-width="0.35" />
<line x1="457.60" y1="206.77" x2="458.50" y2="206.77" stroke="#333" stroke-width="0.35" />
<line x1="457.60" y1="203.67" x2="458.50" y2="203.67" stroke="#333" stroke-width="0.35" />
<line x1="457.60" y1="200.99" x2="458.50" y2="200.99" stroke="#333" stroke-width="0.35" />
<line x1="457.60" y1="198.62" x2="458.50" y2="198.62" stroke="#333" stroke-width="0.35" />
<line x1="457.60" y1="182.56" x2="458.50" y2="182.56" stroke="#333" stroke-width="0.35" />
<line x1="457.60" y1="174.41" x2="458.50" y2="174.41" stroke="#333" stroke-width="0.35" />
<line x1="457.60" y1="168.62" x2="458.50" y2="168.62" stroke="#333" stroke-width="0.35" />
<line x1="457.60" y1="164.14" x2="458.50" y2="164.14" stroke="#333" stroke-width="0.35" />
<line x1="457.60" y1="160.47" x2="458.50" y2="160.47" stroke="#333" stroke-width="0.35" />
<line x1="457.60" y1="157.37" x2="458.50" y2="157.37" stroke="#333" stroke-width="0.35" />
<line x1="457.60" y1="154.69" x2="458.50" y2="154.69" stroke="#333" stroke-width="0.35" />
<line x1="457.60" y1="152.32" x2="458.50" y2="152.32" stroke="#333" stroke-width="0.35" />
<line x1="457.60" y1="136.26" x2="458.50" y2="136.26" stroke="#333" stroke-width="0.35" />
<line x1="474.68" y1="243.10" x2="474.68" y2="242.20" stroke="#333" stroke-width="0.35" />
<line x1="484.61" y1="243.10" x2="484.61" y2="242.20" stroke="#333" stroke-width="0.35" />
<line x1="491.66" y1="243.10" x2="491.66" y2="242.20" stroke="#333" stroke-width="0.35" />
<line x1="497.12" y1="243.10" x2="497.12" y2="242.20" stroke="#333" stroke-width="0.35" />
<line x1="501.59" y1="243.10" x2="501.59" y2="242.20" stroke="#333" stroke-width="0.35" />
<line x1="505.36" y1="243.10" x2="505.36" y2="242.20" stroke="#333" stroke-width="0.35" />
<line x1="508.63" y1="243.10" x2="508.63" y2="242.20" stroke="#333" stroke-width="0.35" />
<line x1="511.52" y1="243.10" x2="511.52" y2="242.20" stroke="#333" stroke-width="0.35" />
<line x1="531.08" y1="243.10" x2="531.08" y2="242.20" stroke="#333" stroke-width="0.35" />
<line x1="541.01" y1="243.10" x2="541.01" y2="242.20" stroke="#333" stroke-width="0.35" />
<text x="502.40" y="257.20" font-family='"Liberation Sans", sans-serif' font-size="5.4" text-anchor="middle" font-weight="bold" fill="#222" stroke="#222" stroke-width="0.12" >Voltage (V)</text>
<text x="0.00" y="0.00" font-family='"Liberation Sans", sans-serif' font-size="4.95" text-anchor="middle" font-weight="bold" fill="#222" stroke="#222" stroke-width="0.12" transform="translate(445.0,194.9) rotate(-90)">Current (A)</text>
<circle cx="467.90" cy="141.10" r="1.50" fill="#111" stroke="none" stroke-width="0.5" />
<text x="475.60" y="143.10" font-family='"Liberation Sans", sans-serif' font-size="5.6" text-anchor="start" font-weight="normal" fill="#222" stroke="#222" stroke-width="0.12" >NiO<tspan font-size="3.4" dy="1.3">x</tspan></text>
<text x="466.10" y="152.00" font-family='"Liberation Sans", sans-serif' font-size="5.6" text-anchor="start" font-weight="normal" fill="#222" stroke="#222" stroke-width="0.12" >(V<tspan font-size="3.4" dy="1.3">TFL</tspan><tspan dy="-1.3">= 1.36 V)</tspan></text>
<circle cx="467.90" cy="159.00" r="1.50" fill="#ff1a1a" stroke="none" stroke-width="0.5" />
<text x="475.60" y="160.50" font-family='"Liberation Sans", sans-serif' font-size="5.6" text-anchor="start" font-weight="normal" fill="#222" stroke="#222" stroke-width="0.12" >NiO<tspan font-size="3.4" dy="1.3">x</tspan><tspan dy="-1.3">/TMSBr</tspan></text>
<text x="466.10" y="168.90" font-family='"Liberation Sans", sans-serif' font-size="5.6" text-anchor="start" font-weight="normal" fill="#222" stroke="#222" stroke-width="0.12" >(V<tspan font-size="3.4" dy="1.3">TFL</tspan><tspan dy="-1.3">= 1.01 V)</tspan></text>
<text x="462.90" y="180.50" font-family='"Liberation Sans", sans-serif' font-size="5.3" text-anchor="start" font-weight="bold" fill="#111" stroke="#111" stroke-width="0.12" >Hole-only device</text>
<text x="0.00" y="0.00" font-family='"Liberation Sans", sans-serif' font-size="15" text-anchor="start" font-weight="bold" fill="#231f20" stroke="#231f20" stroke-width="0.12" transform="translate(7.8,275.0) scale(0.88,1)">h</text>
<clipPath id="clip31"><rect x="31.2" y="269.2" width="111.89999999999999" height="75.10000000000002"/></clipPath>
<g clip-path="url(#clip31)">
<rect x="31.20" y="269.20" width="111.90" height="75.10" fill="#f8c490" stroke="none" stroke-width="0.6" />
<rect x="102.70" y="269.20" width="12.90" height="75.10" fill="#c8c8c8" stroke="none" stroke-width="0.6" />
<rect x="115.60" y="269.20" width="27.50" height="75.10" fill="#00e8f0" stroke="none" stroke-width="0.6" />
<polyline points="31.00,343.49 31.50,343.70 32.00,343.67 32.50,343.52 33.00,343.59 33.50,343.57 34.00,343.63 34.50,343.67 35.00,343.46 35.50,343.43 36.00,343.67 36.50,343.55 37.00,343.65 37.50,343.42 38.00,343.55 38.50,343.63 39.00,343.48 39.50,343.69 40.00,343.67 40.50,343.41 41.00,343.40 41.50,343.56 42.00,343.67 42.50,343.50 43.00,343.45 43.50,343.51 44.00,343.39 44.50,343.44 45.00,343.51 45.50,343.52 46.00,343.44 46.50,343.44 47.00,343.43 47.50,343.50 48.00,343.45 48.50,343.36 49.00,343.60 49.50,343.52 50.00,343.54 50.50,343.40 51.00,343.64 51.50,343.60 52.00,343.37 52.50,343.43 53.00,343.55 53.50,343.54 54.00,343.61 54.50,343.45 55.00,343.57 55.50,343.52 56.00,343.41 56.50,343.49 57.00,343.57 57.50,343.56 58.00,343.46 58.50,343.48 59.00,343.31 59.50,343.37 60.00,343.53 60.50,343.41 61.00,343.34 61.50,343.45 62.00,343.49 62.50,343.48 63.00,343.39 63.50,343.41 64.00,343.42 64.50,343.50 65.00,343.42 65.50,343.38 66.00,343.41 66.50,343.27 67.00,343.27 67.50,343.46 68.00,343.54 68.50,343.42 69.00,343.36 69.50,343.28 70.00,343.38 70.50,343.51 71.00,343.44 71.50,343.37 72.00,343.46 72.50,343.26 73.00,343.34 73.50,343.47 74.00,343.35 74.50,343.31 75.00,343.24 75.50,343.32 76.00,343.44 76.50,343.15 77.00,343.37 77.50,343.38 78.00,343.39 78.50,343.34 79.00,343.36 79.50,343.26 80.00,343.27 80.50,343.22 81.00,343.10 81.50,343.34 82.00,343.25 82.50,343.13 83.00,343.21 83.50,343.20 84.00,343.16 84.50,343.15 85.00,343.20 85.50,343.22 86.00,343.21 86.50,343.16 87.00,343.02 87.50,343.08 88.00,343.05 88.50,343.17 89.00,343.25 89.50,343.22 90.00,343.21 90.50,343.21 91.00,343.04 91.50,343.21 92.00,343.15 92.50,342.97 93.00,342.94 93.50,342.94 94.00,343.15 94.50,342.99 95.00,342.95 95.50,343.09 96.00,343.00 96.50,342.91 97.00,342.94 97.50,343.04 98.00,342.93 98.50,342.95 99.00,343.08 99.50,342.99 100.00,342.95 100.50,342.99 101.00,342.85 101.50,342.95 102.00,342.96 102.50,342.88 103.00,342.85 103.50,343.08 104.00,342.96 104.50,342.87 105.00,342.98 105.50,343.04 106.00,342.80 106.50,342.79 107.00,342.82 107.50,342.99 108.00,342.82 108.50,342.98 109.00,342.96 109.50,342.92 110.00,342.82 110.50,343.04 111.00,342.98 111.50,342.89 112.00,342.80 112.50,342.92 113.00,342.84 113.50,342.89 114.00,342.81 114.50,342.89 115.00,342.72 115.50,342.78 116.00,342.98 116.50,342.95 117.00,342.77 117.50,342.93 118.00,342.76 118.50,342.95 119.00,342.88 119.50,342.78 120.00,342.73 120.50,342.59 121.00,342.78 121.50,342.46 122.00,342.63 122.50,342.61 123.00,342.42 123.50,342.23 124.00,342.38 124.50,342.34 125.00,342.19 125.50,342.07 126.00,341.96 126.50,341.89 127.00,341.78 127.50,341.85 128.00,341.71 128.50,341.57 129.00,341.48 129.50,341.58 130.00,341.52 130.50,341.72 131.00,341.80 131.50,342.10 132.00,342.25 132.50,342.12 133.00,342.31 133.50,342.53 134.00,342.91 134.50,343.03 135.00,343.09 135.50,343.23 136.00,343.55 136.50,343.61 137.00,343.64 137.50,343.47 138.00,343.64 138.50,343.59 139.00,343.54 139.50,343.70 140.00,343.48 140.50,343.63 141.00,343.45 141.50,343.48 142.00,343.71 142.50,343.51 143.00,343.68" fill="none" stroke="#8b1010" stroke-width="1.8" stroke-linejoin="round" />
<polyline points="31.00,343.79 31.50,343.79 32.00,343.61 32.50,343.61 33.00,343.75 33.50,343.73 34.00,343.72 34.50,343.64 35.00,343.70 35.50,343.69 36.00,343.68 36.50,343.60 37.00,343.65 37.50,343.64 38.00,343.70 38.50,343.75 39.00,343.74 39.50,343.66 40.00,343.63 40.50,343.59 41.00,343.54 41.50,343.54 42.00,343.62 42.50,343.59 43.00,343.60 43.50,343.70 44.00,343.62 44.50,343.63 45.00,343.56 45.50,343.51 46.00,343.57 46.50,343.53 47.00,343.60 47.50,343.50 48.00,343.23 48.50,342.94 49.00,342.88 49.50,342.66 50.00,342.45 50.50,342.38 51.00,342.25 51.50,342.15 52.00,341.96 52.50,341.98 53.00,341.87 53.50,341.65 54.00,341.87 54.50,341.96 55.00,342.00 55.50,342.11 56.00,342.20 56.50,342.39 57.00,342.40 57.50,342.67 58.00,342.77 58.50,343.08 59.00,343.28 59.50,343.39 60.00,343.61 60.50,343.68 61.00,343.64 61.50,343.60 62.00,343.54 62.50,343.56 63.00,343.64 63.50,343.53 64.00,343.68 64.50,343.55 65.00,343.68 65.50,343.56 66.00,343.69 66.50,343.64 67.00,343.60 67.50,343.60 68.00,343.63 68.50,343.62 69.00,343.56 69.50,343.54 70.00,343.60 70.50,343.69 71.00,343.62 71.50,343.52 72.00,343.66 72.50,343.65 73.00,343.68 73.50,343.54 74.00,343.65 74.50,343.30 75.00,343.20 75.50,342.90 76.00,342.68 76.50,342.59 77.00,342.22 77.50,342.18 78.00,342.13 78.50,341.89 79.00,341.76 79.50,341.78 80.00,341.80 80.50,341.98 81.00,341.97 81.50,342.15 82.00,342.23 82.50,342.55 83.00,342.65 83.50,343.04 84.00,343.07 84.50,343.43 85.00,343.50 85.50,343.56 86.00,343.68 86.50,343.55 87.00,343.56 87.50,343.67 88.00,343.62 88.50,343.56 89.00,343.75 89.50,343.59 90.00,343.57 90.50,343.64 91.00,343.70 91.50,343.74 92.00,343.62 92.50,343.67 93.00,343.61 93.50,343.70 94.00,343.77 94.50,343.77 95.00,343.81 95.50,343.79 96.00,343.82 96.50,343.79 97.00,343.75 97.50,343.71 98.00,343.81 98.50,343.74 99.00,343.71 99.50,343.78 100.00,343.87" fill="none" stroke="#2020ff" stroke-width="1.9" stroke-linejoin="round" />
<polyline points="31.00,309.19 31.50,309.57 32.00,309.38 32.50,309.68 33.00,309.73 33.50,309.07 34.00,309.03 34.50,310.04 35.00,309.36 35.50,309.35 36.00,310.28 36.50,309.67 37.00,310.13 37.50,309.72 38.00,309.93 38.50,309.36 39.00,309.96 39.50,310.26 40.00,309.87 40.50,310.15 41.00,310.08 41.50,309.37 42.00,310.22 42.50,310.04 43.00,309.71 43.50,309.41 44.00,310.43 44.50,309.98 45.00,310.29 45.50,310.50 46.00,310.32 46.50,310.59 47.00,309.98 47.50,310.48 48.00,310.08 48.50,310.68 49.00,310.63 49.50,309.72 50.00,309.78 50.50,309.90 51.00,310.81 51.50,310.20 52.00,310.44 52.50,310.08 53.00,310.36 53.50,310.25 54.00,310.25 54.50,310.56 55.00,310.60 55.50,311.02 56.00,310.78 56.50,311.12 57.00,311.06 57.50,311.26 58.00,310.91 58.50,310.34 59.00,311.21 59.50,311.37 60.00,311.33 60.50,310.96 61.00,311.17 61.50,310.61 62.00,311.39 62.50,311.11 63.00,310.80 63.50,310.57 64.00,311.55 64.50,311.75 65.00,310.70 65.50,311.59 66.00,311.16 66.50,310.88 67.00,311.09 67.50,311.70 68.00,311.86 68.50,310.90 69.00,311.62 69.50,310.97 70.00,311.81 70.50,311.38 71.00,312.08 71.50,312.23 72.00,311.69 72.50,312.32 73.00,311.53 73.50,311.29 74.00,311.95 74.50,311.30 75.00,311.54 75.50,311.82 76.00,312.10 76.50,311.59 77.00,311.49 77.50,312.52 78.00,311.89 78.50,312.69 79.00,312.65 79.50,312.07 80.00,312.20 80.50,312.31 81.00,312.49 81.50,312.47 82.00,312.46 82.50,312.57 83.00,312.99 83.50,312.50 84.00,312.45 84.50,312.83 85.00,312.28 85.50,312.39 86.00,313.24 86.50,312.73 87.00,312.80 87.50,312.19 88.00,312.71 88.50,312.94 89.00,312.30 89.50,313.05 90.00,313.11 90.50,312.45 91.00,313.17 91.50,313.01 92.00,313.30 92.50,312.95 93.00,313.41 93.50,313.48 94.00,312.65 94.50,312.73 95.00,313.51 95.50,313.89 96.00,313.07 96.50,313.35 97.00,313.55 97.50,313.26 98.00,313.34 98.50,313.32 99.00,313.42 99.50,313.73 100.00,313.41 100.50,313.53 101.00,314.04 101.50,313.18 102.00,313.87 102.50,314.10 103.00,313.63 103.50,313.56 104.00,314.29 104.50,313.65 105.00,313.62 105.50,313.95 106.00,314.30 106.50,313.62 107.00,313.94 107.50,314.00 108.00,314.65 108.50,314.23 109.00,314.78 109.50,314.01 110.00,314.26 110.50,314.69 111.00,315.02 111.50,314.55 112.00,314.33 112.50,314.25 113.00,314.79 113.50,314.44 114.00,315.23 114.50,315.32 115.00,314.58 115.50,314.75 116.00,315.43 116.50,315.28 117.00,315.53 117.50,315.03 118.00,314.82 118.50,315.07 119.00,315.72 119.50,315.14 120.00,315.28 120.50,315.42 121.00,315.47 121.50,315.51 122.00,316.18 122.50,315.31 123.00,315.18 123.50,316.36 124.00,316.33 124.50,316.51 125.00,315.90 125.50,316.57 126.00,316.59 126.50,315.79 127.00,316.47 127.50,316.63 128.00,316.48 128.50,316.35 129.00,316.12 129.50,316.23 130.00,316.14 130.50,315.99 131.00,316.66 131.50,316.35 132.00,317.02 132.50,316.15 133.00,317.22 133.50,317.02 134.00,317.34 134.50,317.35 135.00,317.40 135.50,317.06 136.00,316.43 136.50,317.35 137.00,316.71 137.50,316.91 138.00,317.39 138.50,317.27 139.00,317.18 139.50,317.86 140.00,317.51 140.50,317.24 141.00,317.17 141.50,317.95 142.00,317.54 142.50,317.95 143.00,317.48 143.50,317.34" fill="none" stroke="#ff00ff" stroke-width="2.2" stroke-linejoin="round" />
<polyline points="31.00,272.42 31.50,272.21 32.00,272.30 32.50,272.02 33.00,271.84 33.50,271.96 34.00,272.21 34.50,272.01 35.00,272.12 35.50,271.88 36.00,272.23 36.50,272.19 37.00,272.25 37.50,272.34 38.00,272.55 38.50,273.18 39.00,273.25 39.50,273.37 40.00,273.50 40.50,273.21 41.00,273.43 41.50,273.79 42.00,274.00 42.50,274.22 43.00,274.37 43.50,273.95 44.00,274.45 44.50,274.63 45.00,274.65 45.50,274.56 46.00,274.90 46.50,274.77 47.00,275.49 47.50,275.58 48.00,275.49 48.50,275.46 49.00,276.02 49.50,275.92 50.00,276.27 50.50,276.38 51.00,276.28 51.50,276.35 52.00,276.62 52.50,276.59 53.00,276.48 53.50,276.65 54.00,277.07 54.50,276.60 55.00,276.68 55.50,277.15 56.00,276.98 56.50,277.23 57.00,277.25 57.50,277.23 58.00,277.76 58.50,277.27 59.00,277.49 59.50,277.42 60.00,277.79 60.50,277.61 61.00,277.73 61.50,278.08 62.00,277.85 62.50,278.09 63.00,278.40 63.50,277.91 64.00,277.95 64.50,278.13 65.00,278.58 65.50,278.55 66.00,278.35 66.50,278.49 67.00,278.45 67.50,278.72 68.00,278.50 68.50,279.02 69.00,279.23 69.50,279.34 70.00,279.26 70.50,279.49 71.00,278.90 71.50,279.16 72.00,279.70 72.50,279.64 73.00,279.45 73.50,279.90 74.00,279.74 74.50,279.95 75.00,279.65 75.50,279.65 76.00,279.90 76.50,279.75 77.00,279.99 77.50,280.47 78.00,280.10 78.50,279.94 79.00,280.04 79.50,280.19 80.00,280.67 80.50,280.43 81.00,280.44 81.50,280.36 82.00,281.03 82.50,280.69 83.00,280.60 83.50,280.55 84.00,280.60 84.50,280.73 85.00,281.14 85.50,280.83 86.00,280.80 86.50,281.17 87.00,281.06 87.50,281.64 88.00,281.08 88.50,281.42 89.00,281.64 89.50,281.44 90.00,281.90 90.50,281.60 91.00,281.49 91.50,281.66 92.00,281.45 92.50,281.77 93.00,281.71 93.50,282.21 94.00,282.22 94.50,282.04 95.00,281.77 95.50,282.03 96.00,282.12 96.50,282.20 97.00,282.31 97.50,282.86 98.00,282.45 98.50,282.49 99.00,283.20 99.50,283.05 100.00,283.44 100.50,283.13 101.00,283.58 101.50,283.51 102.00,283.70 102.50,283.77 103.00,283.70 103.50,283.52 104.00,283.70 104.50,284.26 105.00,284.33 105.50,284.40 106.00,284.04 106.50,284.32 107.00,284.47 107.50,284.42 108.00,284.59 108.50,284.44 109.00,284.58 109.50,284.66 110.00,284.42 110.50,284.93 111.00,285.00 111.50,284.44 112.00,285.12 112.50,285.17 113.00,285.01 113.50,284.63 114.00,285.28 114.50,284.80 115.00,285.44 115.50,285.29 116.00,284.92 116.50,285.06 117.00,285.44 117.50,285.45 118.00,285.64 118.50,285.82 119.00,285.38 119.50,285.29 120.00,285.99 120.50,285.41 121.00,286.07 121.50,285.60 122.00,286.14 122.50,286.18 123.00,286.31 123.50,286.14 124.00,286.41 124.50,285.98 125.00,286.35 125.50,286.15 126.00,286.58 126.50,286.54 127.00,286.37 127.50,286.46 128.00,286.15 128.50,286.19 129.00,286.63 129.50,286.60 130.00,286.90 130.50,286.77 131.00,286.48 131.50,286.68 132.00,287.00 132.50,286.87 133.00,286.56 133.50,287.19 134.00,287.23 134.50,286.77 135.00,287.14 135.50,287.08 136.00,287.42 136.50,287.13 137.00,287.13 137.50,287.36 138.00,287.75 138.50,287.19 139.00,287.26 139.50,287.67 140.00,287.90 140.50,287.69 141.00,287.69 141.50,288.04 142.00,288.04 142.50,287.59 143.00,288.21 143.50,287.79" fill="none" stroke="#8a8000" stroke-width="2.1" stroke-linejoin="round" />
<polyline points="58.50,346.07 59.00,345.18 59.50,344.25 60.00,343.17 60.50,341.57 61.00,340.21 61.50,338.19 62.00,336.98 62.50,335.78 63.00,334.13 63.50,332.80 64.00,330.85 64.50,329.61 65.00,328.11 65.50,326.93 66.00,325.58 66.50,323.89 67.00,322.65 67.50,321.32 68.00,320.34 68.50,318.94 69.00,317.46 69.50,316.74 70.00,315.23 70.50,314.41 71.00,313.01 71.50,311.82 72.00,311.24 72.50,309.73 73.00,308.63 73.50,307.98 74.00,306.91 74.50,305.97 75.00,305.79 75.50,304.95 76.00,304.44 76.50,303.57 77.00,303.43 77.50,302.69 78.00,302.27 78.50,301.64 79.00,300.70 79.50,300.15 80.00,299.45 80.50,298.85 81.00,298.21 81.50,297.77 82.00,297.36 82.50,296.73 83.00,296.86 83.50,296.38 84.00,296.09 84.50,296.12 85.00,295.64 85.50,295.26 86.00,295.09 86.50,294.95 87.00,294.28 87.50,294.56 88.00,293.71 88.50,294.01 89.00,293.94 89.50,293.30 90.00,293.63 90.50,293.24 91.00,293.23 91.50,292.76 92.00,292.64 92.50,292.59 93.00,292.92 93.50,292.33 94.00,292.52 94.50,292.49 95.00,292.37 95.50,291.82 96.00,291.63 96.50,291.54 97.00,291.50 97.50,290.91 98.00,291.10 98.50,290.94 99.00,290.79 99.50,290.10 100.00,290.46 100.50,289.76 101.00,289.71 101.50,289.69 102.00,289.68 102.50,289.14 103.00,289.29 103.50,288.87 104.00,288.53 104.50,288.33 105.00,288.05 105.50,287.79 106.00,287.63 106.50,287.75 107.00,287.74 107.50,287.04 108.00,286.77 108.50,287.13 109.00,286.66 109.50,286.38 110.00,286.08 110.50,286.10 111.00,286.04 111.50,285.61 112.00,285.39 112.50,285.02 113.00,285.39 113.50,284.71 114.00,284.85 114.50,284.91 115.00,284.34 115.50,284.55 116.00,284.54 116.50,284.20 117.00,284.15 117.50,283.60 118.00,283.65 118.50,283.34 119.00,283.61 119.50,283.13 120.00,283.09 120.50,283.27 121.00,283.04 121.50,282.96 122.00,282.51 122.50,282.38 123.00,282.38 123.50,282.09 124.00,281.89 124.50,281.88 125.00,281.64 125.50,281.69 126.00,281.98 126.50,281.88 127.00,281.59 127.50,281.43 128.00,281.25 128.50,281.02 129.00,281.05 129.50,281.27 130.00,281.24 130.50,280.85 131.00,281.02 131.50,280.93 132.00,280.80 132.50,280.70 133.00,280.67 133.50,280.35 134.00,280.47 134.50,280.14 135.00,280.19 135.50,280.33 136.00,280.25 136.50,279.98 137.00,280.35 137.50,280.14 138.00,280.07 138.50,279.70 139.00,279.99 139.50,279.78 140.00,280.01 140.50,279.85 141.00,280.04 141.50,279.90 142.00,279.97 142.50,279.67 143.00,279.82 143.50,279.84" fill="none" stroke="#1a8c88" stroke-width="2.0" stroke-linejoin="round" />
<polyline points="89.50,346.15 90.00,345.54 90.50,344.74 91.00,344.01 91.50,343.25 92.00,342.75 92.50,341.82 93.00,341.13 93.50,340.10 94.00,339.47 94.50,338.39 95.00,338.33 95.50,337.98 96.00,337.50 96.50,337.24 97.00,336.99 97.50,336.43 98.00,336.29 98.50,336.25 99.00,335.86 99.50,336.01 100.00,335.83 100.50,335.78 101.00,335.41 101.50,335.16 102.00,335.40 102.50,335.27 103.00,334.97 103.50,334.67 104.00,334.60 104.50,334.70 105.00,334.41 105.50,334.61 106.00,334.31 106.50,333.99 107.00,334.10 107.50,333.83 108.00,334.06 108.50,334.25 109.00,334.26 109.50,334.53 110.00,334.76 110.50,335.02 111.00,335.31 111.50,335.04 112.00,335.41 112.50,335.60 113.00,335.34 113.50,335.37 114.00,335.00 114.50,335.28 115.00,334.98 115.50,334.66 116.00,334.82 116.50,334.53 117.00,334.67 117.50,335.09 118.00,335.20 118.50,335.52 119.00,336.12 119.50,336.32 120.00,336.26 120.50,337.22 121.00,337.43 121.50,338.17 122.00,339.04 122.50,339.48 123.00,339.90 123.50,340.67 124.00,341.40 124.50,342.00 125.00,343.17 125.50,343.50 126.00,344.83 126.50,346.12" fill="none" stroke="#ff2020" stroke-width="2.4" stroke-linejoin="round" />
</g>
<rect x="31.20" y="269.20" width="111.90" height="75.10" fill="none" stroke="#333" stroke-width="0.6" />
<line x1="31.40" y1="344.30" x2="31.40" y2="342.70" stroke="#333" stroke-width="0.5" />
<text x="31.40" y="351.00" font-family='"Liberation Sans", sans-serif' font-size="4.85" text-anchor="middle" font-weight="bold" fill="#222" stroke="#222" stroke-width="0.12" >0</text>
<line x1="58.12" y1="344.30" x2="58.12" y2="342.70" stroke="#333" stroke-width="0.5" />
<text x="58.12" y="351.00" font-family='"Liberation Sans", sans-serif' font-size="4.85" text-anchor="middle" font-weight="bold" fill="#222" stroke="#222" stroke-width="0.12" >100</text>
<line x1="84.84" y1="344.30" x2="84.84" y2="342.70" stroke="#333" stroke-width="0.5" />
<text x="84.84" y="351.00" font-family='"Liberation Sans", sans-serif' font-size="4.85" text-anchor="middle" font-weight="bold" fill="#222" stroke="#222" stroke-width="0.12" >200</text>
<line x1="111.56" y1="344.30" x2="111.56" y2="342.70" stroke="#333" stroke-width="0.5" />
<text x="111.56" y="351.00" font-family='"Liberation Sans", sans-serif' font-size="4.85" text-anchor="middle" font-weight="bold" fill="#222" stroke="#222" stroke-width="0.12" >300</text>
<line x1="138.28" y1="344.30" x2="138.28" y2="342.70" stroke="#333" stroke-width="0.5" />
<text x="138.28" y="351.00" font-family='"Liberation Sans", sans-serif' font-size="4.85" text-anchor="middle" font-weight="bold" fill="#222" stroke="#222" stroke-width="0.12" >400</text>
<line x1="44.76" y1="344.30" x2="44.76" y2="343.40" stroke="#333" stroke-width="0.4" />
<line x1="71.48" y1="344.30" x2="71.48" y2="343.40" stroke="#333" stroke-width="0.4" />
<line x1="98.20" y1="344.30" x2="98.20" y2="343.40" stroke="#333" stroke-width="0.4" />
<line x1="124.92" y1="344.30" x2="124.92" y2="343.40" stroke="#333" stroke-width="0.4" />
<line x1="31.20" y1="325.80" x2="32.80" y2="325.80" stroke="#333" stroke-width="0.5" />
<text x="29.40" y="327.90" font-family='"Liberation Sans", sans-serif' font-size="5.2" text-anchor="end" font-weight="bold" fill="#222" stroke="#222" stroke-width="0.12" >10<tspan font-size="3.4" dy="-2.2">2</tspan></text>
<line x1="31.20" y1="343.27" x2="32.10" y2="343.27" stroke="#333" stroke-width="0.35" />
<line x1="31.20" y1="338.87" x2="32.10" y2="338.87" stroke="#333" stroke-width="0.35" />
<line x1="31.20" y1="335.75" x2="32.10" y2="335.75" stroke="#333" stroke-width="0.35" />
<line x1="31.20" y1="333.33" x2="32.10" y2="333.33" stroke="#333" stroke-width="0.35" />
<line x1="31.20" y1="331.35" x2="32.10" y2="331.35" stroke="#333" stroke-width="0.35" />
<line x1="31.20" y1="329.67" x2="32.10" y2="329.67" stroke="#333" stroke-width="0.35" />
<line x1="31.20" y1="328.22" x2="32.10" y2="328.22" stroke="#333" stroke-width="0.35" />
<line x1="31.20" y1="326.94" x2="32.10" y2="326.94" stroke="#333" stroke-width="0.35" />
<line x1="31.20" y1="300.80" x2="32.80" y2="300.80" stroke="#333" stroke-width="0.5" />
<text x="29.40" y="302.90" font-family='"Liberation Sans", sans-serif' font-size="5.2" text-anchor="end" font-weight="bold" fill="#222" stroke="#222" stroke-width="0.12" >10<tspan font-size="3.4" dy="-2.2">3</tspan></text>
<line x1="31.20" y1="318.27" x2="32.10" y2="318.27" stroke="#333" stroke-width="0.35" />
<line x1="31.20" y1="313.87" x2="32.10" y2="313.87" stroke="#333" stroke-width="0.35" />
<line x1="31.20" y1="310.75" x2="32.10" y2="310.75" stroke="#333" stroke-width="0.35" />
<line x1="31.20" y1="308.33" x2="32.10" y2="308.33" stroke="#333" stroke-width="0.35" />
<line x1="31.20" y1="306.35" x2="32.10" y2="306.35" stroke="#333" stroke-width="0.35" />
<line x1="31.20" y1="304.67" x2="32.10" y2="304.67" stroke="#333" stroke-width="0.35" />
<line x1="31.20" y1="303.22" x2="32.10" y2="303.22" stroke="#333" stroke-width="0.35" />
<line x1="31.20" y1="301.94" x2="32.10" y2="301.94" stroke="#333" stroke-width="0.35" />
<line x1="31.20" y1="275.80" x2="32.80" y2="275.80" stroke="#333" stroke-width="0.5" />
<text x="29.40" y="277.90" font-family='"Liberation Sans", sans-serif' font-size="5.2" text-anchor="end" font-weight="bold" fill="#222" stroke="#222" stroke-width="0.12" >10<tspan font-size="3.4" dy="-2.2">4</tspan></text>
<line x1="31.20" y1="293.27" x2="32.10" y2="293.27" stroke="#333" stroke-width="0.35" />
<line x1="31.20" y1="288.87" x2="32.10" y2="288.87" stroke="#333" stroke-width="0.35" />
<line x1="31.20" y1="285.75" x2="32.10" y2="285.75" stroke="#333" stroke-width="0.35" />
<line x1="31.20" y1="283.33" x2="32.10" y2="283.33" stroke="#333" stroke-width="0.35" />
<line x1="31.20" y1="281.35" x2="32.10" y2="281.35" stroke="#333" stroke-width="0.35" />
<line x1="31.20" y1="279.67" x2="32.10" y2="279.67" stroke="#333" stroke-width="0.35" />
<line x1="31.20" y1="278.22" x2="32.10" y2="278.22" stroke="#333" stroke-width="0.35" />
<line x1="31.20" y1="276.94" x2="32.10" y2="276.94" stroke="#333" stroke-width="0.35" />
<text x="73.90" y="275.20" font-family='"Liberation Sans", sans-serif' font-size="4.6" text-anchor="middle" font-weight="normal" fill="#111" stroke="#111" stroke-width="0.12" >FAMAPbI<tspan font-size="2.8" dy="1">3</tspan></text>
<text x="108.60" y="275.20" font-family='"Liberation Sans", sans-serif' font-size="4.6" text-anchor="middle" font-weight="normal" fill="#111" stroke="#111" stroke-width="0.12" >NiO<tspan font-size="2.8" dy="1">x</tspan></text>
<text x="130.00" y="275.20" font-family='"Liberation Sans", sans-serif' font-size="4.6" text-anchor="middle" font-weight="normal" fill="#111" stroke="#111" stroke-width="0.12" >FTO</text>
<line x1="32.80" y1="284.10" x2="43.20" y2="284.10" stroke="#ff2020" stroke-width="0.8" />
<circle cx="38.00" cy="284.10" r="1.10" fill="#ff2020" stroke="none" stroke-width="0.5" />
<text x="45.00" y="285.90" font-family='"Liberation Sans", sans-serif' font-size="4.9" text-anchor="start" font-weight="normal" fill="#222" stroke="#222" stroke-width="0.12" >Nickel</text>
<line x1="60.20" y1="284.10" x2="70.60" y2="284.10" stroke="#2020ff" stroke-width="0.8" />
<polygon points="65.40,282.80 66.70,285.10 64.10,285.10" fill="#2020ff" stroke="none" stroke-width="0.5" />
<text x="72.40" y="285.90" font-family='"Liberation Sans", sans-serif' font-size="4.9" text-anchor="start" font-weight="normal" fill="#222" stroke="#222" stroke-width="0.12" >Bromine</text>
<line x1="32.80" y1="289.80" x2="43.20" y2="289.80" stroke="#20a090" stroke-width="0.8" />
<circle cx="38.00" cy="289.80" r="1.10" fill="#20a090" stroke="none" stroke-width="0.5" />
<text x="45.00" y="291.60" font-family='"Liberation Sans", sans-serif' font-size="4.9" text-anchor="start" font-weight="normal" fill="#222" stroke="#222" stroke-width="0.12" >Tin</text>
<line x1="60.20" y1="289.80" x2="70.60" y2="289.80" stroke="#8a9020" stroke-width="0.8" />
<polygon points="65.40,288.50 66.70,290.80 64.10,290.80" fill="#8a9020" stroke="none" stroke-width="0.5" />
<text x="72.40" y="291.60" font-family='"Liberation Sans", sans-serif' font-size="4.9" text-anchor="start" font-weight="normal" fill="#222" stroke="#222" stroke-width="0.12" >Lead</text>
<line x1="32.80" y1="295.50" x2="43.20" y2="295.50" stroke="#ff20ff" stroke-width="0.8" />
<circle cx="38.00" cy="295.50" r="1.10" fill="#ff20ff" stroke="none" stroke-width="0.5" />
<text x="45.00" y="297.30" font-family='"Liberation Sans", sans-serif' font-size="4.9" text-anchor="start" font-weight="normal" fill="#222" stroke="#222" stroke-width="0.12" >Iodine</text>
<line x1="60.20" y1="295.50" x2="70.60" y2="295.50" stroke="#8b1010" stroke-width="0.8" />
<circle cx="65.40" cy="295.50" r="1.10" fill="#8b1010" stroke="none" stroke-width="0.5" />
<text x="72.40" y="297.30" font-family='"Liberation Sans", sans-serif' font-size="4.9" text-anchor="start" font-weight="normal" fill="#222" stroke="#222" stroke-width="0.12" >Sulfur</text>
<text x="87.85" y="357.70" font-family='"Liberation Sans", sans-serif' font-size="5.05" text-anchor="middle" font-weight="bold" fill="#222" stroke="#222" stroke-width="0.12" >Etching Time (s)</text>
<text x="0.00" y="0.00" font-family='"Liberation Sans", sans-serif' font-size="5.1" text-anchor="middle" font-weight="bold" fill="#222" stroke="#222" stroke-width="0.12" transform="translate(19.5,309.2) rotate(-90)">Intensity (count)</text>
<text x="0.00" y="0.00" font-family='"Liberation Sans", sans-serif' font-size="15" text-anchor="start" font-weight="bold" fill="#231f20" stroke="#231f20" stroke-width="0.12" transform="translate(147.9,275.0) scale(0.88,1)">i</text>
<defs><linearGradient id="ibg" x1="0" y1="0" x2="1" y2="0">
<stop offset="0" stop-color="#f8a458"/><stop offset="0.35" stop-color="#f6b872"/><stop offset="0.7" stop-color="#ecd492"/><stop offset="1" stop-color="#ddeeb0"/></linearGradient></defs>
<clipPath id="clip168"><rect x="168.3" y="268.9" width="109.5" height="75.10000000000002"/></clipPath>
<g clip-path="url(#clip168)">
<rect x="168.30" y="268.90" width="109.50" height="75.10" fill="#f8a458" stroke="none" stroke-width="0.6" />
<rect x="168.60" y="268.90" width="68.30" height="75.10" fill="url(#ibg)" stroke="none" stroke-width="0.6" />
<rect x="236.90" y="268.90" width="11.40" height="75.10" fill="#c8c8c8" stroke="none" stroke-width="0.6" />
<rect x="248.30" y="268.90" width="29.80" height="75.10" fill="#00e8f0" stroke="none" stroke-width="0.6" />
<polyline points="168.70,309.19 169.20,308.97 169.70,309.11 170.20,309.32 170.70,308.58 171.20,309.08 171.70,309.45 172.20,309.45 172.70,309.13 173.20,308.69 173.70,309.03 174.20,309.77 174.70,308.74 175.20,309.05 175.70,309.85 176.20,309.29 176.70,309.04 177.20,309.22 177.70,309.97 178.20,309.32 178.70,309.48 179.20,309.76 179.70,310.02 180.20,309.69 180.70,309.24 181.20,309.87 181.70,309.27 182.20,309.38 182.70,309.54 183.20,310.19 183.70,309.74 184.20,310.27 184.70,309.68 185.20,309.67 185.70,309.60 186.20,310.46 186.70,310.69 187.20,309.96 187.70,310.02 188.20,309.79 188.70,310.58 189.20,310.20 189.70,310.04 190.20,310.69 190.70,310.67 191.20,310.52 191.70,310.20 192.20,310.82 192.70,310.75 193.20,310.64 193.70,310.35 194.20,311.31 194.70,311.26 195.20,311.09 195.70,311.49 196.20,311.03 196.70,310.78 197.20,310.54 197.70,311.17 198.20,311.09 198.70,311.03 199.20,311.73 199.70,311.58 200.20,310.75 200.70,311.71 201.20,310.68 201.70,311.50 202.20,311.13 202.70,311.66 203.20,311.96 203.70,311.49 204.20,311.81 204.70,310.99 205.20,311.76 205.70,311.14 206.20,311.58 206.70,311.47 207.20,311.19 207.70,312.03 208.20,311.28 208.70,311.52 209.20,311.35 209.70,312.07 210.20,311.67 210.70,311.40 211.20,311.42 211.70,311.68 212.20,312.06 212.70,311.50 213.20,311.55 213.70,312.36 214.20,312.23 214.70,311.78 215.20,312.02 215.70,311.82 216.20,312.03 216.70,312.19 217.20,312.01 217.70,312.01 218.20,312.07 218.70,312.19 219.20,312.52 219.70,312.94 220.20,312.68 220.70,312.47 221.20,311.96 221.70,312.21 222.20,312.77 222.70,312.52 223.20,313.07 223.70,313.17 224.20,312.47 224.70,312.57 225.20,312.52 225.70,313.00 226.20,312.33 226.70,312.57 227.20,313.32 227.70,312.74 228.20,313.48 228.70,312.82 229.20,313.37 229.70,312.95 230.20,312.54 230.70,313.14 231.20,312.72 231.70,313.60 232.20,313.36 232.70,313.18 233.20,313.68 233.70,313.26 234.20,313.78 234.70,313.51 235.20,312.89 235.70,313.05 236.20,313.74 236.70,312.87 237.20,313.96 237.70,312.85 238.20,313.73 238.70,313.60 239.20,313.37 239.70,313.63 240.20,313.63 240.70,313.39 241.20,313.32 241.70,313.08 242.20,313.85 242.70,314.17 243.20,313.61 243.70,314.24 244.20,313.73 244.70,313.61 245.20,314.31 245.70,314.51 246.20,313.56 246.70,314.54 247.20,313.93 247.70,314.52 248.20,313.99 248.70,314.88 249.20,314.14 249.70,314.03 250.20,313.89 250.70,314.04 251.20,314.04 251.70,314.96 252.20,314.05 252.70,314.21 253.20,314.41 253.70,314.34 254.20,315.15 254.70,314.27 255.20,315.13 255.70,314.78 256.20,314.58 256.70,314.73 257.20,315.13 257.70,314.85 258.20,315.07 258.70,315.11 259.20,315.34 259.70,315.58 260.20,315.14 260.70,315.57 261.20,315.74 261.70,315.29 262.20,315.90 262.70,315.13 263.20,315.67 263.70,315.55 264.20,315.32 264.70,316.01 265.20,316.29 265.70,315.90 266.20,315.79 266.70,316.50 267.20,316.65 267.70,316.26 268.20,316.23 268.70,316.37 269.20,316.49 269.70,316.52 270.20,316.39 270.70,316.70 271.20,316.74 271.70,316.66 272.20,316.57 272.70,316.43 273.20,316.29 273.70,316.69 274.20,316.50 274.70,316.74 275.20,316.44 275.70,317.36 276.20,316.47 276.70,317.42 277.20,317.09 277.70,317.55" fill="none" stroke="#ff00ff" stroke-width="2.0" stroke-linejoin="round" />
<polyline points="168.70,270.47 169.20,270.79 169.70,270.72 170.20,270.57 170.70,270.34 171.20,270.71 171.70,270.68 172.20,270.43 172.70,270.39 173.20,270.16 173.70,269.96 174.20,270.18 174.70,270.29 175.20,269.89 175.70,270.35 176.20,269.92 176.70,270.02 177.20,270.01 177.70,270.81 178.20,270.76 178.70,270.98 179.20,270.93 179.70,270.65 180.20,270.98 180.70,271.23 181.20,271.09 181.70,271.80 182.20,271.52 182.70,271.50 183.20,272.09 183.70,271.74 184.20,272.43 184.70,272.22 185.20,272.42 185.70,272.40 186.20,272.63 186.70,272.55 187.20,272.58 187.70,273.26 188.20,272.91 188.70,273.40 189.20,273.09 189.70,273.73 190.20,273.77 190.70,273.78 191.20,273.88 191.70,273.85 192.20,274.06 192.70,273.73 193.20,274.08 193.70,274.42 194.20,274.09 194.70,274.69 195.20,274.77 195.70,274.53 196.20,274.60 196.70,274.76 197.20,274.81 197.70,275.34 198.20,275.01 198.70,274.86 199.20,275.01 199.70,275.54 200.20,275.84 200.70,275.59 201.20,275.68 201.70,275.82 202.20,276.06 202.70,275.79 203.20,276.16 203.70,276.23 204.20,276.37 204.70,276.16 205.20,276.26 205.70,276.48 206.20,276.98 206.70,276.68 207.20,276.95 207.70,276.85 208.20,276.81 208.70,276.88 209.20,277.50 209.70,277.58 210.20,277.40 210.70,277.71 211.20,277.81 211.70,278.06 212.20,278.20 212.70,277.92 213.20,278.42 213.70,278.50 214.20,278.34 214.70,278.63 215.20,278.43 215.70,278.42 216.20,278.41 216.70,278.93 217.20,278.50 217.70,278.51 218.20,279.10 218.70,279.15 219.20,279.03 219.70,279.35 220.20,278.88 220.70,279.10 221.20,279.19 221.70,279.36 222.20,279.26 222.70,279.26 223.20,279.53 223.70,280.00 224.20,280.13 224.70,280.04 225.20,279.93 225.70,279.84 226.20,280.41 226.70,280.19 227.20,280.40 227.70,279.99 228.20,280.19 228.70,280.71 229.20,280.75 229.70,280.89 230.20,280.77 230.70,280.72 231.20,280.90 231.70,281.17 232.20,280.86 232.70,281.10 233.20,280.99 233.70,281.41 234.20,280.96 234.70,281.50 235.20,281.77 235.70,281.19 236.20,281.67 236.70,281.78 237.20,282.00 237.70,281.89 238.20,281.73 238.70,281.91 239.20,282.37 239.70,282.41 240.20,281.95 240.70,282.00 241.20,282.07 241.70,282.08 242.20,282.41 242.70,282.24 243.20,282.78 243.70,282.67 244.20,282.34 244.70,282.66 245.20,282.55 245.70,282.71 246.20,282.55 246.70,282.55 247.20,282.60 247.70,282.77 248.20,283.04 248.70,282.97 249.20,282.65 249.70,283.15 250.20,283.30 250.70,283.27 251.20,283.32 251.70,282.81 252.20,283.16 252.70,282.92 253.20,283.45 253.70,283.07 254.20,283.48 254.70,283.20 255.20,283.55 255.70,283.32 256.20,283.16 256.70,283.44 257.20,283.42 257.70,283.88 258.20,283.49 258.70,283.67 259.20,283.74 259.70,284.06 260.20,283.50 260.70,283.89 261.20,283.86 261.70,284.05 262.20,284.25 262.70,283.83 263.20,284.14 263.70,284.06 264.20,284.12 264.70,283.81 265.20,284.37 265.70,284.52 266.20,284.12 266.70,284.13 267.20,284.64 267.70,284.06 268.20,284.07 268.70,284.11 269.20,284.66 269.70,284.66 270.20,284.48 270.70,284.64 271.20,284.25 271.70,284.73 272.20,284.62 272.70,284.71 273.20,284.66 273.70,284.71 274.20,284.62 274.70,284.53 275.20,284.84 275.70,284.75 276.20,285.10 276.70,285.22 277.20,285.19 277.70,285.04" fill="none" stroke="#8a8000" stroke-width="2.3" stroke-linejoin="round" />
<polyline points="197.50,346.27 198.00,343.28 198.50,340.29 199.00,337.94 199.50,334.77 200.00,333.03 200.50,331.65 201.00,329.77 201.50,328.39 202.00,326.30 202.50,325.04 203.00,322.95 203.50,321.53 204.00,320.57 204.50,319.26 205.00,318.25 205.50,316.96 206.00,315.40 206.50,314.75 207.00,313.41 207.50,312.09 208.00,311.32 208.50,311.01 209.00,310.15 209.50,309.67 210.00,308.87 210.50,308.29 211.00,307.35 211.50,306.73 212.00,305.98 212.50,305.07 213.00,304.79 213.50,303.71 214.00,303.29 214.50,302.80 215.00,302.18 215.50,301.44 216.00,301.41 216.50,300.88 217.00,300.16 217.50,299.64 218.00,299.49 218.50,298.76 219.00,298.86 219.50,298.17 220.00,297.74 220.50,297.24 221.00,296.96 221.50,296.67 222.00,295.87 222.50,295.48 223.00,295.17 223.50,294.56 224.00,294.30 224.50,293.84 225.00,293.33 225.50,293.12 226.00,292.71 226.50,292.13 227.00,292.36 227.50,291.67 228.00,291.40 228.50,291.06 229.00,291.07 229.50,290.76 230.00,290.18 230.50,289.80 231.00,289.31 231.50,289.47 232.00,288.72 232.50,288.63 233.00,288.20 233.50,287.87 234.00,287.57 234.50,287.16 235.00,286.75 235.50,286.74 236.00,286.58 236.50,286.30 237.00,285.85 237.50,285.97 238.00,285.40 238.50,285.43 239.00,285.50 239.50,285.37 240.00,284.91 240.50,284.96 241.00,284.56 241.50,284.40 242.00,284.25 242.50,284.31 243.00,283.98 243.50,283.63 244.00,283.60 244.50,283.37 245.00,283.01 245.50,283.08 246.00,282.92 246.50,282.61 247.00,282.65 247.50,281.99 248.00,282.17 248.50,282.15 249.00,281.87 249.50,281.67 250.00,281.88 250.50,281.62 251.00,281.42 251.50,281.18 252.00,281.63 252.50,281.16 253.00,280.91 253.50,280.87 254.00,280.79 254.50,281.06 255.00,280.54 255.50,280.50 256.00,280.28 256.50,280.41 257.00,280.15 257.50,280.12 258.00,280.26 258.50,280.27 259.00,280.11 259.50,279.53 260.00,279.63 260.50,279.81 261.00,279.26 261.50,279.30 262.00,279.42 262.50,279.29 263.00,279.45 263.50,279.37 264.00,279.16 264.50,278.97 265.00,278.90 265.50,278.86 266.00,278.68 266.50,278.98 267.00,278.62 267.50,279.00 268.00,278.79 268.50,278.38 269.00,278.59 269.50,278.59 270.00,278.19 270.50,278.40 271.00,278.07 271.50,278.45 272.00,277.93 272.50,278.25 273.00,278.40 273.50,278.26 274.00,277.83 274.50,277.95 275.00,277.65 275.50,277.72 276.00,277.97 276.50,277.88 277.00,277.34 277.50,277.50 278.00,277.60" fill="none" stroke="#1a8c88" stroke-width="2.2" stroke-linejoin="round" />
<polyline points="196.00,346.21 196.50,345.68 197.00,345.11 197.50,344.16 198.00,343.87 198.50,343.25 199.00,342.76 199.50,342.02 200.00,341.79 200.50,341.65 201.00,341.28 201.50,341.14 202.00,340.66 202.50,340.43 203.00,340.48 203.50,340.08 204.00,339.86 204.50,339.71 205.00,339.27 205.50,338.86 206.00,338.96 206.50,338.60 207.00,338.43 207.50,338.29 208.00,338.35 208.50,337.93 209.00,338.01 209.50,337.69 210.00,337.67 210.50,337.60 211.00,337.31 211.50,337.07 212.00,337.15 212.50,337.15 213.00,336.97 213.50,336.78 214.00,336.76 214.50,336.41 215.00,336.29 215.50,336.24 216.00,336.37 216.50,335.94 217.00,335.78 217.50,335.60 218.00,335.32 218.50,335.19 219.00,335.09 219.50,334.96 220.00,334.47 220.50,334.23 221.00,333.94 221.50,333.70 222.00,333.69 222.50,333.32 223.00,332.93 223.50,332.60 224.00,332.69 224.50,332.40 225.00,332.21 225.50,331.67 226.00,331.57 226.50,331.51 227.00,331.10 227.50,331.02 228.00,330.38 228.50,330.54 229.00,329.83 229.50,329.76 230.00,329.31 230.50,329.45 231.00,329.14 231.50,329.04 232.00,328.78 232.50,328.97 233.00,328.88 233.50,329.23 234.00,329.22 234.50,329.14 235.00,329.58 235.50,329.40 236.00,329.42 236.50,329.48 237.00,329.80 237.50,329.78 238.00,330.27 238.50,330.49 239.00,330.40 239.50,330.62 240.00,331.11 240.50,331.21 241.00,331.67 241.50,332.08 242.00,332.08 242.50,332.44 243.00,332.95 243.50,333.00 244.00,333.23 244.50,333.78 245.00,334.01 245.50,334.33 246.00,334.50 246.50,334.64 247.00,335.06 247.50,335.40 248.00,335.58 248.50,335.66 249.00,336.03 249.50,336.46 250.00,337.02 250.50,337.29 251.00,337.67 251.50,338.19 252.00,338.21 252.50,338.85 253.00,339.08 253.50,339.57 254.00,340.09 254.50,340.18 255.00,340.91 255.50,340.85 256.00,341.47 256.50,341.84 257.00,342.07 257.50,343.18 258.00,344.09 258.50,345.02 259.00,346.11" fill="none" stroke="#8b1010" stroke-width="2.3" stroke-linejoin="round" />
<polyline points="185.00,346.11 185.50,345.91 186.00,345.33 186.50,345.48 187.00,344.83 187.50,344.81 188.00,344.27 188.50,344.34 189.00,343.79 189.50,343.81 190.00,343.56 190.50,343.49 191.00,343.28 191.50,343.45 192.00,343.46 192.50,342.98 193.00,343.13 193.50,343.30 194.00,343.15 194.50,342.95 195.00,342.83 195.50,343.11 196.00,342.63 196.50,342.92 197.00,342.91 197.50,342.52 198.00,342.56 198.50,342.50 199.00,342.57 199.50,342.43 200.00,342.65 200.50,342.62 201.00,342.26 201.50,342.51 202.00,342.04 202.50,342.01 203.00,342.25 203.50,342.27 204.00,342.23 204.50,342.27 205.00,342.15 205.50,341.81 206.00,342.00 206.50,342.04 207.00,341.55 207.50,341.64 208.00,341.36 208.50,341.24 209.00,341.30 209.50,341.29 210.00,341.33 210.50,340.79 211.00,340.87 211.50,341.00 212.00,340.78 212.50,340.55 213.00,340.29 213.50,340.38 214.00,340.08 214.50,340.16 215.00,340.05 215.50,339.81 216.00,339.90 216.50,339.60 217.00,339.52 217.50,339.59 218.00,339.19 218.50,339.04 219.00,339.13 219.50,338.92 220.00,338.89 220.50,338.34 221.00,338.15 221.50,337.75 222.00,337.71 222.50,337.39 223.00,337.22 223.50,337.13 224.00,336.52 224.50,336.76 225.00,336.37 225.50,336.18 226.00,335.80 226.50,335.57 227.00,335.25 227.50,334.99 228.00,334.66 228.50,334.44 229.00,334.18 229.50,333.94 230.00,333.97 230.50,333.66 231.00,333.32 231.50,332.75 232.00,332.61 232.50,332.50 233.00,332.31 233.50,331.92 234.00,331.77 234.50,331.94 235.00,331.66 235.50,331.76 236.00,331.99 236.50,331.81 237.00,332.05 237.50,331.93 238.00,331.78 238.50,332.04 239.00,331.88 239.50,332.28 240.00,332.35 240.50,332.30 241.00,332.71 241.50,332.59 242.00,332.92 242.50,333.01 243.00,333.16 243.50,333.77 244.00,333.61 244.50,334.27 245.00,334.30 245.50,334.59 246.00,334.49 246.50,335.13 247.00,335.30 247.50,335.17 248.00,335.43 248.50,335.63 249.00,336.09 249.50,336.20 250.00,336.88 250.50,337.05 251.00,337.47 251.50,337.57 252.00,338.08 252.50,338.30 253.00,338.72 253.50,338.92 254.00,339.53 254.50,339.78 255.00,340.09 255.50,340.16 256.00,340.41 256.50,340.71 257.00,341.02 257.50,341.64 258.00,341.51 258.50,342.01 259.00,341.90 259.50,342.30 260.00,342.32 260.50,342.56 261.00,342.98 261.50,343.12 262.00,343.50 262.50,343.57 263.00,344.36 263.50,345.02 264.00,345.86" fill="none" stroke="#2020ff" stroke-width="2.3" stroke-linejoin="round" />
<polyline points="220.00,345.94 220.50,345.28 221.00,344.31 221.50,343.06 222.00,342.97 222.50,342.44 223.00,341.73 223.50,341.78 224.00,341.01 224.50,340.63 225.00,340.27 225.50,339.94 226.00,339.30 226.50,339.17 227.00,338.83 227.50,338.25 228.00,337.98 228.50,337.48 229.00,337.16 229.50,336.41 230.00,336.08 230.50,335.72 231.00,335.12 231.50,335.13 232.00,334.55 232.50,333.86 233.00,333.68 233.50,333.18 234.00,332.64 234.50,332.54 235.00,332.61 235.50,332.32 236.00,332.48 236.50,332.37 237.00,332.09 237.50,332.38 238.00,331.87 238.50,331.85 239.00,332.09 239.50,331.70 240.00,331.71 240.50,331.81 241.00,331.93 241.50,332.15 242.00,332.35 242.50,332.53 243.00,332.51 243.50,333.08 244.00,333.00 244.50,333.07 245.00,333.44 245.50,333.84 246.00,333.94 246.50,334.04 247.00,334.24 247.50,334.30 248.00,334.69 248.50,334.75 249.00,334.83 249.50,335.11 250.00,335.34 250.50,335.88 251.00,336.22 251.50,336.41 252.00,336.38 252.50,336.59 253.00,337.24 253.50,337.20 254.00,337.34 254.50,337.79 255.00,338.06 255.50,338.42 256.00,338.78 256.50,339.11 257.00,339.61 257.50,340.00 258.00,340.51 258.50,340.80 259.00,341.16 259.50,341.88 260.00,341.84 260.50,342.96 261.00,343.85 261.50,345.10 262.00,346.10" fill="none" stroke="#ff2020" stroke-width="2.3" stroke-linejoin="round" />
</g>
<rect x="168.30" y="268.90" width="109.50" height="75.10" fill="none" stroke="#333" stroke-width="0.6" />
<line x1="168.30" y1="344.00" x2="168.30" y2="342.40" stroke="#333" stroke-width="0.5" />
<text x="168.30" y="351.00" font-family='"Liberation Sans", sans-serif' font-size="4.85" text-anchor="middle" font-weight="bold" fill="#222" stroke="#222" stroke-width="0.12" >0</text>
<line x1="194.45" y1="344.00" x2="194.45" y2="342.40" stroke="#333" stroke-width="0.5" />
<text x="194.45" y="351.00" font-family='"Liberation Sans", sans-serif' font-size="4.85" text-anchor="middle" font-weight="bold" fill="#222" stroke="#222" stroke-width="0.12" >100</text>
<line x1="220.60" y1="344.00" x2="220.60" y2="342.40" stroke="#333" stroke-width="0.5" />
<text x="220.60" y="351.00" font-family='"Liberation Sans", sans-serif' font-size="4.85" text-anchor="middle" font-weight="bold" fill="#222" stroke="#222" stroke-width="0.12" >200</text>
<line x1="246.75" y1="344.00" x2="246.75" y2="342.40" stroke="#333" stroke-width="0.5" />
<text x="246.75" y="351.00" font-family='"Liberation Sans", sans-serif' font-size="4.85" text-anchor="middle" font-weight="bold" fill="#222" stroke="#222" stroke-width="0.12" >300</text>
<line x1="272.90" y1="344.00" x2="272.90" y2="342.40" stroke="#333" stroke-width="0.5" />
<text x="272.90" y="351.00" font-family='"Liberation Sans", sans-serif' font-size="4.85" text-anchor="middle" font-weight="bold" fill="#222" stroke="#222" stroke-width="0.12" >400</text>
<line x1="181.38" y1="344.00" x2="181.38" y2="343.10" stroke="#333" stroke-width="0.4" />
<line x1="207.53" y1="344.00" x2="207.53" y2="343.10" stroke="#333" stroke-width="0.4" />
<line x1="233.68" y1="344.00" x2="233.68" y2="343.10" stroke="#333" stroke-width="0.4" />
<line x1="259.83" y1="344.00" x2="259.83" y2="343.10" stroke="#333" stroke-width="0.4" />
<line x1="168.30" y1="325.80" x2="169.90" y2="325.80" stroke="#333" stroke-width="0.5" />
<text x="166.50" y="327.90" font-family='"Liberation Sans", sans-serif' font-size="5.2" text-anchor="end" font-weight="bold" fill="#222" stroke="#222" stroke-width="0.12" >10<tspan font-size="3.4" dy="-2.2">2</tspan></text>
<line x1="168.30" y1="343.55" x2="169.20" y2="343.55" stroke="#333" stroke-width="0.35" />
<line x1="168.30" y1="339.08" x2="169.20" y2="339.08" stroke="#333" stroke-width="0.35" />
<line x1="168.30" y1="335.91" x2="169.20" y2="335.91" stroke="#333" stroke-width="0.35" />
<line x1="168.30" y1="333.45" x2="169.20" y2="333.45" stroke="#333" stroke-width="0.35" />
<line x1="168.30" y1="331.43" x2="169.20" y2="331.43" stroke="#333" stroke-width="0.35" />
<line x1="168.30" y1="329.73" x2="169.20" y2="329.73" stroke="#333" stroke-width="0.35" />
<line x1="168.30" y1="328.26" x2="169.20" y2="328.26" stroke="#333" stroke-width="0.35" />
<line x1="168.30" y1="326.96" x2="169.20" y2="326.96" stroke="#333" stroke-width="0.35" />
<line x1="168.30" y1="300.40" x2="169.90" y2="300.40" stroke="#333" stroke-width="0.5" />
<text x="166.50" y="302.50" font-family='"Liberation Sans", sans-serif' font-size="5.2" text-anchor="end" font-weight="bold" fill="#222" stroke="#222" stroke-width="0.12" >10<tspan font-size="3.4" dy="-2.2">3</tspan></text>
<line x1="168.30" y1="318.15" x2="169.20" y2="318.15" stroke="#333" stroke-width="0.35" />
<line x1="168.30" y1="313.68" x2="169.20" y2="313.68" stroke="#333" stroke-width="0.35" />
<line x1="168.30" y1="310.51" x2="169.20" y2="310.51" stroke="#333" stroke-width="0.35" />
<line x1="168.30" y1="308.05" x2="169.20" y2="308.05" stroke="#333" stroke-width="0.35" />
<line x1="168.30" y1="306.03" x2="169.20" y2="306.03" stroke="#333" stroke-width="0.35" />
<line x1="168.30" y1="304.33" x2="169.20" y2="304.33" stroke="#333" stroke-width="0.35" />
<line x1="168.30" y1="302.86" x2="169.20" y2="302.86" stroke="#333" stroke-width="0.35" />
<line x1="168.30" y1="301.56" x2="169.20" y2="301.56" stroke="#333" stroke-width="0.35" />
<line x1="168.30" y1="275.00" x2="169.90" y2="275.00" stroke="#333" stroke-width="0.5" />
<text x="166.50" y="277.10" font-family='"Liberation Sans", sans-serif' font-size="5.2" text-anchor="end" font-weight="bold" fill="#222" stroke="#222" stroke-width="0.12" >10<tspan font-size="3.4" dy="-2.2">4</tspan></text>
<line x1="168.30" y1="292.75" x2="169.20" y2="292.75" stroke="#333" stroke-width="0.35" />
<line x1="168.30" y1="288.28" x2="169.20" y2="288.28" stroke="#333" stroke-width="0.35" />
<line x1="168.30" y1="285.11" x2="169.20" y2="285.11" stroke="#333" stroke-width="0.35" />
<line x1="168.30" y1="282.65" x2="169.20" y2="282.65" stroke="#333" stroke-width="0.35" />
<line x1="168.30" y1="280.63" x2="169.20" y2="280.63" stroke="#333" stroke-width="0.35" />
<line x1="168.30" y1="278.93" x2="169.20" y2="278.93" stroke="#333" stroke-width="0.35" />
<line x1="168.30" y1="277.46" x2="169.20" y2="277.46" stroke="#333" stroke-width="0.35" />
<line x1="168.30" y1="276.16" x2="169.20" y2="276.16" stroke="#333" stroke-width="0.35" />
<text x="217.40" y="273.60" font-family='"Liberation Sans", sans-serif' font-size="4.6" text-anchor="middle" font-weight="normal" fill="#111" stroke="#111" stroke-width="0.12" >FAMAPbI<tspan font-size="2.8" dy="1">3</tspan><tspan dy="-1">/TMSBr</tspan></text>
<text x="242.60" y="273.60" font-family='"Liberation Sans", sans-serif' font-size="4.6" text-anchor="middle" font-weight="normal" fill="#111" stroke="#111" stroke-width="0.12" >NiO<tspan font-size="2.8" dy="1">x</tspan></text>
<text x="264.00" y="273.60" font-family='"Liberation Sans", sans-serif' font-size="4.6" text-anchor="middle" font-weight="normal" fill="#111" stroke="#111" stroke-width="0.12" >FTO</text>
<line x1="169.90" y1="282.40" x2="180.30" y2="282.40" stroke="#ff2020" stroke-width="0.8" />
<circle cx="175.10" cy="282.40" r="1.10" fill="#ff2020" stroke="none" stroke-width="0.5" />
<text x="182.10" y="284.20" font-family='"Liberation Sans", sans-serif' font-size="4.9" text-anchor="start" font-weight="normal" fill="#222" stroke="#222" stroke-width="0.12" >Nickel</text>
<line x1="197.30" y1="282.40" x2="207.70" y2="282.40" stroke="#2020ff" stroke-width="0.8" />
<polygon points="202.50,281.10 203.80,283.40 201.20,283.40" fill="#2020ff" stroke="none" stroke-width="0.5" />
<text x="209.50" y="284.20" font-family='"Liberation Sans", sans-serif' font-size="4.9" text-anchor="start" font-weight="normal" fill="#222" stroke="#222" stroke-width="0.12" >Bromine</text>
<line x1="169.90" y1="288.30" x2="180.30" y2="288.30" stroke="#20a090" stroke-width="0.8" />
<circle cx="175.10" cy="288.30" r="1.10" fill="#20a090" stroke="none" stroke-width="0.5" />
<text x="182.10" y="290.10" font-family='"Liberation Sans", sans-serif' font-size="4.9" text-anchor="start" font-weight="normal" fill="#222" stroke="#222" stroke-width="0.12" >Tin</text>
<line x1="197.30" y1="288.30" x2="207.70" y2="288.30" stroke="#8a9020" stroke-width="0.8" />
<polygon points="202.50,287.00 203.80,289.30 201.20,289.30" fill="#8a9020" stroke="none" stroke-width="0.5" />
<text x="209.50" y="290.10" font-family='"Liberation Sans", sans-serif' font-size="4.9" text-anchor="start" font-weight="normal" fill="#222" stroke="#222" stroke-width="0.12" >Lead</text>
<line x1="169.90" y1="294.60" x2="180.30" y2="294.60" stroke="#ff20ff" stroke-width="0.8" />
<circle cx="175.10" cy="294.60" r="1.10" fill="#ff20ff" stroke="none" stroke-width="0.5" />
<text x="182.10" y="296.40" font-family='"Liberation Sans", sans-serif' font-size="4.9" text-anchor="start" font-weight="normal" fill="#222" stroke="#222" stroke-width="0.12" >Iodine</text>
<line x1="197.30" y1="294.60" x2="207.70" y2="294.60" stroke="#8b1010" stroke-width="0.8" />
<circle cx="202.50" cy="294.60" r="1.10" fill="#8b1010" stroke="none" stroke-width="0.5" />
<text x="209.50" y="296.40" font-family='"Liberation Sans", sans-serif' font-size="4.9" text-anchor="start" font-weight="normal" fill="#222" stroke="#222" stroke-width="0.12" >Sulfur</text>
<text x="223.75" y="357.70" font-family='"Liberation Sans", sans-serif' font-size="5.05" text-anchor="middle" font-weight="bold" fill="#222" stroke="#222" stroke-width="0.12" >Etching Time (s)</text>
<text x="0.00" y="0.00" font-family='"Liberation Sans", sans-serif' font-size="5.1" text-anchor="middle" font-weight="bold" fill="#222" stroke="#222" stroke-width="0.12" transform="translate(155.9,307.6) rotate(-90)">Intensity (count)</text>
<text x="0.00" y="0.00" font-family='"Liberation Sans", sans-serif' font-size="15" text-anchor="start" font-weight="bold" fill="#231f20" stroke="#231f20" stroke-width="0.12" transform="translate(282.9,275.0) scale(0.88,1)">j</text>
<clipPath id="jclip"><rect x="302.6" y="268.6" width="102.8" height="79.8"/></clipPath>
<g clip-path="url(#jclip)">
<polyline points="302.60,272.70 307.33,272.70 313.80,272.70 321.57,272.70 330.24,272.69 339.36,272.69 348.52,272.70 357.29,272.71 365.24,272.73 371.95,272.76 377.00,272.80 380.44,272.85 382.76,272.91 384.15,272.97 384.81,273.04 384.91,273.13 384.67,273.22 384.26,273.32 383.88,273.43 383.73,273.56 384.00,273.70 384.51,273.84 384.96,273.96 385.37,274.08 385.75,274.20 386.09,274.35 386.43,274.53 386.75,274.75 387.08,275.03 387.43,275.37 387.80,275.80 388.19,276.30 388.58,276.84 388.98,277.44 389.38,278.09 389.78,278.79 390.17,279.55 390.56,280.36 390.95,281.22 391.33,282.13 391.70,283.10 392.07,284.14 392.43,285.26 392.79,286.46 393.15,287.71 393.50,289.00 393.84,290.33 394.18,291.67 394.50,293.02 394.81,294.37 395.10,295.70 395.37,297.00 395.62,298.30 395.86,299.58 396.08,300.88 396.29,302.19 396.50,303.54 396.71,304.92 396.93,306.35 397.15,307.84 397.40,309.40 397.66,311.04 397.94,312.77 398.22,314.55 398.51,316.39 398.80,318.26 399.09,320.16 399.38,322.07 399.66,323.97 399.94,325.85 400.20,327.70 400.46,329.59 400.72,331.59 400.99,333.64 401.25,335.71 401.50,337.74 401.74,339.71 401.97,341.56 402.17,343.26 402.35,344.75 402.50,346.00 402.62,347.00 402.71,347.78 402.77,348.38 402.82,348.82 402.84,349.14 402.86,349.37 402.87,349.54 402.88,349.68 402.88,349.83 402.90,350.00" fill="none" stroke="#60d0d0" stroke-width="1.8" stroke-linejoin="round" />
<circle cx="302.90" cy="272.70" r="0.70" fill="#3cbcbc" stroke="none" stroke-width="0.5" />
<circle cx="304.50" cy="272.70" r="0.70" fill="#3cbcbc" stroke="none" stroke-width="0.5" />
<circle cx="306.10" cy="272.70" r="0.70" fill="#3cbcbc" stroke="none" stroke-width="0.5" />
<circle cx="307.70" cy="272.70" r="0.70" fill="#3cbcbc" stroke="none" stroke-width="0.5" />
<circle cx="309.30" cy="272.70" r="0.70" fill="#3cbcbc" stroke="none" stroke-width="0.5" />
<circle cx="310.90" cy="272.70" r="0.70" fill="#3cbcbc" stroke="none" stroke-width="0.5" />
<circle cx="312.50" cy="272.70" r="0.70" fill="#3cbcbc" stroke="none" stroke-width="0.5" />
<circle cx="314.10" cy="272.70" r="0.70" fill="#3cbcbc" stroke="none" stroke-width="0.5" />
<circle cx="315.70" cy="272.70" r="0.70" fill="#3cbcbc" stroke="none" stroke-width="0.5" />
<circle cx="317.30" cy="272.70" r="0.70" fill="#3cbcbc" stroke="none" stroke-width="0.5" />
<circle cx="318.90" cy="272.70" r="0.70" fill="#3cbcbc" stroke="none" stroke-width="0.5" />
<circle cx="320.50" cy="272.70" r="0.70" fill="#3cbcbc" stroke="none" stroke-width="0.5" />
<circle cx="322.10" cy="272.70" r="0.70" fill="#3cbcbc" stroke="none" stroke-width="0.5" />
<circle cx="323.70" cy="272.70" r="0.70" fill="#3cbcbc" stroke="none" stroke-width="0.5" />
<circle cx="325.30" cy="272.70" r="0.70" fill="#3cbcbc" stroke="none" stroke-width="0.5" />
<circle cx="326.90" cy="272.70" r="0.70" fill="#3cbcbc" stroke="none" stroke-width="0.5" />
<circle cx="328.50" cy="272.70" r="0.70" fill="#3cbcbc" stroke="none" stroke-width="0.5" />
<circle cx="330.10" cy="272.69" r="0.70" fill="#3cbcbc" stroke="none" stroke-width="0.5" />
<circle cx="331.70" cy="272.69" r="0.70" fill="#3cbcbc" stroke="none" stroke-width="0.5" />
<circle cx="333.30" cy="272.69" r="0.70" fill="#3cbcbc" stroke="none" stroke-width="0.5" />
<circle cx="334.90" cy="272.69" r="0.70" fill="#3cbcbc" stroke="none" stroke-width="0.5" />
<circle cx="336.50" cy="272.69" r="0.70" fill="#3cbcbc" stroke="none" stroke-width="0.5" />
<circle cx="338.10" cy="272.69" r="0.70" fill="#3cbcbc" stroke="none" stroke-width="0.5" />
<circle cx="339.70" cy="272.69" r="0.70" fill="#3cbcbc" stroke="none" stroke-width="0.5" />
<circle cx="341.30" cy="272.69" r="0.70" fill="#3cbcbc" stroke="none" stroke-width="0.5" />
<circle cx="342.90" cy="272.70" r="0.70" fill="#3cbcbc" stroke="none" stroke-width="0.5" />
<circle cx="344.50" cy="272.70" r="0.70" fill="#3cbcbc" stroke="none" stroke-width="0.5" />
<circle cx="346.10" cy="272.70" r="0.70" fill="#3cbcbc" stroke="none" stroke-width="0.5" />
<circle cx="347.70" cy="272.70" r="0.70" fill="#3cbcbc" stroke="none" stroke-width="0.5" />
<circle cx="349.30" cy="272.70" r="0.70" fill="#3cbcbc" stroke="none" stroke-width="0.5" />
<circle cx="350.90" cy="272.70" r="0.70" fill="#3cbcbc" stroke="none" stroke-width="0.5" />
<circle cx="352.50" cy="272.70" r="0.70" fill="#3cbcbc" stroke="none" stroke-width="0.5" />
<circle cx="354.10" cy="272.70" r="0.70" fill="#3cbcbc" stroke="none" stroke-width="0.5" />
<circle cx="355.70" cy="272.71" r="0.70" fill="#3cbcbc" stroke="none" stroke-width="0.5" />
<circle cx="357.30" cy="272.71" r="0.70" fill="#3cbcbc" stroke="none" stroke-width="0.5" />
<circle cx="358.90" cy="272.71" r="0.70" fill="#3cbcbc" stroke="none" stroke-width="0.5" />
<circle cx="360.50" cy="272.72" r="0.70" fill="#3cbcbc" stroke="none" stroke-width="0.5" />
<circle cx="362.10" cy="272.72" r="0.70" fill="#3cbcbc" stroke="none" stroke-width="0.5" />
<circle cx="363.70" cy="272.72" r="0.70" fill="#3cbcbc" stroke="none" stroke-width="0.5" />
<circle cx="365.30" cy="272.73" r="0.70" fill="#3cbcbc" stroke="none" stroke-width="0.5" />
<circle cx="366.90" cy="272.73" r="0.70" fill="#3cbcbc" stroke="none" stroke-width="0.5" />
<circle cx="368.50" cy="272.74" r="0.70" fill="#3cbcbc" stroke="none" stroke-width="0.5" />
<circle cx="370.10" cy="272.75" r="0.70" fill="#3cbcbc" stroke="none" stroke-width="0.5" />
<circle cx="371.70" cy="272.76" r="0.70" fill="#3cbcbc" stroke="none" stroke-width="0.5" />
<circle cx="373.30" cy="272.77" r="0.70" fill="#3cbcbc" stroke="none" stroke-width="0.5" />
<circle cx="374.90" cy="272.78" r="0.70" fill="#3cbcbc" stroke="none" stroke-width="0.5" />
<circle cx="376.50" cy="272.80" r="0.70" fill="#3cbcbc" stroke="none" stroke-width="0.5" />
<circle cx="378.10" cy="272.82" r="0.70" fill="#3cbcbc" stroke="none" stroke-width="0.5" />
<circle cx="379.70" cy="272.84" r="0.70" fill="#3cbcbc" stroke="none" stroke-width="0.5" />
<circle cx="381.30" cy="272.87" r="0.70" fill="#3cbcbc" stroke="none" stroke-width="0.5" />
<circle cx="382.90" cy="272.92" r="0.70" fill="#3cbcbc" stroke="none" stroke-width="0.5" />
<circle cx="384.50" cy="273.01" r="0.70" fill="#3cbcbc" stroke="none" stroke-width="0.5" />
<circle cx="386.10" cy="274.35" r="0.70" fill="#3cbcbc" stroke="none" stroke-width="0.5" />
<circle cx="387.70" cy="275.68" r="0.70" fill="#3cbcbc" stroke="none" stroke-width="0.5" />
<circle cx="389.30" cy="277.97" r="0.70" fill="#3cbcbc" stroke="none" stroke-width="0.5" />
<circle cx="390.90" cy="281.11" r="0.70" fill="#3cbcbc" stroke="none" stroke-width="0.5" />
<circle cx="392.50" cy="285.50" r="0.70" fill="#3cbcbc" stroke="none" stroke-width="0.5" />
<circle cx="394.10" cy="291.36" r="0.70" fill="#3cbcbc" stroke="none" stroke-width="0.5" />
<circle cx="395.70" cy="298.73" r="0.70" fill="#3cbcbc" stroke="none" stroke-width="0.5" />
<circle cx="397.30" cy="308.76" r="0.70" fill="#3cbcbc" stroke="none" stroke-width="0.5" />
<circle cx="398.90" cy="318.91" r="0.70" fill="#3cbcbc" stroke="none" stroke-width="0.5" />
<circle cx="400.50" cy="329.91" r="0.70" fill="#3cbcbc" stroke="none" stroke-width="0.5" />
<circle cx="402.10" cy="342.68" r="0.70" fill="#3cbcbc" stroke="none" stroke-width="0.5" />
<polyline points="302.60,273.20 307.27,273.20 313.64,273.20 321.32,273.20 329.86,273.19 338.86,273.19 347.90,273.20 356.55,273.21 364.40,273.23 371.02,273.26 376.00,273.30 379.40,273.35 381.70,273.41 383.07,273.47 383.72,273.54 383.83,273.63 383.60,273.72 383.20,273.82 382.85,273.93 382.72,274.06 383.00,274.20 383.53,274.34 384.02,274.47 384.46,274.59 384.88,274.73 385.27,274.88 385.64,275.06 386.01,275.29 386.36,275.56 386.73,275.89 387.10,276.30 387.47,276.76 387.84,277.27 388.20,277.81 388.55,278.40 388.89,279.04 389.24,279.74 389.58,280.49 389.92,281.29 390.26,282.16 390.60,283.10 390.95,284.12 391.30,285.23 391.66,286.42 392.02,287.67 392.38,288.97 392.72,290.30 393.06,291.66 393.39,293.02 393.71,294.37 394.00,295.70 394.27,297.00 394.52,298.30 394.75,299.58 394.97,300.88 395.18,302.19 395.38,303.54 395.59,304.92 395.81,306.35 396.05,307.84 396.30,309.40 396.58,311.04 396.87,312.77 397.17,314.55 397.49,316.39 397.81,318.26 398.12,320.16 398.44,322.07 398.74,323.97 399.03,325.85 399.30,327.70 399.56,329.59 399.82,331.59 400.08,333.64 400.32,335.71 400.56,337.74 400.79,339.71 401.00,341.56 401.19,343.26 401.36,344.75 401.50,346.00 401.61,347.00 401.70,347.78 401.76,348.38 401.81,348.82 401.84,349.14 401.86,349.37 401.87,349.54 401.87,349.68 401.88,349.83 401.90,350.00" fill="none" stroke="#3a3af0" stroke-width="0.9" stroke-linejoin="round" />
<polyline points="302.60,274.30 307.01,274.31 313.04,274.32 320.30,274.33 328.38,274.34 336.89,274.35 345.44,274.37 353.62,274.39 361.04,274.42 367.30,274.45 372.00,274.50 375.21,274.55 377.36,274.61 378.65,274.67 379.24,274.74 379.33,274.82 379.09,274.90 378.71,274.99 378.36,275.09 378.23,275.19 378.50,275.30 379.01,275.40 379.48,275.48 379.93,275.55 380.35,275.62 380.74,275.71 381.13,275.82 381.50,275.98 381.86,276.18 382.23,276.45 382.60,276.80 382.97,277.22 383.33,277.69 383.68,278.21 384.03,278.78 384.37,279.40 384.70,280.06 385.03,280.76 385.36,281.51 385.68,282.29 386.00,283.10 386.32,283.95 386.63,284.85 386.94,285.79 387.24,286.77 387.54,287.79 387.84,288.84 388.13,289.93 388.43,291.06 388.71,292.21 389.00,293.40 389.28,294.61 389.55,295.85 389.81,297.12 390.07,298.41 390.32,299.75 390.58,301.13 390.85,302.54 391.12,304.01 391.40,305.53 391.70,307.10 392.01,308.74 392.34,310.45 392.69,312.21 393.04,314.03 393.39,315.89 393.75,317.77 394.10,319.68 394.45,321.59 394.78,323.50 395.10,325.40 395.41,327.37 395.73,329.45 396.05,331.62 396.37,333.80 396.68,335.97 396.97,338.08 397.24,340.07 397.49,341.90 397.71,343.53 397.90,344.90 398.05,346.02 398.17,346.92 398.26,347.65 398.33,348.22 398.37,348.67 398.41,349.02 398.43,349.30 398.45,349.54 398.47,349.76 398.50,350.00" fill="none" stroke="#ff5050" stroke-width="0.9" stroke-linejoin="round" />
<polyline points="302.60,274.60 306.89,274.61 312.75,274.62 319.80,274.63 327.65,274.64 335.93,274.65 344.23,274.67 352.17,274.69 359.37,274.72 365.44,274.75 370.00,274.80 373.09,274.85 375.16,274.91 376.37,274.96 376.90,275.03 376.94,275.10 376.67,275.18 376.26,275.27 375.89,275.37 375.75,275.48 376.00,275.60 376.50,275.72 376.98,275.81 377.44,275.91 377.89,276.00 378.31,276.12 378.73,276.26 379.13,276.45 379.52,276.70 379.91,277.01 380.30,277.40 380.68,277.87 381.05,278.42 381.41,279.03 381.75,279.69 382.09,280.39 382.43,281.14 382.75,281.91 383.07,282.70 383.39,283.50 383.70,284.30 384.00,285.10 384.30,285.91 384.58,286.72 384.86,287.56 385.13,288.43 385.40,289.32 385.67,290.26 385.94,291.25 386.22,292.29 386.50,293.40 386.78,294.56 387.06,295.77 387.34,297.03 387.62,298.33 387.91,299.67 388.19,301.07 388.48,302.51 388.78,303.99 389.09,305.52 389.40,307.10 389.73,308.74 390.06,310.47 390.41,312.25 390.76,314.09 391.12,315.96 391.48,317.86 391.84,319.77 392.20,321.67 392.55,323.55 392.90,325.40 393.25,327.28 393.62,329.25 394.00,331.27 394.38,333.30 394.75,335.30 395.11,337.24 395.45,339.09 395.77,340.81 396.05,342.36 396.30,343.70 396.51,344.84 396.68,345.83 396.83,346.67 396.96,347.39 397.06,347.99 397.15,348.51 397.22,348.95 397.29,349.34 397.34,349.68 397.40,350.00" fill="none" stroke="#333" stroke-width="0.7" stroke-linejoin="round" />
</g>
<rect x="302.60" y="268.60" width="102.80" height="79.80" fill="none" stroke="#555" stroke-width="0.6" />
<line x1="302.60" y1="348.40" x2="304.10" y2="348.40" stroke="#555" stroke-width="0.5" />
<text x="300.40" y="351.20" font-family='"Liberation Sans", sans-serif' font-size="5.0" text-anchor="end" font-weight="bold" fill="#222" stroke="#222" stroke-width="0.12" >0</text>
<line x1="302.60" y1="329.95" x2="304.10" y2="329.95" stroke="#555" stroke-width="0.5" />
<text x="300.40" y="332.75" font-family='"Liberation Sans", sans-serif' font-size="5.0" text-anchor="end" font-weight="bold" fill="#222" stroke="#222" stroke-width="0.12" >5</text>
<line x1="302.60" y1="311.50" x2="304.10" y2="311.50" stroke="#555" stroke-width="0.5" />
<text x="300.40" y="314.30" font-family='"Liberation Sans", sans-serif' font-size="5.0" text-anchor="end" font-weight="bold" fill="#222" stroke="#222" stroke-width="0.12" >10</text>
<line x1="302.60" y1="293.05" x2="304.10" y2="293.05" stroke="#555" stroke-width="0.5" />
<text x="300.40" y="295.85" font-family='"Liberation Sans", sans-serif' font-size="5.0" text-anchor="end" font-weight="bold" fill="#222" stroke="#222" stroke-width="0.12" >15</text>
<line x1="302.60" y1="274.60" x2="304.10" y2="274.60" stroke="#555" stroke-width="0.5" />
<text x="300.40" y="277.40" font-family='"Liberation Sans", sans-serif' font-size="5.0" text-anchor="end" font-weight="bold" fill="#222" stroke="#222" stroke-width="0.12" >20</text>
<line x1="302.60" y1="348.40" x2="302.60" y2="346.90" stroke="#555" stroke-width="0.5" />
<text x="302.60" y="355.00" font-family='"Liberation Sans", sans-serif' font-size="5.0" text-anchor="middle" font-weight="bold" fill="#222" stroke="#222" stroke-width="0.12" >0.0</text>
<line x1="319.04" y1="348.40" x2="319.04" y2="346.90" stroke="#555" stroke-width="0.5" />
<text x="319.04" y="355.00" font-family='"Liberation Sans", sans-serif' font-size="5.0" text-anchor="middle" font-weight="bold" fill="#222" stroke="#222" stroke-width="0.12" >0.2</text>
<line x1="335.48" y1="348.40" x2="335.48" y2="346.90" stroke="#555" stroke-width="0.5" />
<text x="335.48" y="355.00" font-family='"Liberation Sans", sans-serif' font-size="5.0" text-anchor="middle" font-weight="bold" fill="#222" stroke="#222" stroke-width="0.12" >0.4</text>
<line x1="351.92" y1="348.40" x2="351.92" y2="346.90" stroke="#555" stroke-width="0.5" />
<text x="351.92" y="355.00" font-family='"Liberation Sans", sans-serif' font-size="5.0" text-anchor="middle" font-weight="bold" fill="#222" stroke="#222" stroke-width="0.12" >0.6</text>
<line x1="368.36" y1="348.40" x2="368.36" y2="346.90" stroke="#555" stroke-width="0.5" />
<text x="368.36" y="355.00" font-family='"Liberation Sans", sans-serif' font-size="5.0" text-anchor="middle" font-weight="bold" fill="#222" stroke="#222" stroke-width="0.12" >0.8</text>
<line x1="384.80" y1="348.40" x2="384.80" y2="346.90" stroke="#555" stroke-width="0.5" />
<text x="384.80" y="355.00" font-family='"Liberation Sans", sans-serif' font-size="5.0" text-anchor="middle" font-weight="bold" fill="#222" stroke="#222" stroke-width="0.12" >1.0</text>
<line x1="401.24" y1="348.40" x2="401.24" y2="346.90" stroke="#555" stroke-width="0.5" />
<text x="401.24" y="355.00" font-family='"Liberation Sans", sans-serif' font-size="5.0" text-anchor="middle" font-weight="bold" fill="#222" stroke="#222" stroke-width="0.12" >1.2</text>
<text x="355.80" y="361.90" font-family='"Liberation Sans", sans-serif' font-size="4.7" text-anchor="middle" font-weight="bold" fill="#222" stroke="#222" stroke-width="0.12" >Voltage (V)</text>
<text x="0.00" y="0.00" font-family='"Liberation Sans", sans-serif' font-size="4.62" text-anchor="middle" font-weight="bold" fill="#222" stroke="#222" stroke-width="0.12" transform="translate(294.6,312.2) rotate(-90)">Current Density (mA cm<tspan font-size="3.4" dy="-1.8">-2</tspan><tspan dy="1.8">)</tspan></text>
<text x="345.30" y="295.90" font-family='"Liberation Sans", sans-serif' font-size="4.6" text-anchor="middle" font-weight="normal" fill="#222" stroke="#222" stroke-width="0.12" >1.66 eV Perovskite</text>
<line x1="306.60" y1="317.60" x2="316.60" y2="317.60" stroke="#333" stroke-width="0.9" />
<text x="317.80" y="319.40" font-family='"Liberation Sans", sans-serif' font-size="4.65" text-anchor="start" font-weight="normal" fill="#222" stroke="#222" stroke-width="0.12" >FAMAPb(I<tspan font-size="2.9" dy="1">0.6</tspan><tspan dy="-1">Br</tspan><tspan font-size="2.9" dy="1">0.4</tspan><tspan dy="-1">)</tspan><tspan font-size="2.9" dy="1">3</tspan><tspan dy="-1"> (Forward)</tspan></text>
<line x1="306.60" y1="324.90" x2="316.60" y2="324.90" stroke="#ff5050" stroke-width="0.9" />
<text x="317.80" y="326.70" font-family='"Liberation Sans", sans-serif' font-size="4.65" text-anchor="start" font-weight="normal" fill="#222" stroke="#222" stroke-width="0.12" >FAMAPb(I<tspan font-size="2.9" dy="1">0.6</tspan><tspan dy="-1">Br</tspan><tspan font-size="2.9" dy="1">0.4</tspan><tspan dy="-1">)</tspan><tspan font-size="2.9" dy="1">3</tspan><tspan dy="-1"> (Reverse)</tspan></text>
<line x1="306.60" y1="332.20" x2="316.60" y2="332.20" stroke="#3a3af0" stroke-width="0.9" />
<text x="317.80" y="334.00" font-family='"Liberation Sans", sans-serif' font-size="4.65" text-anchor="start" font-weight="normal" fill="#222" stroke="#222" stroke-width="0.12" >FAMAPb(I<tspan font-size="2.9" dy="1">0.6</tspan><tspan dy="-1">Br</tspan><tspan font-size="2.9" dy="1">0.4</tspan><tspan dy="-1">)</tspan><tspan font-size="2.9" dy="1">3</tspan><tspan dy="-1">-TMSBr (Forward)</tspan></text>
<line x1="306.60" y1="339.40" x2="316.60" y2="339.40" stroke="#60d0d0" stroke-width="1.6" />
<text x="317.80" y="341.20" font-family='"Liberation Sans", sans-serif' font-size="4.65" text-anchor="start" font-weight="normal" fill="#222" stroke="#222" stroke-width="0.12" >FAMAPb(I<tspan font-size="2.9" dy="1">0.6</tspan><tspan dy="-1">Br</tspan><tspan font-size="2.9" dy="1">0.4</tspan><tspan dy="-1">)</tspan><tspan font-size="2.9" dy="1">3</tspan><tspan dy="-1">-TMSBr (Reverse)</tspan></text>
<text x="0.00" y="0.00" font-family='"Liberation Sans", sans-serif' font-size="15" text-anchor="start" font-weight="bold" fill="#231f20" stroke="#231f20" stroke-width="0.12" transform="translate(414.3,275.9) scale(0.88,1)">k</text>
<line x1="438.30" y1="291.00" x2="546.00" y2="291.00" stroke="#777" stroke-width="0.7" stroke-dasharray="1.4,1.4"/>
<line x1="438.30" y1="299.80" x2="546.00" y2="299.80" stroke="#777" stroke-width="0.7" stroke-dasharray="1.4,1.4"/>
<polyline points="439.50,273.40 443.69,274.44 447.88,275.48 452.07,276.46 456.26,277.43 460.45,278.33 464.64,279.21 468.83,280.09 473.02,280.94 477.21,281.76 481.40,282.58 485.59,283.21 489.78,283.54 493.97,283.87 498.16,284.23 502.35,284.71 506.54,285.19 510.73,285.67 514.92,286.26 519.11,286.87 523.30,287.47 527.49,288.12 531.68,288.79 535.87,289.45 540.06,290.12" fill="none" stroke="#e83a3a" stroke-width="0.9" stroke-linejoin="round" />
<circle cx="439.50" cy="273.40" r="1.35" fill="#e83a3a" stroke="none" stroke-width="0.5" />
<circle cx="443.69" cy="274.44" r="1.35" fill="#e83a3a" stroke="none" stroke-width="0.5" />
<circle cx="447.88" cy="275.48" r="1.35" fill="#e83a3a" stroke="none" stroke-width="0.5" />
<circle cx="452.07" cy="276.46" r="1.35" fill="#e83a3a" stroke="none" stroke-width="0.5" />
<circle cx="456.26" cy="277.43" r="1.35" fill="#e83a3a" stroke="none" stroke-width="0.5" />
<circle cx="460.45" cy="278.33" r="1.35" fill="#e83a3a" stroke="none" stroke-width="0.5" />
<circle cx="464.64" cy="279.21" r="1.35" fill="#e83a3a" stroke="none" stroke-width="0.5" />
<circle cx="468.83" cy="280.09" r="1.35" fill="#e83a3a" stroke="none" stroke-width="0.5" />
<circle cx="473.02" cy="280.94" r="1.35" fill="#e83a3a" stroke="none" stroke-width="0.5" />
<circle cx="477.21" cy="281.76" r="1.35" fill="#e83a3a" stroke="none" stroke-width="0.5" />
<circle cx="481.40" cy="282.58" r="1.35" fill="#e83a3a" stroke="none" stroke-width="0.5" />
<circle cx="485.59" cy="283.21" r="1.35" fill="#e83a3a" stroke="none" stroke-width="0.5" />
<circle cx="489.78" cy="283.54" r="1.35" fill="#e83a3a" stroke="none" stroke-width="0.5" />
<circle cx="493.97" cy="283.87" r="1.35" fill="#e83a3a" stroke="none" stroke-width="0.5" />
<circle cx="498.16" cy="284.23" r="1.35" fill="#e83a3a" stroke="none" stroke-width="0.5" />
<circle cx="502.35" cy="284.71" r="1.35" fill="#e83a3a" stroke="none" stroke-width="0.5" />
<circle cx="506.54" cy="285.19" r="1.35" fill="#e83a3a" stroke="none" stroke-width="0.5" />
<circle cx="510.73" cy="285.67" r="1.35" fill="#e83a3a" stroke="none" stroke-width="0.5" />
<circle cx="514.92" cy="286.26" r="1.35" fill="#e83a3a" stroke="none" stroke-width="0.5" />
<circle cx="519.11" cy="286.87" r="1.35" fill="#e83a3a" stroke="none" stroke-width="0.5" />
<circle cx="523.30" cy="287.47" r="1.35" fill="#e83a3a" stroke="none" stroke-width="0.5" />
<circle cx="527.49" cy="288.12" r="1.35" fill="#e83a3a" stroke="none" stroke-width="0.5" />
<circle cx="531.68" cy="288.79" r="1.35" fill="#e83a3a" stroke="none" stroke-width="0.5" />
<circle cx="535.87" cy="289.45" r="1.35" fill="#e83a3a" stroke="none" stroke-width="0.5" />
<circle cx="540.06" cy="290.12" r="1.35" fill="#e83a3a" stroke="none" stroke-width="0.5" />
<polyline points="439.50,273.40 443.69,275.86 447.88,278.33 452.07,278.89 456.26,279.45 460.45,280.04 464.64,280.65 468.83,281.25 473.02,282.16 477.21,283.26 481.40,284.36 485.59,285.46 489.78,286.56 493.97,287.66 498.16,288.71 502.35,289.56 506.54,290.41 510.73,291.27 514.92,292.24 519.11,293.23 523.30,294.22 527.49,295.51 531.68,296.91 535.87,298.71 540.06,300.68" fill="none" stroke="#1e96d8" stroke-width="0.9" stroke-linejoin="round" />
<circle cx="439.50" cy="273.40" r="1.35" fill="#1e96d8" stroke="none" stroke-width="0.5" />
<circle cx="443.69" cy="275.86" r="1.35" fill="#1e96d8" stroke="none" stroke-width="0.5" />
<circle cx="447.88" cy="278.33" r="1.35" fill="#1e96d8" stroke="none" stroke-width="0.5" />
<circle cx="452.07" cy="278.89" r="1.35" fill="#1e96d8" stroke="none" stroke-width="0.5" />
<circle cx="456.26" cy="279.45" r="1.35" fill="#1e96d8" stroke="none" stroke-width="0.5" />
<circle cx="460.45" cy="280.04" r="1.35" fill="#1e96d8" stroke="none" stroke-width="0.5" />
<circle cx="464.64" cy="280.65" r="1.35" fill="#1e96d8" stroke="none" stroke-width="0.5" />
<circle cx="468.83" cy="281.25" r="1.35" fill="#1e96d8" stroke="none" stroke-width="0.5" />
<circle cx="473.02" cy="282.16" r="1.35" fill="#1e96d8" stroke="none" stroke-width="0.5" />
<circle cx="477.21" cy="283.26" r="1.35" fill="#1e96d8" stroke="none" stroke-width="0.5" />
<circle cx="481.40" cy="284.36" r="1.35" fill="#1e96d8" stroke="none" stroke-width="0.5" />
<circle cx="485.59" cy="285.46" r="1.35" fill="#1e96d8" stroke="none" stroke-width="0.5" />
<circle cx="489.78" cy="286.56" r="1.35" fill="#1e96d8" stroke="none" stroke-width="0.5" />
<circle cx="493.97" cy="287.66" r="1.35" fill="#1e96d8" stroke="none" stroke-width="0.5" />
<circle cx="498.16" cy="288.71" r="1.35" fill="#1e96d8" stroke="none" stroke-width="0.5" />
<circle cx="502.35" cy="289.56" r="1.35" fill="#1e96d8" stroke="none" stroke-width="0.5" />
<circle cx="506.54" cy="290.41" r="1.35" fill="#1e96d8" stroke="none" stroke-width="0.5" />
<circle cx="510.73" cy="291.27" r="1.35" fill="#1e96d8" stroke="none" stroke-width="0.5" />
<circle cx="514.92" cy="292.24" r="1.35" fill="#1e96d8" stroke="none" stroke-width="0.5" />
<circle cx="519.11" cy="293.23" r="1.35" fill="#1e96d8" stroke="none" stroke-width="0.5" />
<circle cx="523.30" cy="294.22" r="1.35" fill="#1e96d8" stroke="none" stroke-width="0.5" />
<circle cx="527.49" cy="295.51" r="1.35" fill="#1e96d8" stroke="none" stroke-width="0.5" />
<circle cx="531.68" cy="296.91" r="1.35" fill="#1e96d8" stroke="none" stroke-width="0.5" />
<circle cx="535.87" cy="298.71" r="1.35" fill="#1e96d8" stroke="none" stroke-width="0.5" />
<circle cx="540.06" cy="300.68" r="1.35" fill="#1e96d8" stroke="none" stroke-width="0.5" />
<rect x="438.30" y="268.80" width="107.70" height="76.00" fill="none" stroke="#8a8a8a" stroke-width="0.6" />
<line x1="438.30" y1="268.80" x2="438.30" y2="344.80" stroke="#555" stroke-width="0.6" />
<line x1="438.30" y1="344.80" x2="546.00" y2="344.80" stroke="#555" stroke-width="0.6" />
<line x1="438.30" y1="343.80" x2="439.80" y2="343.80" stroke="#555" stroke-width="0.5" />
<text x="436.20" y="345.90" font-family='"Liberation Sans", sans-serif' font-size="6.0" text-anchor="end" font-weight="normal" fill="#222" stroke="#222" stroke-width="0.12" >0.6</text>
<line x1="438.30" y1="326.20" x2="439.80" y2="326.20" stroke="#555" stroke-width="0.5" />
<text x="436.20" y="328.30" font-family='"Liberation Sans", sans-serif' font-size="6.0" text-anchor="end" font-weight="normal" fill="#222" stroke="#222" stroke-width="0.12" >0.7</text>
<line x1="438.30" y1="308.60" x2="439.80" y2="308.60" stroke="#555" stroke-width="0.5" />
<text x="436.20" y="310.70" font-family='"Liberation Sans", sans-serif' font-size="6.0" text-anchor="end" font-weight="normal" fill="#222" stroke="#222" stroke-width="0.12" >0.8</text>
<line x1="438.30" y1="291.00" x2="439.80" y2="291.00" stroke="#555" stroke-width="0.5" />
<text x="436.20" y="293.10" font-family='"Liberation Sans", sans-serif' font-size="6.0" text-anchor="end" font-weight="normal" fill="#222" stroke="#222" stroke-width="0.12" >0.9</text>
<line x1="438.30" y1="273.40" x2="439.80" y2="273.40" stroke="#555" stroke-width="0.5" />
<text x="436.20" y="275.50" font-family='"Liberation Sans", sans-serif' font-size="6.0" text-anchor="end" font-weight="normal" fill="#222" stroke="#222" stroke-width="0.12" >1.0</text>
<line x1="439.50" y1="344.80" x2="439.50" y2="343.30" stroke="#555" stroke-width="0.5" />
<text x="439.50" y="351.60" font-family='"Liberation Sans", sans-serif' font-size="6.0" text-anchor="middle" font-weight="normal" fill="#222" stroke="#222" stroke-width="0.12" >0</text>
<line x1="456.26" y1="344.80" x2="456.26" y2="343.30" stroke="#555" stroke-width="0.5" />
<text x="456.26" y="351.60" font-family='"Liberation Sans", sans-serif' font-size="6.0" text-anchor="middle" font-weight="normal" fill="#222" stroke="#222" stroke-width="0.12" >200</text>
<line x1="473.02" y1="344.80" x2="473.02" y2="343.30" stroke="#555" stroke-width="0.5" />
<text x="473.02" y="351.60" font-family='"Liberation Sans", sans-serif' font-size="6.0" text-anchor="middle" font-weight="normal" fill="#222" stroke="#222" stroke-width="0.12" >400</text>
<line x1="489.78" y1="344.80" x2="489.78" y2="343.30" stroke="#555" stroke-width="0.5" />
<text x="489.78" y="351.60" font-family='"Liberation Sans", sans-serif' font-size="6.0" text-anchor="middle" font-weight="normal" fill="#222" stroke="#222" stroke-width="0.12" >600</text>
<line x1="506.54" y1="344.80" x2="506.54" y2="343.30" stroke="#555" stroke-width="0.5" />
<text x="506.54" y="351.60" font-family='"Liberation Sans", sans-serif' font-size="6.0" text-anchor="middle" font-weight="normal" fill="#222" stroke="#222" stroke-width="0.12" >800</text>
<line x1="523.30" y1="344.80" x2="523.30" y2="343.30" stroke="#555" stroke-width="0.5" />
<text x="523.30" y="351.60" font-family='"Liberation Sans", sans-serif' font-size="6.0" text-anchor="middle" font-weight="normal" fill="#222" stroke="#222" stroke-width="0.12" >1000</text>
<line x1="540.06" y1="344.80" x2="540.06" y2="343.30" stroke="#555" stroke-width="0.5" />
<text x="540.06" y="351.60" font-family='"Liberation Sans", sans-serif' font-size="6.0" text-anchor="middle" font-weight="normal" fill="#222" stroke="#222" stroke-width="0.12" >1200</text>
<text x="489.20" y="359.50" font-family='"Liberation Sans", sans-serif' font-size="7.15" text-anchor="middle" font-weight="normal" fill="#222" stroke="#222" stroke-width="0.12" >Time (Hours)</text>
<text x="0.00" y="0.00" font-family='"Liberation Sans", sans-serif' font-size="7.0" text-anchor="middle" font-weight="normal" fill="#222" stroke="#222" stroke-width="0.12" transform="translate(423.0,310.3) rotate(-90)">Normalized PCE</text>
<line x1="451.70" y1="311.40" x2="462.60" y2="311.40" stroke="#1e96d8" stroke-width="0.9" />
<circle cx="457.10" cy="311.40" r="1.35" fill="#1e96d8" stroke="none" stroke-width="0.5" />
<text x="466.70" y="313.70" font-family='"Liberation Sans", sans-serif' font-size="6.4" text-anchor="start" font-weight="normal" fill="#222" stroke="#222" stroke-width="0.12" >Pristine</text>
<line x1="451.70" y1="320.40" x2="462.60" y2="320.40" stroke="#e83a3a" stroke-width="0.9" />
<circle cx="457.10" cy="320.40" r="1.35" fill="#e83a3a" stroke="none" stroke-width="0.5" />
<text x="466.70" y="322.70" font-family='"Liberation Sans", sans-serif' font-size="6.4" text-anchor="start" font-weight="normal" fill="#222" stroke="#222" stroke-width="0.12" >TPAI</text>
</svg></body></html>
